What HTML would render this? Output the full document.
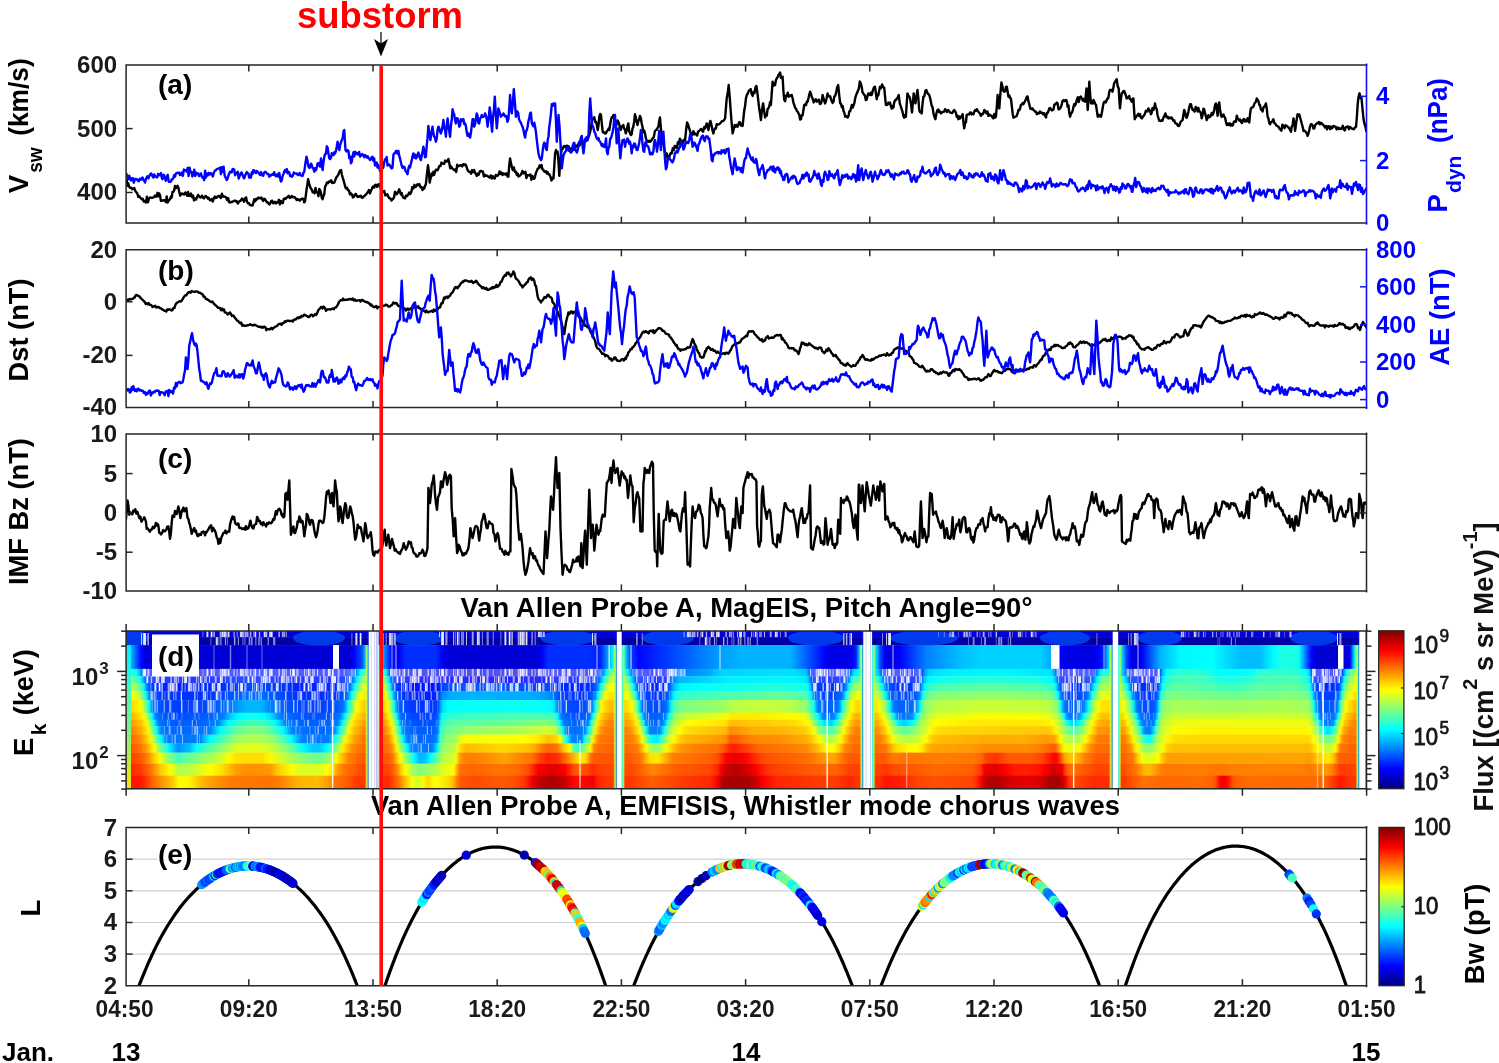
<!DOCTYPE html>
<html><head><meta charset="utf-8"><title>figure</title>
<style>
html,body{margin:0;padding:0;background:#fff;}
svg{display:block;font-family:"Liberation Sans",sans-serif;font-weight:bold;}
.ax{fill:none;stroke:#262626;stroke-width:1.5;stroke-linecap:square}
.axb{fill:none;stroke:#1010ff;stroke-width:1.6;stroke-linecap:square}
.tk{stroke:#262626;stroke-width:1.5}
.tkb{stroke:#1212ff;stroke-width:1.5}
.tl{font-size:24px;fill:#1a1a1a}
.bl{fill:#0000ff !important}
.yl{fill:#000}
.k{fill:none;stroke:#000;stroke-width:2.4;stroke-linejoin:round}
.b{fill:none;stroke:#0000ff;stroke-width:2.4;stroke-linejoin:round}
.g{stroke:#d0d0d0;stroke-width:1.2}
.cb{font-weight:normal;font-size:23.6px;fill:#161616;stroke:#161616;stroke-width:0.85}
.cbs{font-weight:normal;font-size:18px;fill:#161616;stroke:#161616;stroke-width:0.7}
</style></head><body>
<svg width="1499" height="1063" viewBox="0 0 1499 1063">
<rect width="1499" height="1063" fill="#fff"/>
<clipPath id="ca"><rect x="126.1" y="65.1" width="1240.4" height="158.0"/></clipPath><g clip-path="url(#ca)">
<path d="M126.1 182 126.7 180.1 127.5 185.8 128.3 183.5 129.2 186.8 130.2 187.8 131.3 187.8 132.3 189.3 133.3 188.4 134.3 188 135.3 191.1 136.3 192.3 137.3 193.5 138.3 196.8 139.2 196.1 140 197.2 140.8 198.2 141.7 199.3 142.7 198.7 143.8 201.6 144.8 200.9 145.9 202.6 146.9 196.8 147.9 202.4 148.9 199 149.9 197.5 150.9 197.6 151.9 197.8 152.9 197.6 153.9 197.2 154.9 195.6 155.9 196.8 156.7 196.2 157.5 192.8 158.4 196.4 159.2 193.4 160 195.3 160.9 200.9 161.7 200.4 162.5 200.5 163.4 200.6 164.2 200.1 165 200.3 165.9 202.1 166.7 196.5 167.5 202.6 168.4 201.1 169.2 199.9 170 199.3 170.9 196.5 171.7 197.6 172.5 192 173.4 191.8 174.2 190.2 175 186 175.9 188.2 176.7 186.8 177.5 185.8 178.4 187.5 179.2 191.8 180.2 195.7 181.3 193.9 182.3 193.4 183.4 194.3 184.3 194.6 185.3 192.4 186.2 193.2 187.2 195.7 188.1 192 189.1 195.9 190 195.9 191 193.6 192 196.9 193 195.5 194 200.4 195.1 198.4 196.1 199.6 197.1 197.1 198.1 194.9 199.1 196.4 200.1 197.6 201 197.2 202 195.6 202.9 197.5 203.9 198.4 204.8 196.7 205.8 196 206.7 196.8 207.8 198.6 208.8 197.8 209.9 200.4 210.9 200.1 211.9 199 212.8 201.5 213.8 198.2 214.8 196.6 215.8 198 216.7 197.6 217.8 196.3 218.8 195.8 219.9 196.9 220.9 198.1 221.9 193.6 223 196.7 224 196.4 225.1 196.8 226.1 197.5 227.1 200.1 228.1 198.1 229.1 202.2 230.1 202.6 231 201.8 232 202.1 232.9 201.4 233.9 201 234.8 200.4 235.8 201.6 236.7 200.9 237.8 203.6 238.8 201.7 239.9 201.1 240.9 200.4 242 198.5 243 199.8 244 201.7 245.1 198.4 246.1 197.4 247 201.8 248 203.2 249 203.2 249.9 205 250.9 205.1 251.8 205.6 252.6 205.4 253.4 202.6 254.3 199.3 255.3 201.2 256.3 198.8 257.4 199.2 258.4 197.6 259.4 198 260.3 198.4 261.3 197.5 262.2 199.5 263.2 200.9 264.1 198.7 265.1 199.3 265.9 200.6 266.8 202.2 267.6 202.3 268.4 203.4 269.4 204.5 270.3 203.3 271.3 200.9 272.2 200.8 273.2 203.3 274.2 202.9 275.1 201.8 276.1 203.5 277 202.3 278 202.4 278.9 199.8 279.9 204.4 280.8 201 281.8 202.6 282.8 203.1 283.8 198.8 284.8 198.5 285.8 198.8 286.8 197.6 287.8 196.6 288.8 195.8 289.8 197.9 290.8 197.2 291.8 195.9 292.8 197.3 293.8 197 294.8 197.1 295.8 198.5 296.8 200.1 297.8 199.1 298.8 199.7 299.8 200.7 300.8 199.1 301.8 199.3 302.6 198.4 303.5 199.1 304.3 202.4 305.1 200.9 305.8 195.7 306.5 190.1 307.3 185 308.1 179.2 309.1 183.4 310.1 186.8 311 188.9 311.8 189.4 312.6 192.3 313.5 191.8 314.5 193.2 315.5 187.9 316.6 192.2 317.6 192.6 318.5 196.2 319.3 189 320.1 190.1 321 193.3 321.8 197.8 322.6 199.3 323.5 195.7 324.3 194.2 325.1 186.7 326 185.1 327 182.4 328.1 183.1 329.1 181.5 330.1 181.7 331.2 180.3 332.2 183 333.3 182.8 334.3 182.6 335.1 180.6 336 178.1 336.8 176.7 337.9 175.5 338.9 173.2 339.9 170.6 341 170.1 341.8 174.2 342.6 177.3 343.5 180.1 344.3 183 345.2 186.7 346 188.4 347 187.8 348 190.2 349 190.6 350 194.4 351 193.4 352 194.6 352.9 197.4 353.9 197 354.9 194.5 355.9 193.9 356.8 195.9 357.8 197 358.8 196.2 359.8 196.7 360.8 195.7 361.8 197.6 362.8 197.7 363.8 196.2 364.8 195.7 365.8 194.7 366.8 193.4 367.9 192.1 368.9 190.1 370 193.4 370.8 190.9 371.7 189.3 372.5 187.3 373.3 186.4 374.2 187.6 375 185.1 376 184.7 377.1 186.9 378.1 184.7 379.2 184.2 380.2 187.2 381.3 188.8 382.3 191.1 383.3 191.8 384.3 190.9 385.3 195.4 386.3 194.9 387.3 194.3 388.3 196.8 389.4 198.3 390.4 198.5 391.5 200.6 392.5 199.3 393.4 198.7 394.2 196.5 395 191.8 395.9 192.6 396.7 194.3 397.5 193.2 398.4 191.3 399.2 189.3 400 191.6 400.9 194.4 401.7 193 402.5 195.9 403.4 197.8 404.2 197.6 405 198.4 406.1 195.5 407.1 196.1 408.2 194.6 409.2 192.6 410.2 194.1 411.3 191.9 412.3 187.1 413.4 188.4 414.4 184.8 415.4 187 416.4 186.1 417.4 184.3 418.4 185.1 419.4 184.1 420.5 187.3 421.5 187.1 422.5 190.1 423.4 187.6 424.2 188.5 425 186.1 425.9 184.2 427 173.5 428 165.1 428.9 172.1 429.7 182.6 430.7 177.7 431.7 173.4 432.5 175.6 433.4 171.8 434.2 174.8 435 171.7 435.9 169.7 436.7 169.8 437.5 170.3 438.4 168.4 439.4 166 440.5 166 441.5 162.6 442.6 163.4 443.4 163.8 444.2 163.9 445.1 160.6 445.9 160.9 446.7 161.6 447.6 161.1 448.4 158.9 449.2 162.6 450.2 168.2 451.2 166.5 452.2 168.3 453.2 169.2 454.2 170.1 455.2 169.5 456.2 172 457.2 164.8 458.2 166.3 459.2 165.9 460.2 165.1 461.2 165.3 462.2 166.4 463.2 164.2 464.2 165.1 465.2 164.2 466.2 165.6 467.2 169.1 468.1 170.9 469.1 171.8 470.1 171.7 471.1 173.7 472.2 170.1 473.2 172 474.2 170.1 475.1 173 475.9 173.7 476.7 175.9 477.8 173.5 478.8 174.7 479.9 171.1 480.9 170.9 481.9 171.5 482.9 171.4 483.9 176.5 484.9 174.8 485.9 175.9 486.9 175.6 487.9 176.4 488.8 176.8 489.8 177.7 490.8 175.4 491.8 178.4 492.8 176.2 493.8 178.2 494.8 178.5 495.8 174.9 496.8 175.9 497.7 175.7 498.7 174.3 499.6 171.4 500.6 174 501.5 172.5 502.5 175.1 503.4 173.4 504.4 173.8 505.4 174.7 506.4 173.2 507.4 176.3 508.4 176.7 509.3 164.6 510.1 158.4 510.9 162.9 511.8 166.7 512.8 170.1 513.8 167.4 514.9 171.8 515.9 171.7 516.8 174.9 517.6 173.5 518.4 176.5 519.3 175.9 520.3 175.4 521.4 173.9 522.4 171 523.4 173.4 524.4 172.1 525.4 171.8 526.4 178 527.4 175.1 528.4 175.1 529.4 175.5 530.4 174.4 531.4 179.7 532.4 176 533.4 178.4 534.3 178.8 535.1 176.3 535.9 172.9 536.8 170.9 537.7 168.7 538.6 168.5 539.6 165.4 540.5 167.2 541.5 165.1 542.4 169.3 543.3 169.7 544.2 171.6 545.1 171.7 546 171.3 546.8 173.5 547.6 172.1 548.5 174.2 549.5 174.4 550.5 177 551.5 180.5 552.5 177.7 553.5 178.4 554.3 166 555.1 153.4 556 150 556.8 152.5 557.6 151.7 558.5 162.5 559.3 175.9 560.1 162.5 561 153.4 561.8 148.9 562.6 149.2 563.5 146.7 564.5 145.9 565.6 147.3 566.6 145.7 567.6 145.9 568.7 146.5 569.7 149.3 570.8 149 571.8 148.4 572.8 149.2 573.8 149.9 574.8 147.7 575.8 145.6 576.8 146.7 577.8 144.9 578.8 143 579.8 145.3 580.8 143.4 581.8 143.4 582.8 143.5 583.8 143.3 584.8 140.2 585.8 141 586.8 140.1 587.6 139.9 588.5 136 589.3 135.2 590.2 131.7 591 127 591.8 121.4 592.7 118.4 593.5 118.9 594.3 117.2 595.2 121.9 596 121.7 596.8 125.1 597.7 130 598.5 125.4 599.3 116.7 600.2 114 601 115 601.8 123.6 602.7 131.7 603.5 132.6 604.3 132.2 605.2 133.5 606 133.4 606.8 131.4 607.7 130.1 608.5 128.8 609.3 130 610.2 124.2 611 120 611.8 117.1 612.7 117.1 613.5 115 614.3 118.4 615.1 121.8 615.8 126.7 616.7 123.9 617.5 120.5 618.3 121.7 619.2 123.9 620 127.9 620.8 130 621.7 126.4 622.5 126.3 623.3 125 624.2 128.8 625 129.6 625.8 133.4 626.7 130.3 627.5 126.1 628.3 123.4 629.2 131 630 133.3 630.8 135.1 631.7 134.1 632.5 128.5 633.3 126.7 634.2 121.4 635 114.2 635.9 117.6 636.7 122 637.5 125 638.4 121.1 639.2 119.2 640 115.9 640.9 118.3 641.7 123.5 642.5 126.7 643.4 132.3 644.2 130.5 645 133.5 645.9 138.4 646.7 140.3 647.5 141.8 648.4 141.7 649.2 140.7 650 141.8 650.9 141.1 651.7 140.1 652.7 138.4 653.8 137.1 654.8 131.6 655.9 130 656.7 129.9 657.5 128.1 658.4 126.7 659.2 121.1 660 117.5 661 129.6 662 140.1 663 142.5 664 146.7 665 153.4 665.9 155.9 666.7 153.4 667.5 158.5 668.4 156.7 669.2 157.5 670 154.3 670.9 152.9 671.7 153.4 672.8 148.3 673.8 149.9 674.8 145.9 675.9 146.7 676.9 148.1 677.9 142.2 678.9 143.8 679.9 138.6 680.9 141.7 681.9 140.8 683 142.9 684 139.8 685.1 140.1 686.1 130 687.1 122.5 688.1 124.7 689.2 128.4 690.1 131.2 690.9 134.2 691.7 135.1 692.6 134.3 693.4 131.1 694.2 134.3 695.1 133.4 696.1 134.2 697.1 135.6 698.1 131.6 699.1 131 700.1 130 701.1 128.9 702.1 130.5 703.1 131.7 704.1 127.2 705.1 128.4 705.9 126 706.7 123.4 707.6 125.1 708.4 130 709.4 124.4 710.4 120.9 711.4 124.8 712.4 130 713.4 133.4 714.2 129.8 715.1 128.3 715.9 128.6 716.7 124.2 717.8 124.6 718.8 124.4 719.9 123.6 720.9 122.5 721.9 121.2 723 121.1 724 120.2 725.1 118.4 725.9 108.4 726.7 98.4 727.7 93.3 728.7 85 729.6 95.9 730.4 106.7 731.5 121.4 732.6 133.4 733.7 129.2 734.7 125 735.7 126.7 736.6 125.1 737.6 126.7 738.4 124.5 739.3 122.1 740.1 122.5 740.9 125.5 741.8 125.5 742.6 125.9 743.4 118.3 744.3 110 745.1 106 745.9 98.7 746.8 95 747.8 93.5 748.8 90.9 749.8 90 750.7 89.1 751.6 93.5 752.6 95.9 753.6 92 754.5 93 755.5 87.2 756.4 85.9 757.4 92.8 758.4 101.7 759.3 109.3 760.1 113.9 760.9 120 762 109.6 763.1 103.4 764.1 110.8 765.1 117.5 765.9 114.1 766.8 115.6 767.6 109 768.4 108.4 769.3 106.1 770.1 101.9 770.9 105 771.8 92.3 772.6 81.7 773.4 85.7 774.3 83.7 775.1 85 775.9 80.2 776.8 78.3 777.6 77.3 778.4 75 779.3 73.9 780.1 72.5 780.9 77.7 781.8 78.4 782.6 76.7 783.4 90.8 784.3 100 785.1 101.2 786 95.8 786.8 95.9 787.8 92.7 788.8 96.7 789.8 96 790.8 95.2 791.8 95 792.6 98.2 793.5 102.8 794.3 105 795.1 107.6 796 108.8 796.8 110.8 797.6 111.7 798.5 113.3 799.3 114.9 800.1 119.5 801 119.2 801.8 115.3 802.6 115.2 803.5 109.6 804.3 105 805.1 104.3 806 105.1 806.8 101.8 807.6 101.7 808.5 98.1 809.3 94.5 810.1 91.7 811 93.9 811.8 97.2 812.6 98.4 813.7 102.4 814.7 100.8 815.8 99.2 816.8 101.7 817.8 100.8 818.9 99.7 819.9 104.1 821 103.4 821.8 100.5 822.6 95 823.5 98.3 824.3 101.1 825.1 103.4 826 100.8 826.8 97.3 827.6 93.4 828.5 95.8 829.3 96.6 830.1 96.2 831 99.2 831.8 101.5 832.6 102.9 833.5 101.7 834.3 96.4 835.2 95.8 836 93.4 837.1 87.4 838.2 85 839.2 95 840.2 103.4 841 103.8 841.8 107.2 842.7 105.9 843.5 111.2 844.3 112.4 845.2 116.7 846 116.2 846.8 116.4 847.7 117.5 848.5 116.1 849.3 111.5 850.2 111.3 851 108.4 851.8 105 852.7 107.5 853.5 105.3 854.3 103.4 855.2 98.2 856 95.5 856.8 93.4 857.8 91.1 858.8 88.8 859.8 81.5 860.8 83.3 861.7 87 862.5 92.3 863.3 93.4 864.2 94.9 865 95.7 865.8 100 866.7 99.7 867.5 95.9 868.3 93.4 869.2 94.1 870 95.1 870.8 92.7 871.7 95 872.5 91.9 873.3 89.1 874.2 87 875 86.7 875.8 92.4 876.7 99.2 877.5 94.4 878.3 95.4 879.2 90.6 880 86.7 881.1 88.2 882.1 84.5 883.1 87 884.2 87.5 885 96 885.9 105 886.7 104.9 887.5 104.9 888.4 102.5 889.2 103.4 890 102.6 890.9 106.1 891.7 108.7 892.5 105.9 893.4 107.6 894.2 102.5 895 100.3 895.9 100 896.8 98.6 897.8 97.4 898.7 95 899.8 103.6 900.9 106.7 901.7 109.4 902.5 111.7 903.4 115.9 904.2 117.7 905 115.3 905.9 116.7 906.7 103.7 907.5 93.4 908.4 95.8 909.2 96.4 910 98.4 911 103.8 912 112.5 912.9 102.5 913.7 93.4 914.5 97.7 915.4 103.4 916.5 96.3 917.5 90 918.4 98.9 919.2 110 920 112 920.9 111.7 921.7 113.4 922.5 104.1 923.4 96.7 924.4 96.1 925.4 90.8 926.4 90 927.3 92.8 928.3 94.2 929.2 95 930.1 97.9 930.9 101.7 931.7 105.9 932.6 107.2 933.4 113.4 934.4 116.7 935.4 119.2 936.5 113 937.6 110 938.4 109.5 939.2 112.1 940.1 111.4 940.9 113.4 941.9 112.5 943 111.9 944 111.8 945.1 109.2 946.1 110.5 947.1 112.1 948.1 110 949.1 111.3 950.1 112.5 951.1 112.9 952.1 113.1 953.2 111.3 954.2 110 955.1 111.4 955.9 112.8 956.7 116.7 957.6 115.7 958.4 119.2 959.2 116.5 960.1 118.4 960.9 116.6 961.7 116.5 962.6 114.2 963.4 121.9 964.2 128.4 965.1 122.9 965.9 122.5 966.7 115 967.6 114.7 968.4 114.2 969.2 114.4 970.1 112.5 970.9 112.5 971.7 114.4 972.6 113.6 973.4 114.2 974.2 111.6 975.1 110.2 975.9 111 976.7 109.2 977.8 111 978.8 112.3 979.9 113.5 980.9 115.9 981.8 114 982.6 114.2 983.4 113.2 984.3 110 985.3 111.1 986.3 113.3 987.4 111.6 988.4 115.9 989.5 114.5 990.5 115.6 991.5 115.7 992.6 117.5 993.4 118.4 994.3 114 995.1 117.6 995.9 116.7 996.8 106.9 997.6 95 998.4 105 999.3 108.4 1000.3 94.7 1001.4 82.5 1002.4 86.3 1003.3 90.9 1004.3 91.7 1005.1 91.4 1005.9 86.9 1006.8 86.7 1007.6 91.1 1008.4 96.7 1009.3 95.5 1010.1 97.9 1010.9 98.4 1011.8 105.8 1012.6 113.2 1013.4 117.5 1014.5 117.3 1015.5 116.8 1016.6 116 1017.6 113.4 1018.4 110 1019.3 110.2 1020.1 108.6 1020.9 105 1021.8 104.5 1022.6 103 1023.4 104.2 1024.3 102.6 1025.1 100.7 1025.9 99.6 1026.8 96.7 1027.6 96.5 1028.4 101.1 1029.3 104.2 1030.3 108.7 1031.4 109.1 1032.4 108.3 1033.5 110 1034.3 110.6 1035.1 111.7 1036 111.7 1036.8 114.2 1037.8 113.2 1038.8 113.5 1039.8 111.4 1040.8 112.8 1041.8 112.5 1042.8 114.2 1043.9 113.1 1044.9 115.6 1046 117.5 1046.8 112.9 1047.6 113 1048.5 111 1049.3 108.4 1050.1 108 1051 109.3 1051.8 110.4 1052.6 110 1053.5 109.4 1054.3 104.7 1055.1 104.5 1056 103.4 1056.8 102.6 1057.6 103.4 1058.5 109.3 1059.3 109.2 1060.1 108.3 1061 106.9 1061.8 104.1 1062.6 100.9 1063.7 100.1 1064.7 101.2 1065.8 100 1066.8 100.9 1067.6 106.9 1068.5 105.2 1069.3 113.3 1070.1 116.7 1071 113.4 1071.8 112.8 1072.6 111 1073.5 106.7 1074.3 104.1 1075.1 105.4 1076 103.3 1076.8 100 1077.8 97.3 1078.8 102.1 1079.8 97.2 1080.8 96.6 1081.8 98.4 1082.7 100.6 1083.5 98.9 1084.3 101.2 1085.2 101.7 1085.8 95 1086.5 88.4 1087.1 97.7 1087.7 110 1088.5 98.3 1089.3 81.7 1090.2 94.8 1091 103.4 1091.8 102.4 1092.7 103.5 1093.5 100 1094.3 101.7 1095.2 103.8 1096 105 1096.8 110.4 1097.7 116.7 1098.5 114.7 1099.3 116.2 1100.2 115.3 1101 116.7 1101.8 112.9 1102.7 108 1103.5 103.4 1104.3 101.7 1105 101.7 1105.8 102.5 1106.7 100 1107.5 98.4 1108.3 98.3 1109.2 92.2 1110 90 1110.8 90 1111.7 90 1112.5 91.7 1113.3 87.9 1114.2 83.3 1115 81.7 1115.8 80.6 1116.7 79.2 1117.7 86.4 1118.7 88.4 1119.3 99.6 1120 108.4 1120.8 99.9 1121.7 93.4 1122.5 93.1 1123.3 91.3 1124.2 90.9 1125 92.9 1125.9 95.5 1126.7 98.4 1127.5 97.6 1128.4 97.7 1129.2 95.9 1130 99.3 1130.9 99.8 1131.7 101.7 1132.5 98.8 1133.4 98.4 1134 108.8 1134.7 119.2 1135.6 117.5 1136.6 116 1137.5 115 1138.4 113.8 1139.2 116.1 1140 114.2 1140.9 117.5 1141.9 118.4 1142.9 116.6 1144 115.5 1145 113.4 1145.9 110.7 1146.7 111.2 1147.5 111.5 1148.4 108.4 1149.2 110 1150 110.7 1150.9 114.2 1151.7 112.6 1152.5 108 1153.4 110 1154.2 108.1 1155 103.4 1155.9 107.9 1156.7 109.1 1157.5 115 1158.4 118 1159.2 120.6 1160 120.9 1160.9 121 1161.7 120.2 1162.5 120.7 1163.4 117.5 1164.4 115.8 1165.4 113.4 1166.4 117.2 1167.4 116.4 1168.4 118.4 1169.4 117.5 1170.5 118.3 1171.5 117.4 1172.5 119.2 1173.4 120.8 1174.2 120.2 1175.1 122.9 1175.9 123.4 1176.9 123.9 1178 125.8 1179 126 1180.1 123.4 1180.9 121.4 1181.7 120.9 1182.6 120 1183.4 114.8 1184.2 110 1185.1 112.4 1185.9 116.7 1186.7 117.8 1187.6 115.2 1188.4 111.7 1189.2 107.6 1190.1 104.2 1190.9 104.1 1191.7 107.1 1192.6 110 1193.6 109.7 1194.6 111.6 1195.7 106.9 1196.7 108.4 1197.6 111.4 1198.4 107.9 1199.2 111.4 1200.1 111.7 1200.9 113.3 1201.7 118.4 1202.6 114.7 1203.4 108.7 1204.2 109.2 1205.1 113.7 1205.9 116.5 1206.7 120 1207.6 117.6 1208.4 115.2 1209.2 117.4 1210.1 116.7 1210.9 115.8 1211.7 112.9 1212.6 114.9 1213.4 113.4 1214.2 109.8 1215.1 105 1215.9 103.4 1216.7 108.4 1217.6 115.9 1218.4 105.5 1219.2 102.5 1220.1 109.9 1220.9 115 1221.7 116.9 1222.6 115.6 1223.4 114.4 1224.2 116.7 1225.1 117.8 1225.9 121.8 1226.8 125 1227.8 123.5 1228.8 125.1 1229.8 123.2 1230.8 125.7 1231.8 124.2 1232.8 125.4 1233.8 122 1234.9 121.1 1235.9 121.7 1236.8 115.6 1237.6 118.4 1238.4 119.2 1239.3 120.6 1240.1 119.4 1240.9 121.7 1241.9 123 1242.9 120 1243.9 118.9 1244.9 121.6 1245.9 120 1246.8 121.3 1247.6 118.2 1248.4 120.8 1249.3 122.5 1250.1 113.5 1250.9 108.4 1251.8 107.5 1252.6 107.5 1253.4 106.7 1254.3 103.9 1255.1 102.7 1255.9 101.8 1256.8 98.4 1257.6 100.1 1258.4 100.9 1259.3 105 1260.1 105.2 1260.9 109.6 1261.8 110 1262.6 111.5 1263.4 107.5 1264.3 106.7 1265.1 105.6 1265.9 103.4 1266.8 108.8 1267.6 116.7 1268.4 118.3 1269.3 123.1 1270.1 124.2 1270.9 122.2 1271.8 121.9 1272.6 120.6 1273.4 119.2 1274.3 122.9 1275.1 123.4 1276 125 1276.8 125.8 1277.6 126.2 1278.5 126.7 1279.3 128.4 1280.3 129.5 1281.4 130.7 1282.4 124.7 1283.5 126.7 1284.5 128.2 1285.5 125.2 1286.6 125.8 1287.6 126.7 1288.5 127.5 1289.3 128.5 1290.1 129.9 1291 131.7 1291.8 126.3 1292.6 125.5 1293.5 118.4 1294.3 122.4 1295.1 130.9 1296 124.3 1296.8 118.6 1297.6 114.2 1298.5 115.6 1299.3 114.5 1300.1 117.5 1301 120.6 1301.8 123.8 1302.6 126.7 1303.5 131.1 1304.3 130.6 1305.1 131 1306 132.5 1306.8 133 1307.6 135.8 1308.5 133.4 1309.3 130.1 1310.1 126.2 1311 124.2 1311.8 124.3 1312.6 125.7 1313.5 128.6 1314.3 128.4 1315.1 125.2 1316 124.2 1316.8 123.4 1317.8 123.3 1318.8 122 1319.8 124.3 1320.8 122.8 1321.8 123.4 1322.9 124.7 1323.9 125.4 1324.9 127.5 1326 125.9 1327 129.3 1328.1 126.2 1329.1 126.4 1330.2 129.2 1331 126.6 1331.8 128.2 1332.7 127.5 1333.5 125.9 1334.5 126.3 1335.6 126.6 1336.6 129.4 1337.7 127.5 1338.7 129.1 1339.7 128.3 1340.8 129.1 1341.8 128.4 1342.8 125.8 1343.8 129.5 1344.8 130.4 1345.8 127.2 1346.8 126.7 1347.9 126.4 1348.9 129.2 1350 126.9 1351 128 1352 128.6 1353 129 1354 129.2 1355 127.4 1356 127 1356.8 118 1357.7 104.1 1358.5 97 1359.5 93.3 1360.4 98.1 1361.4 97 1362.5 108.8 1363.5 119 1364.5 123.7 1365.5 127.1 1366.5 132.0" class="k"/>
<path d="M126.1 173 126.7 175.1 127.5 176.1 128.3 179.2 129.2 175.7 130 178.4 131 180.5 131.9 178.1 132.9 178.2 133.8 182.7 134.8 179.3 135.7 179 136.7 179.2 137.7 180.5 138.7 181.2 139.7 178.7 140.7 179.8 141.7 178.4 142.5 177.5 143.3 179.8 144.2 180.7 145 182.6 145.9 178.9 146.7 177.5 147.5 176.2 148.4 178.4 149.2 176.3 150 174.7 150.9 173.4 151.7 174.2 152.5 176.3 153.4 177.6 154.3 174.5 155.3 176.6 156.3 176.8 157.2 177.4 158.2 173.8 159.2 175.1 160 175.3 160.9 173.1 161.7 177.2 162.5 179.2 163.6 174.6 164.6 176 165.7 180.8 166.7 178.4 167.7 174.8 168.8 181.7 169.8 181.6 170.9 181.7 171.7 179.5 172.5 179.3 173.4 177.8 174.2 175.1 175 176.6 175.9 173.5 176.7 173.4 177.5 172.6 178.4 173 179.2 172.7 180 175.1 181 174.5 181.9 172.6 182.9 175.8 183.9 169.4 184.8 170.5 185.8 170.3 186.7 171.7 187.7 167.8 188.6 176 189.6 167.6 190.5 172.1 191.5 171.9 192.4 176.5 193.4 173.4 194.3 169.7 195.3 176 196.2 172.7 197.2 174.1 198.1 173.3 199.1 176.1 200.1 175.1 200.9 173.4 201.7 176.2 202.6 177.7 203.4 177.6 204.2 180.2 205.1 170.7 205.9 177.5 206.7 173.4 207.7 175.5 208.7 172.8 209.7 174.5 210.7 173.1 211.7 174.2 212.8 176.5 213.8 172.6 214.9 170.7 215.9 170.1 216.7 169.2 217.6 168.8 218.4 168.5 219.2 168.4 220.1 167.5 220.9 174.2 221.7 167.1 222.6 171.7 223.6 166.6 224.7 175.7 225.7 177.7 226.7 180.1 227.6 178.7 228.4 175.5 229.2 173.5 230.1 171.7 230.9 171.8 231.7 172.4 232.6 169 233.4 169.2 234.2 169.5 235.1 175.2 235.9 173.4 236.7 173.4 237.7 171.7 238.7 178.6 239.7 175.8 240.6 173.3 241.6 172.4 242.6 175.1 243.4 177.3 244.2 178.4 245.1 175.5 245.9 173.8 246.8 172.1 247.6 173.4 248.4 173.4 249.3 177.7 250.1 175.7 250.9 177.6 251.8 172.2 252.6 173.9 253.4 170.1 254.3 170.4 255.1 172.2 255.9 173.1 256.8 170.9 257.6 171.6 258.4 172.7 259.3 173.9 260.1 175.1 261.1 172.1 262.1 175.1 263.1 175.8 264.1 172.8 265.1 171.7 266.1 172.5 267.2 173.7 268.2 173.9 269.3 176.7 270.2 174.9 271.2 175.4 272.2 174.2 273.2 174.8 274.1 172.2 275.1 175.1 275.9 176.2 276.8 176 277.6 174 278.4 176.7 279.3 173 280.1 178.4 280.9 181.5 281.8 180.1 282.6 176.1 283.4 174.1 284.3 171.4 285.1 170.1 285.9 171.8 286.8 169.1 287.6 173.3 288.4 171.7 289.3 172.4 290.1 176.1 290.9 175.6 291.8 176.7 292.8 175.6 293.8 172.5 294.8 173.4 295.8 173.6 296.8 173.4 297.8 175.1 298.8 174.6 299.8 173 300.8 175.6 301.8 175.1 302.6 175.9 303.5 172.6 304.3 171.7 305.4 163.4 306.5 156.7 307.5 160.9 308.5 166.7 309.3 167.9 310.1 167 311 163.6 311.8 165.1 312.6 168 313.5 168.6 314.3 171.7 315.1 168.2 316 170.1 316.8 167.1 317.6 163.4 318.5 163.1 319.3 165.8 320.1 166.7 321 158.4 321.8 165.2 322.6 170.1 323.5 162.1 324.3 156.7 325.1 154.2 326 153.5 326.8 146.3 327.6 147.6 328.5 153.6 329.3 158.4 330.1 159 331 157.7 331.8 153.2 332.6 155.1 333.5 155.1 334.3 152.2 335.1 153.4 336 150.6 336.8 146.8 337.6 141.7 338.5 146.3 339.3 150.1 340.1 145.2 341 142.2 341.8 140.1 342.6 138.4 343.5 131.6 344.3 130 344.9 141 345.5 150.1 346.5 151.4 347.5 150.1 348.5 150.9 349.3 158.4 350.2 156.5 351 163.3 351.8 161.7 352.7 155.2 353.5 152.2 354.3 156.2 355.2 151.7 356.2 154 357.2 153.1 358.2 154.6 359.2 151.9 360.2 156.7 361.2 155.1 362.2 154 363.2 155.3 364.2 157.2 365.2 155.1 366 156 366.8 157.5 367.7 156.2 368.5 158.4 369.3 158.4 370 160.1 370.8 159.2 371.7 157.3 372.5 156.7 373.3 160.9 374.2 158.3 375 165.5 375.8 163.4 376.7 162.5 377.5 167.6 378.3 165 379.2 167.6 380 171.1 380.8 168.3 381.7 169 382.5 168.4 383.3 167.6 384.2 162.5 385 159.4 385.8 159.2 386.7 157.1 387.5 165.6 388.3 165.1 389.2 164.5 390 165.6 390.9 167.5 391.7 168.4 392.5 167.4 393.4 154.9 394.2 153.4 395 153.1 395.9 150.9 396.7 150.9 397.5 153.8 398.4 151 399.2 155.7 400 158.4 400.9 162.2 401.7 165.7 402.5 167.8 403.4 166.7 404.4 166.9 405.4 170.6 406.5 172.1 407.5 174.2 408.4 168.8 409.2 165.9 410 167.6 410.9 163.4 411.7 160.6 412.5 156.4 413.4 153.4 414.2 157.5 415 154.7 415.9 158.4 416.7 157.5 417.5 154.5 418.4 152.6 419.2 154.9 420 158.5 420.9 160.1 421.7 156 422.5 151.7 423.4 146.7 424.2 150.6 425 157.3 425.9 156.7 426.7 145.8 427.5 138.2 428.4 125.9 429.4 134.2 430.4 140.1 431.5 132.7 432.5 126.7 433.4 133.3 434.2 136.7 435 137.5 435.9 141.7 436.7 139 437.5 130.1 438.4 126.7 439.2 128 440.1 131.8 440.9 133.4 441.7 130.6 442.6 126.3 443.4 120 444.2 127.4 445.1 130.7 445.9 136.7 446.7 125.6 447.6 118.4 448.4 125.6 449.2 131.2 450.1 136.7 450.9 125.6 451.7 120.3 452.6 109.2 453.4 113.1 454.2 114.4 455.1 120.7 455.9 123.4 456.7 118.2 457.6 118.4 458.4 120.8 459.2 126.7 460.1 125.3 460.9 119.1 461.7 120 462.6 120.9 463.4 119 464.2 124 465.1 123.4 465.9 126.1 466.7 132.1 467.6 135.9 468.4 133.4 469.2 136.3 470.1 137.6 470.9 133.3 471.7 126.2 472.6 119.2 473.4 119.3 474.2 126.7 475.1 124.1 475.9 119.6 476.7 113.4 477.6 116 478.4 122.9 479.2 123.4 480.1 118.5 480.9 117.6 481.7 115 482.6 116.8 483.4 116.8 484.2 116.3 485.1 113.4 485.9 115.6 486.7 118.7 487.6 126.7 488.7 117.9 489.7 107.5 490.5 112.7 491.3 123.4 492.1 131.7 493 117.5 493.9 110.5 494.8 96.7 495.8 114.1 496.8 128.4 497.6 119.5 498.4 108.4 499.3 111.2 500.1 114 500.9 116.7 501.8 115 502.6 115.2 503.4 113.4 504.4 115 505.4 116.6 506.4 116 507.4 121.8 508.4 119.2 509.3 107.7 510.1 95 510.9 107 511.8 113.4 512.8 103.9 513.8 89.2 514.8 101.2 515.9 116.7 517 111.2 518.1 112.5 519.1 119.6 520.1 121.7 520.9 122.6 521.8 125.2 522.6 126.7 523.4 129.8 524.3 134.2 525.1 137.6 525.9 131.6 526.8 130.1 527.6 126.7 528.4 121.3 529.3 117.8 530.1 113.4 530.9 112.6 531.8 122.8 532.6 125 533.4 126.3 534.3 122.7 535.1 126.7 535.9 131.9 536.8 140.1 537.6 146.7 538.4 153 539.3 156.7 540.1 158.4 541 160.1 541.8 158.5 542.6 151.4 543.5 144.9 544.3 142.6 545.1 143.7 546 149 546.8 150.1 547.6 141.1 548.5 136.2 549.3 126.7 550.1 121.2 551 112.9 551.8 104.2 552.6 106 553.5 103.4 554.3 103.6 555.1 103.4 556 121.4 556.8 141.7 557.6 127.2 558.5 115 559.5 126.1 560.5 143.4 561.1 154.8 561.8 168.4 562.6 161.3 563.5 155.5 564.3 153.4 565.1 152 566 151 566.8 147.7 567.6 146.7 568.7 150.7 569.7 151.1 570.8 152.6 571.8 151.7 572.6 146.4 573.5 143.4 574.3 142.7 575.1 149.1 576 150.9 576.8 152.6 577.6 150.4 578.5 146.2 579.3 141.7 580.1 142.3 581 137.3 581.8 135.9 582.6 146 583.5 153.4 584.3 146.6 585.1 138.8 586 138.4 586.8 136.9 587.6 140.3 588.5 136.7 589.3 114.2 590.2 98.4 591.2 113.7 592.2 125 593.2 127 594.3 131.7 595.2 133.1 596 136.2 596.8 138.4 597.7 139.6 598.5 138.1 599.3 141.1 600.2 141.7 601 143.9 601.8 145.9 602.7 144 603.5 146.7 604.3 147 605.2 145 606 138.4 606.8 151.1 607.7 154.2 608.5 147.6 609.3 146.7 610.2 138.6 611 138.4 611.8 135.3 612.7 131.7 613.5 126.7 614.3 118.6 615 115 615.8 126 616.7 143.4 617.5 136.3 618.3 128.4 619.3 144.6 620.3 158.4 621.4 147.6 622.5 140.1 623.3 141.8 624.2 139.4 625 146.7 625.8 142.5 626.7 141.5 627.5 138.4 628.3 139.8 629.2 143.8 630 141.7 630.8 145.3 631.7 153.4 632.5 145.6 633.3 147.6 634.2 143.4 635 143.9 635.9 147.3 636.7 149.8 637.5 150.1 638.4 146.3 639.2 142.9 640 137.8 640.9 130 641.7 133.7 642.5 143.8 643.4 150.9 644.2 151.8 645 144 645.9 141.7 646.7 145.7 647.5 145.8 648.4 147.1 649.2 150.1 650 154.3 650.9 154.2 651.7 152.7 652.5 154.2 653.4 151.3 654.2 142.2 655 140.1 656 144.4 657 151.7 658.1 143.1 659.2 130.9 660 140.5 660.9 150.1 661.7 141.8 662.5 138.7 663.4 131.7 664.2 144.9 665 159.3 665.9 169.2 666.7 167.3 667.5 160.9 668.4 157.6 669.2 157.6 670 159.4 670.9 160.2 671.7 161.7 672.5 162.4 673.4 160.3 674.2 157.6 675 152.6 675.9 152.7 676.7 150.8 677.5 152.5 678.4 150.1 679.2 147.7 680 147.2 680.9 141.7 681.7 143.4 682.5 144.2 683.4 149.6 684.2 148.4 685.1 144.7 685.9 142.1 686.7 143.1 687.6 141.7 688.4 143 689.2 140.5 690.1 134.7 690.9 133.4 691.7 139.1 692.6 146.7 693.4 145.4 694.2 142.6 695.1 143.4 695.9 146 696.7 147.8 697.6 150.9 698.4 144.8 699.2 143.5 700.1 141 700.9 138.4 701.9 136.4 702.8 135.6 703.8 139.4 704.8 141.1 705.8 136.4 706.7 136.7 707.6 136.4 708.4 138.8 709.2 138.4 710.1 145.2 710.9 151.3 711.7 160.1 712.6 161.2 713.4 154.6 714.2 155.1 715.3 153.2 716.3 152.9 717.4 152 718.4 153.4 719.2 152.1 720.1 152.9 720.9 153.8 721.7 150.1 722.6 152.2 723.4 151.8 724.2 150.1 725.1 153.4 725.9 152 726.7 149 727.6 149.4 728.4 148.4 729.2 156.5 730.1 161 730.9 166.7 731.7 170.1 732.6 174.2 733.7 164.8 734.7 158.4 735.8 164.2 736.8 170.1 737.6 169.9 738.4 167.4 739.3 167.8 740.1 168.4 740.9 171.6 741.8 167.9 742.6 172.6 743.4 167 744.3 160.8 745.1 158.4 745.9 158.2 746.8 152.9 747.6 148.4 748.4 151.9 749.3 154.2 750.1 156.5 750.9 158.4 751.8 160.1 752.6 157.5 753.4 161.7 754.3 162.3 755.1 162.9 755.9 158.9 756.8 161.7 757.6 167.8 758.4 172 759.3 175.1 760.1 169.5 760.9 169.1 761.8 167 762.6 165.1 763.4 168.5 764.3 174.7 765.1 178.4 765.9 173.1 766.8 172.4 767.6 170.1 768.4 169.7 769.3 169.9 770.1 167.7 770.9 166.7 771.8 167.5 772.6 170.6 773.4 166.5 774.3 171.7 775.1 172.5 775.9 168.9 776.8 168.4 777.6 167.2 778.4 170 779.3 168.5 780.1 173.4 780.9 171 781.8 176.1 782.6 176.9 783.4 180.1 784.3 179.9 785.1 175 786 175.1 786.8 173.7 787.6 175.7 788.5 182.3 789.3 180.1 790.1 179.7 791 178 791.8 176.8 792.6 178.4 793.5 175.7 794.3 177 795.1 176.7 796 179.3 796.8 182.4 797.6 184 798.5 183.4 799.5 183 800.5 180.1 801.5 178.7 802.5 174.8 803.5 178.4 804.3 174.9 805.1 176.3 806 173.4 806.8 172.6 807.6 175.6 808.5 174.5 809.3 181.2 810.1 181.7 811 180.7 811.8 178.5 812.6 177.5 813.5 175.1 814.3 171 815.1 174.8 816 174.5 816.8 176.7 817.6 178.7 818.5 173.4 819.3 176.2 820.1 178.7 821 184.5 821.8 185.9 822.6 180.3 823.5 181.7 824.3 173.9 825.1 171.7 826 174.4 826.8 175.5 827.6 180.1 828.5 179.5 829.3 171.3 830.1 173.4 831.2 176 832.2 174.3 833.3 177.3 834.3 178.4 835.2 174 836 174.7 836.8 172.5 837.7 170.1 838.7 178.8 839.8 185.1 840.6 182.4 841.4 179.7 842.2 175.1 843.2 177.6 844.2 175.4 845.2 176.7 846.2 174.6 847.2 174.5 848.2 178.6 849.2 176.7 850.2 177.6 851.2 179.2 852.2 176.7 853.2 174.1 854.2 177.4 855.2 175.1 856 181.5 856.8 180.1 857.5 172.2 858.2 165.1 859.2 180.1 860 174.3 860.8 170.6 861.7 168.4 862.5 176 863.3 180.1 864.2 175.6 865 172.6 865.8 170.1 866.7 174.2 867.5 175.7 868.3 178.4 869.2 176.4 870 172.9 870.8 171.7 871.7 175.5 872.5 181.7 873.3 178.7 874.2 175.4 875 171.7 875.8 175.4 876.7 175.7 877.5 179.2 878.3 177.6 879.2 175.6 880 172.5 880.9 170.1 881.7 172.5 882.5 174.6 883.4 174.2 884.2 175.1 885.2 174 886.3 170.6 887.3 172 888.4 170.1 889.2 172.1 890 173.9 890.9 176.7 891.9 174.3 892.9 176.2 894 179.4 895 173.4 896.1 174.7 897.1 174.4 898.2 175.5 899.2 175.1 900 173.3 900.9 174 901.7 171.9 902.5 172.6 903.4 171.5 904.2 173.5 905 173.7 905.9 173.4 906.7 172.4 907.5 170.2 908.4 170.9 909.2 174.1 910 174.2 910.9 180.6 911.7 181.7 912.5 178.8 913.4 177.3 914.2 175.1 915 180 915.9 181.7 916.7 181.6 917.5 176.7 918.4 177.5 919.2 176.7 920 175.5 920.9 170.7 921.7 170.9 922.5 166.7 923.4 172 924.2 172.7 925 173.4 926.1 173.4 927.1 171.9 928.2 171.2 929.2 170.1 930.1 172.2 930.9 176.2 931.7 175.1 932.8 174.2 933.8 172.4 934.8 168.7 935.9 167.6 936.7 173.6 937.6 175.1 938.4 172.6 939.2 172.4 940.1 164.6 940.9 166.7 941.7 169.5 942.6 171 943.4 173.4 944.4 172.7 945.5 176.4 946.5 174.8 947.6 174.2 948.4 174.4 949.2 174 950.1 179.2 950.9 175.9 951.7 178 952.6 178.5 953.4 176.3 954.2 178.4 955.2 179.9 956.2 177.2 957.2 174.4 958.2 173.5 959.2 172.6 960.3 170 961.3 175.1 962.4 172.3 963.4 175.1 964.2 177.8 965.1 176.3 965.9 177 966.7 179.2 967.6 178.7 968.4 177.2 969.2 173.2 970.1 174.2 970.9 174.9 971.7 177.1 972.6 176.2 973.4 177.6 974.2 174.1 975.1 175.4 975.9 173.2 976.7 174.2 977.6 173.7 978.4 175.6 979.2 176 980.1 176.7 980.9 175.7 981.8 172.2 982.6 175.6 983.4 174.2 984.3 176.1 985.1 177.9 985.9 180.9 986.8 179.8 987.6 181.8 988.4 174 989.3 175.1 990.3 172.9 991.3 178.7 992.4 176.6 993.4 179.2 994.3 180.4 995.1 174.5 995.9 175.1 996.8 176.9 997.6 182.3 998.4 183.4 999.3 178.6 1000.1 170.1 1000.9 176 1001.8 180.1 1002.6 176 1003.4 170.1 1004.3 173.2 1005.1 175.9 1005.9 180.1 1006.8 180.2 1007.6 183.7 1008.4 181.7 1009.3 183.8 1010.1 183 1010.9 184.3 1011.8 184.2 1012.8 185.5 1013.9 185.8 1014.9 182.7 1015.9 182.6 1017 183.9 1018 186.2 1019.1 192.1 1020.1 188.4 1021.2 189.1 1022.2 191.4 1023.2 186 1024.3 189.3 1025.1 186.4 1025.9 180.1 1026.8 181.5 1027.6 188.4 1028.4 186.1 1029.3 186.7 1030.1 187.5 1031 187.6 1031.8 187.1 1032.6 186.6 1033.5 185.5 1034.3 184.2 1035.3 183.2 1036.4 189 1037.4 184.4 1038.5 183.4 1039.5 184.5 1040.5 187 1041.6 184.7 1042.6 182.6 1043.5 184.6 1044.3 184.9 1045.1 188.8 1046 185.9 1046.8 182.7 1047.6 181.9 1048.5 183.1 1049.3 181.7 1050.1 178.5 1051 181.9 1051.8 186.5 1052.6 185.1 1053.6 184.3 1054.6 185.7 1055.6 187 1056.6 183.4 1057.6 185.9 1058.6 186.1 1059.6 184 1060.6 182.7 1061.6 184 1062.6 184.2 1063.7 184.6 1064.7 184.3 1065.8 184.2 1066.8 185.9 1067.6 186.1 1068.5 184.9 1069.3 182 1070.1 179.2 1071 180.4 1071.8 179.9 1072.6 183.4 1073.7 182.8 1074.7 183.3 1075.8 187 1076.8 187.6 1077.6 190.5 1078.5 191.6 1079.3 190.9 1080.2 190 1081 188.5 1081.8 188.8 1082.7 187.6 1083.5 188 1084.3 189.2 1085.2 191.1 1086 188.4 1086.8 185.4 1087.7 189.2 1088.5 183.4 1089.3 180.9 1090.2 183.2 1091 188.4 1092 184.8 1093.1 185.1 1094.1 186.1 1095.2 185.9 1096.2 190.4 1097.2 185.4 1098.3 189.4 1099.3 187.6 1100.4 187.1 1101.4 188.3 1102.5 186.2 1103.5 188.4 1104.5 193.1 1105.5 188.8 1106.5 187.8 1107.5 189.3 1108.3 192.5 1109.2 187.1 1110 186.3 1110.8 184.2 1111.7 185.9 1112.5 186.5 1113.3 190.1 1114.2 186.4 1115 188.1 1115.8 190.8 1116.7 186.8 1117.5 188.8 1118.3 188.9 1119.2 192.6 1120 191.8 1120.8 187.1 1121.7 188.9 1122.5 183.4 1123.3 185.1 1124.2 185.1 1125 188.4 1125.9 188.4 1126.7 186.7 1127.5 184.2 1128.4 184 1129.2 185.5 1130 187.4 1130.9 185.9 1131.7 191.6 1132.5 191.8 1133.4 185.9 1134.2 183.4 1135.2 178 1136.2 187.1 1137.2 182.4 1138.2 181.9 1139.2 182.6 1140 185.7 1140.9 186.2 1141.7 189.3 1142.7 191.9 1143.8 188 1144.8 190.7 1145.9 191.8 1146.7 188.4 1147.5 193.1 1148.4 188.8 1149.2 188.4 1150.2 191.2 1151.3 192.4 1152.3 187.9 1153.4 190.9 1154.4 189.9 1155.5 191.1 1156.5 189.1 1157.5 188.4 1158.5 187.7 1159.5 189.3 1160.5 189 1161.4 185.6 1162.4 186.1 1163.4 185.9 1164.2 188.7 1165 189.3 1165.9 190.6 1166.7 191.8 1167.7 189.7 1168.7 195.6 1169.7 191.8 1170.7 193 1171.7 192.6 1172.7 192.4 1173.7 192.4 1174.7 192.4 1175.7 190.3 1176.7 191.8 1177.7 192.5 1178.7 194.1 1179.7 192.6 1180.7 193.2 1181.7 191.8 1182.6 192.1 1183.4 190.6 1184.2 193.5 1185.1 189.3 1185.9 189.3 1186.7 192.8 1187.6 193.4 1188.4 194.2 1189.2 191.5 1190.1 187.6 1190.9 188.4 1192 190.4 1193.1 196.8 1194.1 195.7 1195.1 188.4 1195.9 187.6 1196.7 190.5 1197.6 192.6 1198.4 192.6 1199.4 193 1200.5 189.5 1201.5 189.4 1202.6 193.4 1203.6 192.2 1204.7 189.8 1205.7 189.8 1206.7 189.3 1207.8 190.3 1208.8 191.2 1209.9 189.1 1210.9 192.6 1211.9 188.8 1213 193.6 1214 190.1 1215.1 190.9 1216.1 188.2 1217.2 186.1 1218.2 190.7 1219.2 189.3 1220.3 187.4 1221.3 188.4 1222.4 192.4 1223.4 191.8 1224.4 195.7 1225.4 198.4 1226.5 196.6 1227.6 192.6 1228.6 190.3 1229.7 187.3 1230.7 191.3 1231.8 193.4 1232.8 192 1233.8 190.4 1234.8 192.7 1235.8 190.8 1236.8 189.3 1237.8 187.7 1238.8 191.4 1239.8 190.5 1240.8 190.3 1241.8 191.8 1242.8 193.5 1243.8 187.4 1244.8 192.3 1245.8 191.9 1246.8 189.3 1247.6 182.9 1248.4 184.4 1249.3 182.6 1250.1 189.3 1250.9 196.8 1252 196.6 1253.1 200.9 1254.1 195.2 1255.1 191.8 1255.9 190.8 1256.8 193.1 1257.6 192.5 1258.4 194.3 1259.5 189.4 1260.5 195.4 1261.6 194.2 1262.6 191.8 1263.7 190.5 1264.7 194.3 1265.7 197 1266.8 193.4 1267.8 189.5 1268.9 190.9 1269.9 189.9 1270.9 190.1 1271.8 192 1272.6 191.2 1273.4 189.8 1274.3 193.4 1275.1 197.6 1276 196.1 1276.8 198.4 1277.6 197.7 1278.5 198.5 1279.3 191.8 1280.1 189.7 1281 189.8 1281.8 190.1 1282.8 190.2 1283.8 186.5 1284.8 185.1 1285.8 189.9 1286.8 192.6 1287.8 193.2 1288.9 199.4 1289.9 195.7 1291 195.1 1292 195.6 1293 195 1294 195.4 1295 191.2 1296 194.3 1297 193.3 1298 194.9 1299.1 190.6 1300.1 192.6 1301.2 192.3 1302.2 191.6 1303.3 190.3 1304.3 190.9 1305.3 196.1 1306.4 192.8 1307.4 192.2 1308.5 191.8 1309.5 190 1310.6 191.5 1311.6 190.5 1312.6 190.9 1313.7 191.6 1314.7 193 1315.8 198.4 1316.8 194.3 1317.8 196.4 1318.8 196.7 1319.8 195.5 1320.8 197.9 1321.8 191.8 1322.9 190 1323.9 188.4 1324.9 190.9 1326 190.1 1326.8 188.9 1327.7 186.8 1328.5 185.1 1329.3 190.5 1330.2 198.4 1331 194.8 1331.8 188.4 1332.7 192.3 1333.5 189.7 1334.3 189.2 1335.2 190.1 1336 191.7 1336.8 187.8 1337.7 186.9 1338.5 186.8 1339.3 186.6 1340.2 180.5 1341 188 1341.8 183.4 1342.7 184 1343.5 186.1 1344.3 186.6 1345.2 186.8 1346 187.4 1346.8 183.7 1347.7 189.7 1348.5 185.9 1349.3 187.4 1350.2 187.2 1351 187 1352 193.8 1353 188 1354 183.5 1355 185.5 1356 182 1357 185.8 1358 190 1359 184.5 1360 185 1361 191.9 1362 187.9 1363 194 1363.9 192.8 1364.8 190.8 1365.6 189.9 1366.5 188.0" class="b"/>
</g>
<line x1="248.8" y1="65.1" x2="248.8" y2="71.6" class="tk"/>
<line x1="248.8" y1="223.1" x2="248.8" y2="216.6" class="tk"/>
<line x1="373.0" y1="65.1" x2="373.0" y2="71.6" class="tk"/>
<line x1="373.0" y1="223.1" x2="373.0" y2="216.6" class="tk"/>
<line x1="497.2" y1="65.1" x2="497.2" y2="71.6" class="tk"/>
<line x1="497.2" y1="223.1" x2="497.2" y2="216.6" class="tk"/>
<line x1="621.4" y1="65.1" x2="621.4" y2="71.6" class="tk"/>
<line x1="621.4" y1="223.1" x2="621.4" y2="216.6" class="tk"/>
<line x1="745.6" y1="65.1" x2="745.6" y2="71.6" class="tk"/>
<line x1="745.6" y1="223.1" x2="745.6" y2="216.6" class="tk"/>
<line x1="869.8" y1="65.1" x2="869.8" y2="71.6" class="tk"/>
<line x1="869.8" y1="223.1" x2="869.8" y2="216.6" class="tk"/>
<line x1="994.0" y1="65.1" x2="994.0" y2="71.6" class="tk"/>
<line x1="994.0" y1="223.1" x2="994.0" y2="216.6" class="tk"/>
<line x1="1118.2" y1="65.1" x2="1118.2" y2="71.6" class="tk"/>
<line x1="1118.2" y1="223.1" x2="1118.2" y2="216.6" class="tk"/>
<line x1="1242.4" y1="65.1" x2="1242.4" y2="71.6" class="tk"/>
<line x1="1242.4" y1="223.1" x2="1242.4" y2="216.6" class="tk"/>
<path d="M1366.5 65.1H126.1V223.1H1366.5" class="ax"/>
<line x1="1366.5" y1="64.3" x2="1366.5" y2="223.9" class="axb"/>
<text x="117.1" y="73.0" text-anchor="end" class="tl">600</text>
<line x1="126.1" y1="128.6" x2="132.6" y2="128.6" class="tk"/>
<text x="117.1" y="136.5" text-anchor="end" class="tl">500</text>
<line x1="126.1" y1="192.5" x2="132.6" y2="192.5" class="tk"/>
<text x="117.1" y="200.4" text-anchor="end" class="tl">400</text>
<line x1="1366.5" y1="96.3" x2="1360.0" y2="96.3" class="tkb"/>
<text x="1376.0" y="104.2" class="tl bl">4</text>
<line x1="1366.5" y1="160.6" x2="1360.0" y2="160.6" class="tkb"/>
<text x="1376.0" y="168.5" class="tl bl">2</text>
<text x="1376.0" y="231.0" class="tl bl">0</text>
<clipPath id="cb"><rect x="126.1" y="249.8" width="1240.4" height="157.7"/></clipPath><g clip-path="url(#cb)">
<path d="M126.1 300 126.7 299.9 127.7 299.7 128.7 299.9 129.7 299 130.7 299.5 131.7 299 132.7 298.9 133.7 297.7 134.7 297.6 135.7 295.1 136.7 294.9 137.7 295.7 138.7 296 139.7 296.8 140.7 298.1 141.7 299 142.7 300 143.7 301 144.7 301.9 145.7 303.9 146.7 303.2 147.6 304.3 148.6 303 149.5 304.8 150.5 304.7 151.4 305.2 152.4 307 153.4 306.5 154.3 306.6 155.3 305.7 156.2 307.5 157.2 307.3 158.1 306.9 159.1 307.3 160 308.2 161.1 308.4 162.1 309.4 163.2 309.8 164.2 310.7 165.2 310.6 166.3 311.6 167.3 309.5 168.4 309.9 169.4 309.3 170.5 309.7 171.5 310.6 172.5 309.9 173.5 307.9 174.5 307.9 175.5 304.5 176.5 303.2 177.5 302.4 178.4 302.1 179.2 301.4 180 301.3 180.9 301.5 181.7 300.6 182.5 299.5 183.4 297.9 184.2 296.5 185.3 295.3 186.3 295.4 187.3 293.7 188.4 292.4 189.4 292 190.5 292.8 191.5 291.1 192.5 291.5 193.6 291.6 194.6 292 195.7 291.5 196.7 291.5 197.7 291.6 198.7 292.8 199.7 292.7 200.7 293.1 201.7 294 202.7 294.3 203.7 296.9 204.7 296.7 205.7 298.8 206.7 299 207.7 299.9 208.6 300 209.6 301.3 210.5 301.6 211.5 302.1 212.4 301.6 213.4 303.2 214.3 304 215.3 305.3 216.3 305.7 217.2 306.8 218.2 307.8 219.1 307.8 220.1 308.2 221 310.3 222 308.6 222.9 310.2 223.9 309.3 224.8 312.4 225.8 312.6 226.7 313.2 227.8 314.6 228.8 313.4 229.9 312.4 230.9 314 231.9 316 233 315.2 234 316.3 235.1 318.2 236.1 319.1 237.1 320.7 238.1 320.9 239.1 322.3 240.1 323.2 241.1 322.5 242.2 325.7 243.2 325 244.2 325.7 245.3 325.6 246.3 325.8 247.3 325.3 248.3 325.2 249.3 324.9 250.2 324.2 251.2 324.8 252.2 325.2 253.1 325.6 254.1 324.8 255.1 324.9 256.1 325.4 257 326 258 326.5 259 326.7 260 326.8 260.9 327.4 261.8 326.8 262.6 327.8 263.4 327 264.3 326.6 265.3 327.2 266.3 330.2 267.4 329 268.4 329.1 269.4 329.5 270.4 328.8 271.4 327.8 272.4 329.2 273.4 328.2 274.4 327.3 275.4 326.6 276.4 326.4 277.4 325.6 278.4 324.1 279.5 324 280.5 323.6 281.6 324.9 282.6 323.2 283.7 323 284.7 321.3 285.7 321.9 286.8 320.7 287.8 320.8 288.8 320.7 289.8 321.2 290.8 320.9 291.8 320.7 292.8 321.6 293.8 319.9 294.8 319.4 295.8 319.5 296.8 318.2 297.7 317.5 298.7 318.2 299.6 317.1 300.6 317.6 301.5 315.8 302.5 316.4 303.5 315.7 304.4 314.6 305.4 315.4 306.3 315.7 307.3 316.1 308.2 317.1 309.2 317 310.1 315.7 311.1 314.6 312.1 314.9 313 316.2 314 315.5 315 314.1 316 314.9 317 313.6 318 310.8 319.1 309.3 320.1 308.2 321 306.9 321.8 307.2 322.6 308.5 323.5 306.5 324.3 307.6 325.1 308.1 326 310.8 326.8 309.9 327.8 309.4 328.8 309.4 329.8 309.2 330.8 309.5 331.8 309 332.9 308.4 333.9 309.2 334.9 307.6 336 307.4 337 306.1 338.1 304.2 339.1 301.8 340.1 300.7 341.1 299.9 342.1 300.3 343.1 298.6 344.1 300 345.2 299.9 346.1 299.8 347.1 299.7 348.1 299.4 349 299.6 350 298.9 351 299 352 299.8 352.9 298.5 353.9 300.5 354.9 299.5 355.9 300.8 356.8 300.7 357.8 300.4 358.7 300.4 359.7 300.2 360.6 301.6 361.6 299.9 362.5 299.9 363.5 300.7 364.5 301.4 365.5 301.9 366.5 302.2 367.5 302 368.5 303.2 369.5 303.4 370.4 305.2 371.4 304.5 372.4 306.3 373.3 306.5 374.3 307.2 375.3 306.8 376.3 306 377.3 308.3 378.3 307 379.3 306.9 380.3 306.8 381.3 306.2 382.3 305.6 383.3 306 384.2 305.6 385 305.6 385.8 304.6 386.7 304.9 387.5 305.4 388.3 306.5 389.2 306.4 390 306.5 390.9 305.4 391.7 305.2 392.5 304.1 393.4 302.4 394.4 303.6 395.4 303.1 396.5 303 397.5 304.9 398.6 306.1 399.6 306.2 400.6 306.5 401.7 307.4 402.7 308.2 403.7 308.1 404.7 308.4 405.7 310.6 406.7 309.9 407.7 308.4 408.8 309.6 409.8 309.3 410.9 308.2 411.9 309 412.9 307.6 414 307.3 415 306.5 416.1 306.3 417.1 307.4 418.2 306.3 419.2 308.2 420.2 308.4 421.3 309.4 422.3 310 423.4 310.7 424.4 310.7 425.4 312.2 426.4 310.6 427.4 312.1 428.4 312.4 429.2 311.7 430 311.6 430.9 311.2 431.7 310.7 432.8 311.9 433.8 309.6 434.8 311 435.9 309.9 436.9 310.2 438 308.5 439 307.6 440.1 307.4 440.9 304.6 441.7 303 442.6 303.2 443.4 299.9 444.2 297.5 445.1 298.5 445.9 297.4 446.9 296.5 448 297.9 449 296.3 450.1 295.7 450.9 293.7 451.7 293.1 452.6 292.4 453.4 290.8 454.2 289.1 455.1 287.4 455.9 287 456.7 287.7 457.6 288.2 458.4 286.6 459.2 286 460.1 284.6 460.9 283.2 461.7 282.7 462.6 281.5 463.4 281.9 464.2 280.7 465.3 280.5 466.3 280.5 467.4 281 468.4 281.5 469.4 281.5 470.5 281.7 471.5 280.8 472.6 282.4 473.4 282.9 474.2 282 475.1 282 475.9 280.7 476.9 281.7 478 283.7 479 284.6 480.1 285.7 481.1 286.3 482.2 288.2 483.2 287.2 484.2 288.2 485.3 289 486.3 287.8 487.4 289.8 488.4 289.9 489.4 289.4 490.4 288.5 491.4 288.5 492.4 287.1 493.4 288.2 494.4 287 495.4 287.3 496.4 284.9 497.4 286.9 498.4 285.7 499.3 285.3 500.1 283.1 500.9 281.5 501.8 281.5 502.6 278.9 503.4 277.3 504.3 276 505.1 274.9 505.9 275.7 506.8 272.8 507.6 273.5 508.4 272.4 509.3 274.6 510.1 274.5 510.9 276.5 511.8 274.7 512.6 273.7 513.4 271.5 514.3 272.9 515.1 276.1 515.9 278.6 516.8 279 517.6 280.1 518.4 280.7 519.3 282.4 520.1 284 520.9 285.1 521.8 285.6 522.6 287.4 523.6 286 524.7 284.9 525.7 284 526.8 282.4 527.6 282.1 528.4 279.9 529.3 278.3 530.1 278.2 530.9 277.3 531.8 279.9 532.6 278.5 533.4 279 534.3 281 535.1 285.2 535.9 285.7 536.8 290.9 537.6 296.2 538.4 299 539.3 300 540.1 300.8 541 302.4 541.8 300.8 542.6 300.3 543.5 298.9 544.3 297.4 545.1 297 546 297.7 546.8 296.4 547.6 294.9 548.5 294.7 549.3 296.4 550.1 297.2 551 297.4 551.8 298.5 552.6 302.3 553.5 303 554.3 304 555.1 307.3 556 308.1 556.8 310.7 557.6 311.6 558.5 314.6 559.3 315.7 560.1 318.4 561 320.9 561.8 324.1 562.6 327.3 563.5 330.9 564.3 334.1 565.1 328.3 566 322.4 566.8 318.9 567.6 316 568.5 312.4 569.3 314.2 570.1 312.8 571 311.4 571.8 311.5 572.8 313.4 573.9 312 574.9 311.7 576 313.2 576.8 313.1 577.6 313.4 578.5 316.5 579.3 316.5 580.1 317.2 581 318.3 581.8 320.7 582.6 321.6 583.5 323.1 584.3 323.6 585.1 325.7 586 325.7 586.8 326.5 587.6 327.4 588.5 327.4 589.3 328.4 590.2 331.1 591 332.6 591.8 334.1 592.7 336.1 593.5 337 594.3 339.1 595.2 341 596 345.3 596.8 347.4 597.7 348.6 598.5 348.6 599.3 349.3 600.2 350.7 601.2 352.1 602.2 353.8 603.3 353.5 604.3 354.1 605.2 356.3 606 355.1 606.8 355.6 607.7 355.7 608.7 357.3 609.7 359 610.8 358.4 611.8 360.7 612.7 359.7 613.5 359.4 614.3 357.4 615.4 357.4 616.4 359.8 617.5 360.7 618.5 360.8 619.6 361.1 620.6 360.6 621.7 359.1 622.7 359.1 623.8 360.5 624.8 358.3 625.8 359.1 626.7 355.9 627.5 355.6 628.3 352.4 629.4 351.6 630.4 349.1 631.5 349.4 632.5 347.4 633.6 346.8 634.6 345.4 635.6 343.3 636.7 342.4 637.5 340.2 638.4 338.7 639.2 338.5 640 337.4 640.9 335.8 641.7 334.1 642.5 332.6 643.4 331.6 644.4 332.4 645.4 331.2 646.5 331.7 647.5 332.4 648.6 333.4 649.6 331.1 650.7 330.7 651.7 330.7 652.5 331.9 653.4 330.3 654.2 333.1 655 332.4 656.1 330.4 657.1 329.7 658.2 328.4 659.2 328.2 660.2 328.2 661.3 328.9 662.3 330.8 663.4 330.7 664.4 331.5 665.5 333.4 666.5 333.8 667.5 334.1 668.6 334.4 669.6 336.6 670.7 337.4 671.7 339.1 672.5 340 673.4 341.6 674.2 343.1 675 344.1 675.9 345.6 676.7 345.1 677.5 347.7 678.4 349.1 679.4 348.9 680.5 350.8 681.5 349.5 682.5 349.9 683.6 349.5 684.6 349.1 685.7 349.2 686.7 348.2 687.6 347.2 688.4 347.7 689.2 347.5 690.1 347.4 690.9 344.6 691.7 341.7 692.6 339.1 693.4 340.6 694.2 343 695.1 344.9 695.9 345.9 696.7 349.9 697.6 350.7 698.4 352.7 699.2 353.3 700.1 356.6 700.9 356.6 701.7 357.7 702.6 357.1 703.4 357.4 704.2 355 705.1 351.2 705.9 351.5 706.7 348.2 707.6 348.3 708.4 346.8 709.2 347.9 710.1 348.2 710.9 349.9 711.7 349.8 712.6 349.1 713.4 350.7 714.4 350.5 715.5 351.3 716.5 352.8 717.6 351.6 718.4 352.4 719.2 353.3 720.1 353.2 720.9 354.1 721.9 354.1 723 353.4 724 353.1 725.1 354.1 726.1 352.7 727.2 352.8 728.2 353.7 729.2 352.4 730.1 350.7 730.9 349.9 731.7 347.9 732.6 345.7 733.6 345.2 734.7 344.1 735.7 345.4 736.8 343.2 737.8 343.2 738.8 342.4 739.8 342.5 740.8 341 741.8 339.1 742.8 338.4 743.8 337.7 744.9 337 745.9 335.7 747 336.3 748 332.9 749.1 331.3 750.1 331.6 750.9 331.2 751.8 331.6 752.6 331.1 753.4 331.6 754.5 333.7 755.5 334.9 756.6 335.9 757.6 337.4 758.6 337.9 759.7 339.6 760.7 340.1 761.8 339.1 762.6 341.5 763.4 341.6 764.3 340.3 765.1 340.3 765.9 337.6 766.8 337.4 767.8 336.1 768.8 338.6 769.8 338 770.8 337.9 771.8 337.4 772.8 337.9 773.8 337.6 774.8 336.1 775.8 335.6 776.8 334.9 777.6 335.3 778.4 335.5 779.3 335 780.1 334.9 780.9 335.2 781.8 339.2 782.6 338.1 783.4 339.9 784.3 340.5 785.1 342.4 786 343 786.8 344.1 787.6 345.5 788.5 347.9 789.3 348.2 790.1 348.2 791 347.9 791.8 348.5 792.6 348.2 793.5 348.2 794.5 350.3 795.5 349.9 796.5 351.1 797.5 351.7 798.5 354.1 799.3 351.5 800.1 348.5 801 345.8 801.8 342.4 802.6 343.6 803.5 342.8 804.3 344 805.1 344.9 806.1 344 807.1 345.4 808.1 345 809.1 343.2 810.1 344.1 811.2 345.3 812.2 345.8 813.3 346.7 814.3 347.4 815.1 348.3 816 347.8 816.8 348.4 817.6 349.1 818.5 348.1 819.3 347.5 820.1 347.4 821.2 348.1 822.2 351.2 823.3 352.2 824.3 353.2 825.4 351.8 826.4 349.6 827.4 351.1 828.5 348.2 829.5 349.7 830.6 351.3 831.6 353.1 832.6 354.1 833.6 356.1 834.6 355.5 835.7 354.9 836.7 357.2 837.7 358.2 838.7 359.5 839.7 360.4 840.8 363 841.8 363.2 842.7 363.6 843.5 364.7 844.3 364.6 845.2 365.7 846 365.5 846.8 363.6 847.7 363.2 848.5 364.7 849.3 365 850.2 365.9 851 366.6 852 366.6 853.1 365.1 854.1 365.7 855.2 365.7 856 364.7 856.8 363 857.7 362.9 858.5 360.7 859.5 359.9 860.5 357.3 861.5 357.2 862.5 354.9 863.3 356 864.2 357.8 865 359.5 865.8 359.9 866.8 359.3 867.8 359.7 868.8 360.4 869.8 360.4 870.8 360.7 871.8 358.9 872.8 359.9 873.8 358.9 874.8 358.2 875.8 357.4 876.9 357.2 877.9 357.1 879 355.6 880 355.7 881 355.8 882 355.1 883 354.9 884 354.5 885 354.9 886 355.8 887 353.2 887.9 354.4 888.9 355.4 889.9 354.7 890.9 354.9 891.9 353 892.9 352.7 894 349.9 895 349.1 895.9 348.5 896.7 348.5 897.5 347.5 898.4 347.4 899.4 347.3 900.4 347.9 901.5 348.7 902.5 348.2 903.5 348.4 904.5 350.3 905.5 350.7 906.5 351.3 907.5 352.4 908.6 352.7 909.6 356.1 910.7 356.6 911.7 357.4 912.5 359.1 913.4 360.1 914.2 362.9 915 363.2 916.1 363.6 917.1 364.2 918.2 365.2 919.2 366.6 920.3 366.8 921.3 367.2 922.3 365.8 923.4 367.4 924.2 368.7 925 369.7 925.9 371.3 926.7 371.6 927.8 370.7 928.8 371.4 929.8 371.1 930.9 369.1 931.9 369.3 933 370.2 934 371.7 935.1 371.6 936.1 373.1 937.1 372.9 938.2 374.3 939.2 374.1 940.3 372.4 941.3 373.5 942.3 372.5 943.4 371.6 944.2 372.4 945.1 372.4 945.9 372.7 946.7 372.4 947.6 373.2 948.4 375.6 949.2 375.8 950.3 372.9 951.3 373 952.4 370.9 953.4 369.9 954.4 371.2 955.3 368.9 956.3 369.6 957.3 369.4 958.3 369.8 959.2 369.1 960.3 370.3 961.3 370.9 962.4 372.8 963.4 374.1 964.4 376.1 965.4 377 966.4 377.1 967.4 377.9 968.4 379.9 969.4 378.9 970.4 379.5 971.4 379.3 972.4 379 973.4 379.1 974.4 378.6 975.4 378.9 976.4 379.5 977.4 379.1 978.4 378.3 979.2 378.8 980.1 380.5 980.9 380.8 982 379.8 983 380 984 379 985.1 377.4 985.9 377.3 986.8 377.3 987.6 375.7 988.4 374.1 989.3 375.3 990.1 376.2 990.9 375.8 991.8 373.6 992.6 372.6 993.4 371.2 994.3 369.9 995.3 371.2 996.3 371.2 997.4 370.9 998.4 372.4 999.3 372.1 1000.1 372.7 1000.9 372.7 1001.8 373.3 1002.8 372.1 1003.8 370.6 1004.9 370.9 1005.9 369.9 1007 368.8 1008 369.2 1009.1 368.9 1010.1 369.1 1010.9 369.7 1011.8 371.8 1012.6 371.3 1013.4 372.4 1014.5 371.7 1015.5 369.9 1016.6 370.6 1017.6 370.8 1018.7 370.7 1019.7 370.1 1020.7 370.7 1021.8 369.9 1022.8 369.6 1023.8 370.2 1024.8 369.6 1025.8 370 1026.8 369.1 1027.8 368.6 1028.8 369.1 1029.8 367.8 1030.8 367.2 1031.8 367.4 1032.8 367.7 1033.8 365.5 1034.8 365.3 1035.8 366.6 1036.8 364.9 1037.6 364 1038.5 363.1 1039.3 362 1040.1 360.7 1041 359.5 1041.8 359.6 1042.6 357 1043.5 355.7 1044.5 355.6 1045.5 353.4 1046.5 351.8 1047.5 350.9 1048.5 349.9 1049.5 349.1 1050.5 350.1 1051.6 347 1052.6 346.6 1053.6 346.6 1054.6 344.8 1055.6 346 1056.6 345.2 1057.6 344.9 1058.6 345.9 1059.6 346.3 1060.6 346.6 1061.6 347.6 1062.6 348.2 1063.7 347.6 1064.7 347.7 1065.8 346.3 1066.8 345.7 1067.6 344.8 1068.5 343.2 1069.3 343.9 1070.1 342.4 1071.2 343.5 1072.2 344.3 1073.3 347 1074.3 347.4 1075.4 347.2 1076.4 345.7 1077.4 345 1078.5 344.1 1079.5 342.7 1080.6 341.6 1081.6 342.9 1082.7 342.4 1083.7 341.4 1084.7 342.9 1085.8 342.2 1086.8 342.4 1087.9 343.4 1088.9 343.7 1089.9 345.2 1091 345.7 1092 345.9 1093.1 345 1094.1 345 1095.2 344.1 1096.2 344.3 1097.2 343.3 1098.2 341.9 1099.2 343.2 1100.2 342.4 1101.2 341.4 1102.2 340.4 1103.3 339.2 1104.3 339.9 1105.3 338.7 1106.3 340.8 1107.3 341.2 1108.3 339.9 1109.3 340.5 1110.3 340.7 1111.3 337.6 1112.3 339.1 1113.3 338.2 1114.3 336.9 1115.3 336.5 1116.3 337.7 1117.3 337.6 1118.3 336.6 1119.4 336.6 1120.4 336.7 1121.5 337.3 1122.5 339.1 1123.6 338.3 1124.6 338.4 1125.6 338.6 1126.7 336.6 1127.7 336.7 1128.7 335.5 1129.7 335.3 1130.7 335.9 1131.7 335.7 1132.5 337.4 1133.4 336.8 1134.2 339.7 1135 340.7 1136.1 341.7 1137.1 344.2 1138.2 343.9 1139.2 346.6 1140.2 347.9 1141.3 348.8 1142.3 349.4 1143.4 349.1 1144.4 349.7 1145.4 348.3 1146.5 347.9 1147.5 347.4 1148.6 347.2 1149.6 348.6 1150.7 348.7 1151.7 349.9 1152.7 349.7 1153.7 349.1 1154.7 347.8 1155.7 348.3 1156.7 346.6 1157.7 345 1158.8 344.9 1159.8 345.9 1160.9 344.1 1161.9 343.5 1163 343.7 1164 341 1165 342.4 1166.1 343.4 1167.1 341.9 1168.2 341.9 1169.2 342.4 1170.3 341.8 1171.3 339.9 1172.3 337.4 1173.4 337.4 1174.2 337.5 1175.1 335 1175.9 334.6 1176.7 334.1 1177.6 334.4 1178.4 335.4 1179.2 336.3 1180.1 337.4 1180.9 336.9 1181.7 336.5 1182.6 336.6 1183.4 336.1 1184.2 332.3 1185.1 329.9 1185.9 332.2 1186.7 333.3 1187.6 335.7 1188.4 335.3 1189.2 332.8 1190.1 330.8 1190.9 329.1 1191.7 327.8 1192.6 327.9 1193.4 325.3 1194.2 325.7 1195.3 325.2 1196.3 325.5 1197.4 326 1198.4 325.7 1199.2 326.4 1200.1 325.8 1200.9 327.4 1201.7 326.1 1202.6 323.7 1203.4 322 1204.2 320.7 1205.3 319.5 1206.3 318 1207.4 316.6 1208.4 315.7 1209.4 315.8 1210.5 317 1211.5 317 1212.6 317.4 1213.6 318.4 1214.7 318.6 1215.7 320.7 1216.7 320.7 1217.7 321.3 1218.7 321.2 1219.7 323 1220.7 321.7 1221.7 323.2 1222.7 322.4 1223.7 323.1 1224.7 321.9 1225.8 321.7 1226.8 321.6 1227.8 321 1228.8 320.9 1229.8 320.9 1230.8 320.6 1231.8 319.9 1232.8 319.1 1233.8 318.9 1234.8 317.5 1235.8 318.2 1236.8 318.2 1237.8 318 1238.8 317.2 1239.8 317.5 1240.8 316 1241.8 315.7 1242.7 315.9 1243.7 316.3 1244.7 314.9 1245.7 316.7 1246.6 314.7 1247.6 315.7 1248.6 315.9 1249.7 315.3 1250.7 316.8 1251.8 317.4 1252.8 316 1253.9 316.8 1254.9 314.1 1255.9 314.9 1257 314.6 1258 313.9 1259.1 313.4 1260.1 312.4 1261.1 313.5 1262.2 313.8 1263.2 313 1264.3 314 1265.3 314.9 1266.4 314.4 1267.4 314.8 1268.4 315.7 1269.5 316.1 1270.5 316.6 1271.6 317.2 1272.6 318.2 1273.6 318.9 1274.6 318.2 1275.6 316.9 1276.6 317.7 1277.6 318.2 1278.6 317.7 1279.6 319.5 1280.5 318 1281.5 317.3 1282.5 317.8 1283.5 317.4 1284.5 314.8 1285.5 316.4 1286.5 314.1 1287.5 312.7 1288.5 312.4 1289.5 313.4 1290.5 312.8 1291.5 313.1 1292.5 314.9 1293.5 314.9 1294.5 316.4 1295.5 315 1296.5 315.3 1297.5 315.4 1298.5 315.7 1299.5 317 1300.6 317.5 1301.6 318.9 1302.6 319.9 1303.7 320.2 1304.7 321.4 1305.8 322.9 1306.8 323.2 1307.6 322.8 1308.5 325 1309.3 326.3 1310.1 325.7 1311.2 325.2 1312.2 325.4 1313.3 325.8 1314.3 325.7 1315.1 324.8 1316 323.3 1316.8 323.8 1317.6 322.4 1318.5 323.6 1319.3 324.7 1320.1 325.4 1321 325.7 1322 325.3 1322.9 325.6 1323.9 325.3 1324.9 327.5 1325.8 325.4 1326.8 325.7 1327.8 326.3 1328.8 326.7 1329.7 325.6 1330.7 325.9 1331.7 326 1332.7 325.7 1333.7 326.8 1334.7 324.9 1335.8 325.9 1336.8 325.7 1337.7 325.4 1338.5 324.8 1339.3 323.3 1340.2 323.2 1341 324.3 1341.8 324.4 1342.7 323.8 1343.5 324.9 1344.5 325 1345.6 327.9 1346.6 327 1347.7 328.2 1348.4 327.4 1349.2 329.1 1350 329.1 1351 327.6 1352 327.7 1353 327 1354 326.3 1355 324.4 1356 324 1357 324.5 1358 328.3 1359 327.6 1360 330 1361 326.5 1362 324.6 1363 322 1363.9 323.8 1364.8 324.9 1365.6 325.9 1366.5 328.0" class="k"/>
<path d="M126.1 391 126.7 390.8 127.7 389.1 128.8 389.3 129.8 392.5 130.8 391.6 131.7 387.3 132.5 390.1 133.3 386.1 134.2 389.1 135 390.9 135.8 389.4 136.7 391.3 137.5 389.1 138.6 388.7 139.6 390.6 140.6 389.9 141.7 390.8 142.7 390.6 143.8 393.1 144.8 391.9 145.9 394.9 146.7 393.3 147.5 394 148.4 391.9 149.2 390.8 150 390.7 150.9 395.5 151.7 392.7 152.5 393.3 153.6 391.7 154.6 392.3 155.6 390.6 156.7 390.8 157.7 390.5 158.7 390.9 159.7 395 160.7 392.1 161.7 392.4 162.7 392.5 163.7 393.2 164.7 395.2 165.7 391.4 166.7 391.6 167.5 390.8 168.4 396 169.2 389.9 170 392.4 171 391 172 391.8 173 393.6 174 387.6 175 388.3 175.9 382.9 176.7 386.4 177.5 383.1 178.4 382.4 179.4 381.8 180.5 383.2 181.5 382.8 182.5 382.4 183.4 379 184.2 374 185 370.8 185.9 357.4 186.7 365.3 187.5 369.1 188.4 359.8 189.2 345.7 190.2 341.6 191.1 336.7 192 333.2 193.1 339.8 194.2 344.1 195.1 345.4 195.9 343.5 196.7 345.7 197.6 352.5 198.4 360.7 199.2 369.1 200.1 373.9 200.9 380.8 201.7 380.5 202.6 381.7 203.4 381.6 204.4 382.8 205.5 384.1 206.5 382.3 207.6 386.6 208.4 388.8 209.2 385.7 210.1 383.3 210.9 384.1 211.7 383 212.6 379.2 213.4 376 214.2 373.3 215.3 372.4 216.4 368.2 217.4 375.6 218.4 375.8 219.4 375.6 220.5 376.2 221.5 376.1 222.6 371.6 223.6 371.2 224.7 373.2 225.7 376.6 226.7 376.6 227.7 373.2 228.7 374.8 229.7 376.6 230.6 375.5 231.6 374 232.6 372.4 233.6 370.2 234.7 377.8 235.7 375.8 236.7 375.8 237.6 377.4 238.4 377.4 239.2 374.3 240.1 377.4 241.1 374.5 242.2 374.2 243.2 378.6 244.2 374.9 245.1 369.7 245.9 366.8 246.8 363.2 247.6 363.3 248.4 365 249.3 365.3 250.1 364.9 250.9 365.6 251.8 363.3 252.6 360.5 253.4 365.7 254.3 367.9 255.1 369.9 255.9 373.3 256.8 373.3 257.8 367.7 258.8 362.4 259.8 366.4 260.9 372.4 261.9 375.6 262.8 374.9 263.8 379.9 264.8 374.9 265.9 373.3 266.9 375.8 267.8 382.1 268.8 385.8 269.8 387.4 270.8 383.6 271.8 380.8 272.6 383 273.4 382 274.3 382.5 275.1 382.4 275.9 378.4 276.8 375.3 277.6 372.4 278.6 368.3 279.5 369.9 280.4 371.6 281.5 374.9 282.6 382.4 283.4 384.9 284.3 385.7 285.1 385.8 285.9 386.5 286.8 386 287.6 382.4 288.4 383.2 289.3 386.6 290.1 389.3 290.9 387.4 291.9 387.7 292.9 389.8 293.9 388.2 294.9 386.2 296 389.1 296.8 388.2 297.6 385.7 298.5 386.1 299.3 384.9 300.1 385.2 301 387.5 301.8 384.6 302.6 389.1 303.6 391.7 304.6 389.9 305.5 386.5 306.5 384.9 307.5 385.6 308.5 384.9 309.5 386.3 310.5 386.3 311.5 386.6 312.5 383.1 313.5 386.6 314.5 383.7 315.5 386.7 316.6 383.9 317.6 382.4 318.5 380 319.3 381 320.1 382.4 321 374.3 321.8 370.8 322.8 371.4 323.9 377.2 324.9 377.3 326 379.9 326.8 382.6 327.6 381.9 328.5 382.4 329.3 376.9 330.1 375.1 331 376.8 331.8 369.9 332.6 374.5 333.5 381.6 334.3 378.8 335.1 381.5 336 378.6 336.8 377.4 337.6 379.4 338.5 383.7 339.3 383.3 340.3 379.6 341.3 382.3 342.3 379 343.3 377.6 344.3 379.1 345.3 375.5 346.2 376.5 347.2 372.4 348 370.8 348.9 366.6 349.8 368.2 350.8 369.5 351.7 376.9 352.7 377.4 353.5 382.2 354.3 381.8 355.2 386.6 356.2 390.2 357.2 385.3 358.2 383.6 359.2 385 360.2 384.9 361.2 385.6 362.2 385.9 363.2 384.1 364.2 380.9 365.2 380.8 366.2 379.6 367.2 378 368.3 380 369.3 379.9 370.1 378.9 370.9 380.3 371.7 379.9 372.5 379.3 373.3 382 374.2 382.9 375 385.8 375.8 384.6 376.7 385.5 377.5 388.3 378.3 384.1 379.2 381.3 380 380.8 380.8 380 381.7 377.6 382.5 375.8 383.3 364.4 384.2 357.4 385 358.7 385.8 358.7 386.7 361 387.5 359.1 388.3 353.8 389.2 348.7 390 344.1 390.9 339.9 391.7 338.2 392.5 334.9 393.4 335.1 394.2 334.1 395 333.2 395.9 329.2 396.7 326.9 397.5 322.4 398.4 321.4 399.2 320.6 400 319.1 400.9 298.3 401.7 280.7 402.7 301 403.7 320.7 404.7 319.4 405.7 319.9 406.7 321.6 407.7 317.2 408.7 312.4 409.8 318.3 410.9 317.4 411.7 313.2 412.5 305.7 413.4 304.6 414.2 303.2 415 302.4 415.9 310.7 416.7 315.7 417.5 320.2 418.4 322.2 419.2 322.4 420 318.2 420.9 314.9 421.7 310.7 422.7 309.1 423.7 308 424.7 307.4 425.7 302.6 426.6 300.3 427.5 297.4 428.6 295.5 429.7 300.7 430.7 285.8 431.7 274.9 432.5 278.1 433.4 278.3 434.2 282.4 435 291 435.9 295.8 436.7 305.7 437.5 315.7 438.4 327.5 439.2 337.4 440.1 330.7 440.9 327.4 441.7 337.3 442.6 353.7 443.4 360.7 444.2 366.7 445.1 374.9 445.9 372.4 446.7 371.2 447.6 370.8 448.4 360.4 449.2 349.9 450.1 357.8 450.9 365.7 451.7 365.7 452.6 362.4 453.4 373.2 454.2 380.7 455.1 390.8 455.9 390.5 456.7 389 457.6 391.6 458.4 389.4 459.2 390.9 460.1 392.4 460.9 389.2 461.7 383.7 462.6 379.1 463.4 377.5 464.2 374.8 465.1 370.1 465.9 367.4 466.7 366.4 467.6 357.7 468.4 354.1 469.2 354.3 470.1 356.6 470.9 352.5 471.7 351.8 472.6 346.3 473.4 343.2 474.2 345.1 475.1 350.1 475.9 352.4 476.7 353.1 477.6 350 478.4 349.1 479.2 353.1 480.1 359.7 480.9 362.4 481.7 364.4 482.6 364.8 483.4 362.4 484.2 364.1 485.1 365.7 485.9 366.9 486.7 367.4 487.6 368.4 488.4 377.2 489.2 379.1 490.1 379.9 490.9 379.8 491.8 384.7 492.6 381.6 493.7 382.2 494.8 382.4 495.8 377.9 496.8 375.8 497.6 370.6 498.4 366.7 499.3 360.7 500.3 361.7 501.4 359.9 502.3 369.4 503.1 379.1 504.1 371 505.1 365.7 506.1 371.3 507.1 379.1 508.2 366.1 509.3 355.7 510.1 353.5 510.9 354.6 511.8 354.1 512.6 356.1 513.4 359.7 514.3 362.4 515.1 360 515.9 358.8 516.8 359.1 517.6 359.3 518.4 359.6 519.3 360.7 520.1 367.6 520.9 369.3 521.8 375.8 522.6 375.7 523.4 374.9 524.3 372.4 525.1 374.1 525.9 371.9 526.8 367.4 527.6 368 528.4 364.5 529.3 368.2 530.1 364.5 530.9 360.3 531.8 354.1 532.8 347.8 533.8 344.1 534.8 347.4 535.8 345.4 536.8 345.7 537.6 338.8 538.4 336.6 539.3 330.7 540.1 336 541 342.4 541.8 335.2 542.6 328.9 543.5 327.4 544.3 323.3 545.1 317.3 546 314 546.8 316.8 547.6 318 548.5 319.1 549.3 318.8 550.1 319.4 551 323.8 551.8 321.6 552.6 317.7 553.5 308.2 554.3 318.6 555.1 326 556 335.7 556.8 312.4 557.6 292.4 558.5 296.7 559.3 305.1 560.1 307.4 561 319.2 561.8 329.1 562.6 340.7 563.5 347.9 564.3 359.1 565.1 353.8 566 346.5 566.8 342.4 567.8 338.3 568.8 334.1 569.8 338.1 570.8 341.4 571.8 342.4 572.6 342.6 573.5 342.4 574.5 329.3 575.5 317.4 576.1 310.2 576.8 302.4 577.6 309.8 578.5 311.9 579.3 315.7 580.1 320.1 581 329.1 581.8 329.9 582.6 326.1 583.5 324.1 584.3 321.8 585.1 308.2 586 312.7 586.8 318.6 587.6 324.1 588.5 325.2 589.3 328 590.2 329.1 591 330.9 591.8 332.2 592.7 337.4 593.5 329.3 594.3 327.2 595.2 322.4 596 327.1 596.8 332.6 597.7 339.1 598.5 344.2 599.3 343.7 600.2 345.8 601 345.7 601.8 346.2 602.7 348.7 603.5 349.1 604.3 350.7 605.4 341.2 606.5 332.4 607.1 323.6 607.7 312.4 608.7 324.2 609.8 334.1 610.7 314.5 611.5 294 612.3 283 613.2 271.5 613.9 277.1 614.7 287.4 615.3 283.7 615.8 282.4 616.7 291.7 617.5 299.3 618.3 307.4 619.2 317.4 620.1 326.9 621.1 333.7 622 344.1 623 333.5 624 326.6 625 315.7 625.8 309 626.7 305.8 627.5 297.4 628.6 292.8 629.7 286.5 630.6 290.3 631.6 293.4 632.5 294 633.6 292.2 634.7 297.4 635.7 317.3 636.7 337.4 637.5 338.1 638.4 342.2 639.2 345.7 640 347.2 640.9 351.1 641.7 350.7 642.5 352.1 643.4 356.2 644.2 354.9 645 349.9 645.9 346.6 646.7 352.7 647.5 359.1 648.4 361.3 649.2 364.8 650 365.2 650.9 367.4 651.7 369.7 652.5 373.6 653.4 375.1 654.2 380.8 655 383.4 655.9 383.1 656.7 382.4 657.5 382.6 658.4 381.8 659.2 380.8 660 371.4 660.9 364.1 661.7 358.4 662.5 354.1 663.4 361.6 664.2 366.6 665 364.5 665.9 363.6 666.7 366.6 667.5 363.2 668.4 367.9 669.2 367.4 670 364.6 670.9 361.6 671.7 357.4 672.5 356.3 673.4 356.9 674.2 353.2 675 354.4 675.9 357.1 676.7 359.7 677.5 360.7 678.4 364.7 679.2 363.7 680 366.1 680.9 367.4 681.9 368.9 683 370.9 684 373.2 685.1 376.6 685.9 374.2 686.7 373 687.6 369.1 688.4 364.6 689.2 361.4 690.1 358.4 690.9 355.7 691.7 353.3 692.6 350.8 693.4 346.6 694.2 349.8 695.1 357.7 695.9 362.4 696.7 361.6 697.6 365.2 698.4 363.4 699.2 365.7 700.3 367.1 701.3 370.9 702.4 375 703.4 378.3 704.2 373.3 705.1 371.9 705.9 368.2 706.7 372.2 707.6 375.8 708.4 373.1 709.2 370.6 710.1 367.4 710.9 367.4 711.7 363.5 712.6 363.2 713.4 365.2 714.2 367.1 715.1 369.1 715.9 363.6 716.7 365.3 717.6 362.4 718.4 359.5 719.2 357.9 720.1 357.4 720.9 350 721.7 344.1 722.6 338.7 723.4 333.5 724.2 327.4 725.1 334.8 725.9 340.7 726.7 336.3 727.6 335.2 728.4 330.7 729.2 333.1 730.1 333.4 730.9 335.7 731.7 335.7 732.6 337 733.4 336.4 734.2 335.7 735.3 342.7 736.4 347.4 737.4 355.1 738.4 362.4 739.3 365.7 740.1 368.9 740.9 367.5 741.8 368.2 742.6 366.5 743.4 372.7 744.3 370.8 745.1 368.4 745.9 365.8 746.8 366.6 747.6 367.5 748.4 376.7 749.3 380.8 750.1 383.6 750.9 384.6 751.8 384.1 752.6 383.5 753.4 386.4 754.3 384 755.1 384.1 755.9 384.4 756.8 386.7 757.6 388.2 758.4 389.1 759.3 389.8 760.1 391 760.9 387.5 761.8 391.6 762.6 393.9 763.4 390.3 764.3 392 765.1 390.8 765.9 383.6 766.8 379.1 767.6 385.2 768.4 390.8 769.3 392.2 770.1 391.6 770.9 395.8 771.8 395.1 772.6 394.3 773.4 390.2 774.3 390.8 775.1 382.8 775.9 381.6 776.8 384.3 777.6 389.1 778.4 385.5 779.3 384.8 780.1 382.4 781.2 381.6 782.2 383.3 783.2 381 784.3 379.1 785.1 379.5 786 381 786.8 377 787.6 382.4 788.7 382.4 789.7 383.9 790.7 386.6 791.8 388.3 792.8 388.6 793.8 388.3 794.8 389.3 795.8 386.5 796.8 387.4 797.8 386.9 798.8 385.2 799.8 384.4 800.8 383.9 801.8 382.4 802.6 383.6 803.5 386.1 804.3 387.4 805.3 387.5 806.3 389.4 807.3 387.8 808.3 388.6 809.3 388.3 810.1 391.8 811 388 811.8 387.2 812.6 385.8 813.6 388.2 814.6 385.5 815.6 388.9 816.6 389.6 817.6 389.1 818.7 388.1 819.7 387.3 820.8 385.3 821.8 382.4 822.6 384.5 823.5 381.8 824.3 383.7 825.1 383.3 826.1 381.9 827.1 384.2 828.1 382 829.1 379.2 830.1 380.8 831.2 380.7 832.2 378.7 833.3 381.7 834.3 379.9 835.2 379.8 836 377.3 836.8 380.6 837.7 381.6 838.7 381.3 839.7 378.4 840.8 375 841.8 374.1 842.9 374.7 843.9 374.2 844.9 375.2 846 372.4 847 375.5 848.1 376.3 849.1 376.2 850.2 379.1 851.2 380.7 852.2 381.9 853.2 382.6 854.2 384.4 855.2 384.9 856 383.7 856.8 387.1 857.7 386.8 858.5 387.4 859.6 386.3 860.6 383.9 861.7 382.4 862.7 382.4 863.8 383.7 864.8 384.9 865.8 384.1 866.7 383.2 867.5 383.8 868.3 381.6 869.2 382.4 870 382.3 870.8 380.8 871.7 379.9 872.5 379.6 873.3 385.1 874.2 383.5 875 386.6 876 387.1 877 385.2 878 384.8 879 389 880 388.3 881 385.9 882 384.6 883 387.4 884 385.1 885 387.4 886.1 386.9 887.1 389.9 888.1 386.2 889.2 386.6 890 388.8 890.9 390.8 891.7 391.6 892.5 385 893.4 377.5 894.2 370.8 895 367.3 895.9 359.1 896.8 358.4 897.8 358.5 898.7 357.4 899.5 347.6 900.4 337.4 901.4 334.1 902.5 334.9 903.4 345 904.2 354.1 905 353.6 905.9 354 906.7 352.4 907.5 352.7 908.4 353.2 909.2 346.9 910 349.1 910.9 346.9 911.7 345.8 912.5 343.9 913.4 344.1 914.2 343.7 915 341.9 915.9 341.2 916.7 339.9 917.4 330.2 918 325.7 918.8 327.3 919.6 331.7 920.4 334.9 921.4 331.7 922.4 328.9 923.4 327.4 924.4 329.7 925.5 332 926.5 333.2 927.5 337.4 928.4 336.7 929.2 329.7 930.1 328.4 930.9 324.1 931.7 322.1 932.6 318.2 933.6 319.7 934.7 318.2 935.7 321.5 936.6 325 937.6 330.7 938.4 335.2 939.2 338.2 940.1 338.1 940.9 333.4 941.7 336.6 942.8 334.7 943.8 340.3 944.9 342.8 945.9 345.7 946.7 349.7 947.6 355.1 948.4 357.3 949.2 363.2 950.1 367.7 950.9 365.2 951.7 364.1 952.6 362.8 953.4 357.8 954.2 354.1 955.1 350.8 955.9 354.4 956.7 354.1 957.6 350.3 958.4 348.9 959.2 345.1 960.1 342.4 960.9 341.5 961.7 337.1 962.6 336.6 963.4 337.1 964.2 338.8 965.1 339.9 965.9 342.3 966.7 346.4 967.6 350.7 968.4 352.5 969.2 355.5 970.1 352.9 970.9 354.1 971.7 353.2 972.6 347.8 973.4 347.4 974.2 342.2 975.1 339 975.9 334.1 976.7 329.4 977.6 321.3 978.4 317.4 979.2 320 980.1 320.9 980.9 322.4 981.8 333.6 982.6 340.7 983.4 354.7 984.3 365.7 985.3 349.1 986.4 330.7 987 343.4 987.6 357.4 988.4 355.6 989.3 351.6 990.1 350.7 990.9 349.2 991.8 347.4 992.6 348.1 993.4 349.9 994.3 349.8 995.1 353.5 995.9 355.7 996.8 357.4 997.8 357 998.8 360.6 999.9 363 1000.9 364.1 1001.8 367 1002.6 366.8 1003.4 368.8 1004.3 369.9 1005.1 365.6 1005.9 362.4 1007 366 1008.1 366.6 1009.1 359.5 1010.1 357.4 1010.9 362.8 1011.8 367.4 1012.6 365.2 1013.4 373 1014.3 373.2 1015.1 373.3 1016.1 369.5 1017.2 371.6 1018.2 369.8 1019.3 371.6 1020.3 368.8 1021.4 370.9 1022.4 370.2 1023.4 371.6 1024.3 369 1025.1 362.4 1025.9 359.1 1026.8 355.1 1027.6 354.5 1028.4 352.4 1029.3 358 1030.1 362.4 1031 352 1031.8 339.1 1032.6 338.7 1033.5 334.5 1034.3 335.7 1035.1 333.6 1036 333.8 1036.8 331.9 1037.6 332.4 1038.5 336.3 1039.3 337.4 1040.1 340.7 1041 340.4 1041.8 339.7 1042.6 340.2 1043.5 339.9 1044.3 340.6 1045.1 349.3 1046 349.1 1046.8 351.5 1047.6 354.6 1048.5 356.3 1049.3 362.4 1050.1 361.4 1051 358.6 1051.8 360.4 1052.6 359.1 1053.5 364 1054.3 366.1 1055.1 368.2 1056.2 369.4 1057.2 374 1058.3 373.6 1059.3 375.8 1060.3 376.5 1061.4 377.5 1062.4 377.5 1063.5 379.1 1064.5 379.3 1065.6 376.3 1066.6 375 1067.6 377.4 1068.5 377.9 1069.3 373.5 1070.1 373.3 1071 372.4 1071.8 373.2 1072.6 372.4 1073.7 366.2 1074.7 359.7 1075.8 355.8 1076.8 350.7 1077.6 355.3 1078.5 363.8 1079.3 369.1 1080.3 372.1 1081.2 376.2 1082.2 381.5 1083.2 384.1 1084.1 379.4 1085 377.3 1086 377.4 1086.8 374 1087.7 368.2 1088.5 372.2 1089.3 372.3 1090.2 374.1 1091 357.9 1091.8 344.1 1092.7 356 1093.5 364.9 1094.3 374.1 1095.3 349 1096.3 320.7 1097.4 336.2 1098.5 357.4 1099.3 365.5 1100.2 372.4 1101 382.4 1101.8 381.8 1102.7 385.5 1103.5 385.8 1104.3 384.7 1105.1 380.5 1105.8 379.1 1106.7 380.9 1107.5 385.7 1108.3 385.8 1109.3 387.2 1110.3 386.6 1111.2 379.3 1112 372.4 1112.7 359 1113.3 344.1 1114.2 339.6 1115 334.9 1115.8 334.8 1116.7 338 1117.5 340.7 1118.3 355.7 1119.2 369.9 1120 371.5 1120.8 369.3 1121.7 370.5 1122.5 372.4 1123.6 371.5 1124.6 370 1125.6 374.1 1126.7 372.4 1127.5 371.4 1128.4 371.1 1129.2 367.4 1130 362.8 1130.9 363.9 1131.7 364.1 1132.5 362.7 1133.4 355.7 1134.2 355.2 1135 356.2 1135.9 360.7 1136.9 357.3 1138 353.2 1139 361.9 1140 365.7 1141 370.5 1142 373.3 1142.9 370.1 1143.8 370.8 1144.7 368.2 1145.6 370 1146.6 370.9 1147.5 371.6 1148.4 369.3 1149.2 365.7 1150.1 368.1 1151.1 369.8 1152 369.1 1153.1 374.5 1154.2 375.8 1155 374.1 1155.9 369.1 1157 377.2 1158 385.8 1158.8 383.4 1159.6 387.7 1160.4 387.4 1161.3 381.4 1162.2 383.8 1163 376.6 1164 380.2 1165 387.4 1165.9 385.9 1166.7 387.3 1167.5 391.6 1168.4 390.9 1169.2 389.5 1170 388.8 1170.9 386.6 1171.7 386.4 1172.5 384.1 1173.4 386 1174.2 384.1 1175.1 381 1175.9 377.8 1176.7 378.3 1177.6 381.9 1178.4 383.5 1179.2 384.9 1180.1 384.1 1180.9 385.8 1181.7 388.4 1182.6 387.4 1183.4 389.4 1184.2 386.8 1185.1 389.1 1185.9 385.8 1186.7 379.1 1187.6 381.7 1188.4 392.4 1189.2 390.9 1190.1 389.7 1190.9 387.4 1191.7 390.1 1192.6 393.3 1193.4 390.1 1194.2 384 1195.1 383.3 1195.9 385.8 1196.7 389.6 1197.6 391.6 1198.6 382.2 1199.7 375.8 1200.6 372.2 1201.4 368.2 1202 375.9 1202.6 384.1 1203.7 375.5 1204.7 374.1 1205.7 375.6 1206.6 380 1207.6 381.6 1208.4 379.1 1209.2 381.6 1210.1 382.1 1210.9 381.6 1211.7 378.3 1212.6 378.7 1213.4 379.2 1214.2 376.6 1215.1 375.8 1215.9 371.3 1216.7 372.5 1217.6 369.1 1218.4 364 1219.2 358.1 1220.1 352.4 1220.9 352.5 1221.7 349.1 1222.6 345.7 1223.7 352.1 1224.7 357.4 1225.7 362.2 1226.6 365.1 1227.6 367.4 1228.4 374 1229.3 376.6 1230.1 373.5 1230.9 367.9 1231.8 370.3 1232.6 364.9 1233.4 371.6 1234.3 375.8 1235.1 377.4 1235.9 377.5 1236.8 378.1 1237.6 379.1 1238.4 376.9 1239.3 373 1240.1 373.4 1240.9 369.9 1242 369.8 1243 368 1244.1 369.7 1245.1 369.1 1245.9 368.1 1246.8 368.2 1247.6 368.7 1248.4 367.4 1249.3 372.5 1250.1 367.4 1250.9 370.6 1251.8 370.8 1252.6 373.5 1253.4 374.7 1254.3 378.1 1255.1 377.4 1255.9 379.2 1256.8 381.9 1257.6 384.9 1258.4 387.4 1259.5 386.3 1260.5 391.2 1261.6 388.6 1262.6 391.6 1263.7 392.2 1264.7 393.1 1265.7 389.6 1266.8 390.8 1267.8 390.7 1268.9 390.9 1269.9 394.1 1270.9 391.6 1272 391 1273 386.7 1274.1 390.2 1275.1 387.4 1276.2 389.5 1277.2 385.1 1278.2 384.4 1279.3 389.1 1280.1 393.6 1281 390.1 1281.8 387 1282.6 390.8 1283.5 393.3 1284.3 394.7 1285.1 389.5 1286 394.1 1286.8 394.7 1287.6 392.3 1288.5 389.7 1289.3 388.3 1290.3 387.6 1291.4 389.7 1292.4 388.2 1293.5 389.9 1294.5 389.8 1295.5 388.9 1296.5 388.2 1297.5 389.5 1298.5 388.3 1299.5 390.4 1300.6 390.9 1301.6 390.8 1302.6 390.8 1303.7 394.5 1304.7 390.8 1305.8 394 1306.8 394.9 1307.8 394.4 1308.9 395.2 1309.9 388.8 1311 391.6 1312 390.7 1313 390.8 1314 391.4 1315 394.5 1316 390.8 1317 392.2 1318.1 392.7 1319.1 394.6 1320.1 394.9 1321.2 396.1 1322.2 393.8 1323.3 396.3 1324.3 393.3 1325.3 391.7 1326.3 395.9 1327.3 395.4 1328.3 396.2 1329.3 394.9 1330.3 397.6 1331.3 394.9 1332.3 396.1 1333.3 396 1334.3 395.8 1335.4 394.2 1336.4 393.3 1337.4 392.7 1338.5 393.3 1339.5 394.4 1340.5 389.3 1341.5 390.7 1342.5 392.7 1343.5 392.4 1344.6 394.8 1345.7 392.8 1346.7 395.3 1347.8 393.4 1348.9 393 1350 394.1 1351 391.2 1352 393.7 1353 393 1354 395.2 1355 392.1 1356 389.8 1357 391 1358 391.4 1359 387.8 1360 387.7 1361 389 1362 389.8 1363 387.7 1364 386 1364.8 388.9 1365.7 389 1366.5 390.0" class="b"/>
</g>
<line x1="248.8" y1="249.8" x2="248.8" y2="256.3" class="tk"/>
<line x1="248.8" y1="407.5" x2="248.8" y2="401.0" class="tk"/>
<line x1="373.0" y1="249.8" x2="373.0" y2="256.3" class="tk"/>
<line x1="373.0" y1="407.5" x2="373.0" y2="401.0" class="tk"/>
<line x1="497.2" y1="249.8" x2="497.2" y2="256.3" class="tk"/>
<line x1="497.2" y1="407.5" x2="497.2" y2="401.0" class="tk"/>
<line x1="621.4" y1="249.8" x2="621.4" y2="256.3" class="tk"/>
<line x1="621.4" y1="407.5" x2="621.4" y2="401.0" class="tk"/>
<line x1="745.6" y1="249.8" x2="745.6" y2="256.3" class="tk"/>
<line x1="745.6" y1="407.5" x2="745.6" y2="401.0" class="tk"/>
<line x1="869.8" y1="249.8" x2="869.8" y2="256.3" class="tk"/>
<line x1="869.8" y1="407.5" x2="869.8" y2="401.0" class="tk"/>
<line x1="994.0" y1="249.8" x2="994.0" y2="256.3" class="tk"/>
<line x1="994.0" y1="407.5" x2="994.0" y2="401.0" class="tk"/>
<line x1="1118.2" y1="249.8" x2="1118.2" y2="256.3" class="tk"/>
<line x1="1118.2" y1="407.5" x2="1118.2" y2="401.0" class="tk"/>
<line x1="1242.4" y1="249.8" x2="1242.4" y2="256.3" class="tk"/>
<line x1="1242.4" y1="407.5" x2="1242.4" y2="401.0" class="tk"/>
<path d="M1366.5 249.8H126.1V407.5H1366.5" class="ax"/>
<line x1="1366.5" y1="249.0" x2="1366.5" y2="408.3" class="axb"/>
<text x="117.1" y="257.7" text-anchor="end" class="tl">20</text>
<line x1="126.1" y1="301.8" x2="132.6" y2="301.8" class="tk"/>
<text x="117.1" y="309.7" text-anchor="end" class="tl">0</text>
<line x1="126.1" y1="355.4" x2="132.6" y2="355.4" class="tk"/>
<text x="117.1" y="363.3" text-anchor="end" class="tl">-20</text>
<text x="117.1" y="415.4" text-anchor="end" class="tl">-40</text>
<text x="1376.0" y="257.7" class="tl bl">800</text>
<line x1="1366.5" y1="286.8" x2="1360.0" y2="286.8" class="tkb"/>
<text x="1376.0" y="294.7" class="tl bl">600</text>
<line x1="1366.5" y1="324.6" x2="1360.0" y2="324.6" class="tkb"/>
<text x="1376.0" y="332.5" class="tl bl">400</text>
<line x1="1366.5" y1="362.0" x2="1360.0" y2="362.0" class="tkb"/>
<text x="1376.0" y="369.9" class="tl bl">200</text>
<line x1="1366.5" y1="399.6" x2="1360.0" y2="399.6" class="tkb"/>
<text x="1376.0" y="407.5" class="tl bl">0</text>
<clipPath id="cc"><rect x="126.1" y="434.1" width="1240.4" height="156.79999999999995"/></clipPath><g clip-path="url(#cc)">
<path d="M125.8 520.6 126.7 511.5 127.5 500.5 128.3 504.4 129.2 514.7 130.2 512.3 131.3 512.8 132.3 514.3 133.3 510.6 134.3 511.4 135.3 509.2 136.3 513.6 137.3 511.7 138.3 514.7 139.4 518.2 140.4 516.8 141.5 521.7 142.5 519.7 143.3 519.2 144.2 517.3 145 518.9 145.9 521.3 146.7 528.9 147.7 528.5 148.8 530.1 149.8 531.7 150.9 529.7 151.9 529.4 152.9 526.7 154 528.1 155 526.4 155.9 523 156.7 525.6 157.5 523.9 158.4 525.6 159.2 532.7 160 533.1 161.1 534.4 162.1 532.9 163.2 530 164.2 531.4 165.2 531.1 166.3 529.6 167.3 526.7 168.4 526.4 169.2 531.5 170 538.9 170.9 533.4 171.7 522.6 172.5 515.6 173.4 515.7 174.2 516.8 175 511 175.9 513.1 176.7 514 177.5 510.4 178.4 506.4 179.4 511.1 180.4 518.1 181.5 512.2 182.5 509.7 183.5 507.5 184.4 511.4 185.4 509.7 186.4 508.1 187.4 517.5 188.4 518.9 189.2 522.9 190 525.2 190.9 529.2 191.7 533.9 192.5 531.3 193.4 529.6 194.2 528.1 195.1 531.6 195.9 530.5 196.7 533.9 197.6 536.1 198.4 536.1 199.2 534.1 200.1 534.7 200.9 535 201.7 532.1 202.6 532.3 203.4 531.4 204.2 532.5 205.1 535.3 205.9 531.9 206.7 532.2 207.6 530.5 208.4 529.4 209.2 527.5 210.1 526.4 211.1 525.3 212.1 531.4 213.2 527.8 214.2 529.7 215.1 531.2 215.9 533.5 216.7 537.2 217.6 539 218.4 543.7 219.2 538.9 220.3 542.9 221.3 537.8 222.4 535.2 223.4 533.1 224.4 532.7 225.4 530.6 226.4 533.4 227.4 531.6 228.4 531.4 229.2 531.8 230.1 524.2 230.9 521.4 231.7 518.7 232.6 516.4 233.4 518.9 234.2 517.1 235.1 522.9 235.9 523.9 236.7 524.7 237.6 523.5 238.4 523.6 239.2 527.7 240.1 528.1 241.1 527.8 242.1 529.1 243.1 529 244.1 528 245.1 529.7 245.9 526.2 246.8 529.1 247.6 528.7 248.4 528.1 249.4 524.6 250.4 520.6 251.5 526 252.6 528.1 253.4 528.6 254.3 525 255.1 524.7 256.1 523.8 257.1 516.9 258.1 518.9 259 521.2 259.9 520.9 260.8 523.9 261.8 523.1 262.6 525.3 263.4 522.2 264.3 524.1 265.1 524.7 266.1 526.4 267.1 523.1 268.1 523.9 269.1 522.3 270.1 523.1 271.1 523.3 272.2 521.9 273.2 519.1 274.3 519.7 275.1 514.9 275.9 511.1 276.8 514.4 277.6 510.6 278.4 509.5 279.3 508.7 280.1 509.7 280.9 511.7 281.8 515.6 282.6 514.2 283.4 517.4 284.3 516.4 284.9 506.3 285.4 493.9 286.5 492.7 287.6 499.7 288.4 490.1 289.3 480.5 290.1 507.8 290.9 534.7 291.8 531.4 292.6 529.4 293.4 526.4 294.3 532.8 295.1 533.1 296 529.8 296.8 527.5 297.6 521.4 298.5 522.1 299.3 516.4 300.1 518.1 301 522.4 301.8 520.7 302.6 521.4 303.5 528.4 304.3 536.4 305.1 530.4 306 525.5 306.8 513.9 307.6 515.2 308.5 518.1 309.3 522.7 310.1 524.7 311 520.1 311.8 519.9 312.6 520.6 313.5 524.8 314.3 530.3 315.1 534.1 316 537.2 316.8 534.6 317.6 530.9 318.5 523.9 319.3 520.6 320.1 520.6 321 521.2 321.8 521.9 322.6 523.1 323.5 522.2 324.3 517.2 325.1 509.2 326 498 326.8 491.8 327.6 493.9 328.5 490.5 329.5 494.9 330.5 503.1 331.3 496 332.1 493 332.8 502.1 333.5 506.4 334.3 495.9 335.1 480.5 336 488.1 336.8 491.4 337.6 507.6 338.5 521.4 339.3 517.2 340.1 506.4 341 509.9 341.8 519.1 342.6 523.1 343.5 515.2 344.3 508.6 345.2 503.1 346 505.1 346.8 515.9 347.7 518.1 348.5 517.4 349.3 511.9 350.2 506.4 351 508.7 351.8 513.4 352.7 516.4 353.5 522.2 354.3 531.5 355.2 539.7 356 537.5 356.8 532.7 357.7 524.7 358.5 526.8 359.3 527.9 360.2 527 361 528.1 361.8 533.2 362.7 536.7 363.5 541.4 364.3 533.2 365.2 523.1 366 526.9 366.8 534.9 367.7 538.1 368.7 536 369.7 534.7 370.3 533.9 370.8 532.2 371.7 539.5 372.5 550.1 373.3 554.8 374.2 555.8 375 552.1 375.8 551.2 376.7 552.2 377.5 552.7 378.3 551.2 379.2 550 380 549.7 380.8 548.5 381.7 549.5 382.5 544.7 383.6 537.1 384.7 529.7 385.5 540.3 386.3 545.6 387.3 539.3 388.3 534.7 389.2 541 390 548.1 391 544.1 392 538.9 392.9 542.7 393.8 545.8 394.7 550.6 395.6 549.3 396.5 551.2 397.4 551.7 398.4 553.1 399.2 552.6 400 553.9 400.9 551.4 401.8 549.6 402.7 548 403.7 543.1 404.8 546.8 405.9 549.7 406.8 547.8 407.8 545.4 408.7 541.4 409.8 543.2 410.9 542.2 411.7 547.5 412.5 547.9 413.4 552.2 414.4 553.7 415.4 554 416.4 556.5 417.4 556.5 418.4 555.6 419.4 553.1 420.5 553.5 421.5 552.5 422.5 549.7 423.5 551.8 424.4 556 425.4 555.6 426.5 552.4 427.5 548.1 428.4 488 429.2 493.3 430 503.1 430.9 494.5 431.7 484.7 432.7 481.6 433.7 475.5 434.4 483.7 435 494.7 436 503.5 437 509.7 438.1 497.2 439.2 494.7 440.1 491.8 440.9 481.4 441.7 481.8 442.6 487.2 443.4 481.4 444.2 476.7 445.1 472.2 446.1 475.9 447.1 484.7 448 481.1 448.9 476.4 449.9 474.7 450.9 476.4 451.7 508.1 452.7 519.8 453.7 536.4 454.4 523.1 455.1 518.1 456.1 536.9 457.1 553.1 457.9 551.1 458.7 544.7 459.7 546.8 460.7 550.2 461.7 552.2 462.6 555.4 463.4 553.4 464.2 555 465.1 553.1 465.9 553.7 466.7 552 467.6 550.3 468.4 548.1 469.4 540.3 470.4 528.1 471.5 533.5 472.6 538.1 473.7 533.4 474.7 528.1 475.7 526 476.7 526.4 477.6 527.4 478.4 534.2 479.2 540.6 480.1 533.6 480.9 529.7 481.7 521.4 482.7 518.9 483.7 514 484.7 515.6 485.7 523.1 486.7 528.1 487.6 528.2 488.4 524.3 489.2 521.4 490.1 522.8 490.9 523.6 491.8 523.8 492.6 524.7 493.5 532.9 494.5 534.4 495.4 541.4 496.5 535.9 497.6 533.1 498.4 535.8 499.3 542.8 500.1 548.9 500.9 548.5 501.8 549.4 502.6 551.8 503.4 552.2 504.4 554.7 505.4 550.8 506.4 554 507.4 553 508.4 554.8 509.4 551.9 510.4 551.4 511.4 468.9 512.4 475.2 513.4 483 514.5 486.3 515.6 488 516.4 495.2 517.1 508.1 518.2 526.7 519.3 539.7 520.1 536.7 520.9 533.9 521.8 541.3 522.6 548.3 523.4 559.8 524.4 569.3 525.4 574.8 526.5 571.9 527.6 566.4 528.4 562 529.3 554.5 530.1 548.1 530.9 553 531.8 554.4 532.6 553.1 533.4 558.2 534.3 556 535.1 556.4 535.9 560.5 536.8 560.2 537.6 563.1 538.4 565.3 539.3 566.5 540.1 568.9 541 570.3 541.8 571.6 542.6 572.8 543.5 573.9 544.5 552.7 545.5 531.4 546.3 545.1 547.1 558.1 548.2 543.2 549.3 529.7 550.1 511.8 551 496.4 552 502.3 553.1 509.7 554 494.3 554.8 476.4 555.4 468.2 556 457.2 556.8 474.7 557.6 488 558.5 485 559.3 473 559.9 498.7 560.5 528.1 561.5 553 562.6 574.8 563.7 567.4 564.8 564.8 565.7 565.4 566.7 566.7 567.6 569.8 568.5 569.7 569.3 571.8 570.1 572 571 568.9 572.1 565 573.1 559.8 574.1 562.1 575 561.7 576 561.4 576.8 557.6 577.6 561.2 578.5 556.4 579.5 560.4 580.5 566.4 581.3 543.1 582 554.7 582.6 568.1 583.5 555.5 584.3 541.4 585.1 530.6 586 546.5 586.8 564.8 587.6 541.2 588.5 513 589.3 489.7 590.2 512.8 591 538.1 591.8 528.3 592.7 524.7 593.5 534.3 594.3 550.6 595.4 538.3 596.5 524.7 597.5 530.6 598.5 534.7 599.3 530.8 600.2 531.2 601 524.7 601.8 518 602.7 514.7 603.7 516.6 604.8 516.4 605.8 498.4 606.8 483 607.8 481.4 608.8 479.7 609.7 474.8 610.5 468 611.5 483 612.5 469.3 613.5 460.5 614.4 469.3 615.3 473 616.4 470.4 617.5 468 618.6 476.9 619.7 485.5 620.7 478.2 621.7 471.4 622.5 474.3 623.3 473.6 624.2 478 625 476.4 625.8 479.8 626.7 479.7 627.3 488.5 628 498 628.8 489.9 629.6 483.7 630.3 475.5 631.4 483.9 632.5 486.4 633.1 502.5 633.7 522.2 634.7 508.3 635.7 502.8 636.7 493.9 637.5 492.2 638.4 496.3 639.2 498 639.8 513 640.4 531.4 641.4 531.5 642.5 531.4 643.4 483 644 479 644.7 468 645.7 470.4 646.7 473 647.5 470 648.4 471.1 649.2 473 650 467 650.9 464.7 651.9 461.7 653 463.9 653.7 511.4 654.7 550.6 655.7 551.9 656.7 551.4 657.2 566.4 657.9 540.5 658.7 513.9 659.5 534.5 660.4 551.4 661.5 553.8 662.5 553.1 663.1 537 663.7 521.4 664.8 519.5 665.9 519.7 666.7 509.7 667.5 501.4 668.6 511.4 669.7 521.4 670.5 516.3 671.3 510.7 672 509.7 673.1 515.7 674.2 513.1 675 516.2 675.9 513.7 676.7 514.7 677.5 518.4 678.4 523 679.2 528.1 679.8 530.6 680.4 531.4 681.2 521.7 682 513.1 683.1 508.2 684.2 511.4 685.1 492.2 685.6 507.3 686.2 521.4 686.9 544.1 687.6 564.8 688.4 562.9 689.2 563.3 690.1 566.4 690.6 550.4 691.2 534.7 691.9 518.6 692.6 506.4 693.4 512.2 694.2 515.8 695.1 518.1 696.1 511.6 697.1 511.4 697.9 508.9 698.7 504.7 699.8 506.3 700.9 513.1 701.7 514.3 702.6 518.1 703.4 534.7 704.2 546.4 705.1 546.2 705.9 548.2 706.7 547.2 707.6 541.1 708.4 536.4 709.1 526 709.7 508.1 710.5 498.1 711.2 488 712.2 499.5 713.1 499.7 714 502.7 715 503 715.9 505.6 716.7 511.1 717.6 516.4 718.6 507.2 719.6 498.9 720.5 505.5 721.4 506.4 722.4 505.1 723.3 509.2 724.2 508.1 725.3 525.8 726.4 538.1 727.2 536.8 728.1 531.4 728.9 538.6 729.7 550.6 730.6 546.8 731.4 538.1 732.2 530.1 733.1 518.9 734.1 525.6 735.1 528.1 735.7 511.3 736.3 498 737.2 506.7 738.1 514.7 738.9 523.6 739.8 528.1 740.5 517.5 741.3 506.4 741.9 510.2 742.6 513.1 743.4 488 744.3 484 745.1 481.4 745.9 478 746.8 475.3 747.6 472.2 748.4 477.8 749.3 473.7 750.1 474.7 750.9 474.4 751.8 474.1 752.6 477.4 753.4 477.2 754.4 479 755.4 479.1 756.4 481.4 757.1 526.4 757.8 532.1 758.4 543.9 759.3 546.6 760.1 542 760.9 541.4 761.8 494.7 762.4 489.3 762.9 486.4 763.6 496.9 764.3 506.4 765.1 509 765.9 514.3 766.8 518.9 767.6 512.2 768.4 511.7 769.3 509.7 770.4 512.4 771.4 524.7 772.3 535.4 773.1 543.1 774 544 774.9 544.6 775.9 546.2 776.8 547.2 777.6 534.7 778.4 534.6 779.3 539.6 780.1 542.2 780.9 535.2 781.8 529.9 782.6 521.4 783.7 510.8 784.8 503.1 785.6 503.6 786.3 506.1 787.1 508.1 788.1 509.5 789.1 510.3 790.1 511.4 791.1 511.2 792.1 511.8 793.1 509.7 793.9 514 794.7 518 795.5 521.4 796.5 528.9 797.6 537.2 798.5 525.7 799.3 519.7 800.1 516.8 801 511.1 801.8 508.1 802.6 515.2 803.5 523.1 804.3 519 805.1 522.8 806 518.1 806.8 518.4 807.6 514 808.5 513.1 809.3 500.2 810.1 485.5 811 548.1 811.9 548.6 812.9 549.6 813.8 544.7 814.7 539.5 815.6 535.4 816.5 528.1 817.4 526.4 818.4 527.6 819.3 528.1 820.1 535.1 821 543.1 821.8 542.6 822.6 541.3 823.5 544.7 824.3 543.9 824.9 529.2 825.5 518.1 826.6 529.7 827.6 544.7 828.5 540.5 829.3 539.4 830.1 534.9 831 528.9 831.8 536.5 832.6 544.7 833.7 544.3 834.8 548.1 835.6 543.7 836.4 544.7 837.2 543.1 838.2 519.7 839.2 528.2 840.2 533.9 841 498 841.8 501.2 842.7 501.1 843.5 503.1 844.3 499.8 845.2 500.5 846 500.3 846.8 496.4 847.7 497.9 848.5 500.6 849.3 501.4 850.2 504.6 851 508.7 851.8 513.1 852.8 523.1 853.8 528.1 854.7 520.3 855.5 514.7 856.6 529.6 857.7 539.7 858.2 511.5 858.8 484.7 859.2 484.7 860 493.8 860.8 503.1 861.7 495.8 862.5 485.5 863.6 499.7 864.7 511.4 865.7 495.7 866.7 482.2 867.7 488.2 868.7 494.7 869.8 500.1 870.8 505.6 871.7 499 872.5 492.1 873.3 485.5 874.2 491.8 875 493.1 875.8 499.7 876.7 494.6 877.5 486.4 878.3 495.2 879.2 500.5 879.8 488.7 880.4 481.4 881.4 486.3 882.5 491.4 883.4 486.2 884.2 483.9 884.8 498.9 885.4 519.7 886.4 518.1 887.5 516.4 888.5 521.1 889.4 522.8 890.4 527.2 891.4 525.7 892.5 523.1 893.4 524.8 894.2 522.8 895 528.1 895.9 527.7 896.7 529.9 897.5 528.1 898.4 532.9 899.2 530.2 900 534.7 901 535.7 902 542.2 903 539.9 904 535.6 905 533.1 905.9 535.6 906.7 536.6 907.5 539.7 908.4 540.4 909.2 539.7 910 537.2 910.9 537.2 911.7 539 912.5 540.4 913.4 542.2 914 537.9 914.7 531.4 915.5 539.5 916.4 546.4 917.3 546.8 918.3 547.1 919.2 545.6 920 523.7 920.9 501.4 921.7 518.9 922.5 538.1 923.4 535.1 924.2 528.9 925.3 534.7 926.4 542.2 927.4 537 928.4 536.4 929.2 513.1 930.1 493 930.9 493.6 931.7 493.9 932.4 503.4 933.1 514.7 934 512.8 934.9 512.9 935.9 511.4 936.7 515.5 937.6 517.6 938.4 521.4 939.2 522.8 940.1 526.1 940.9 528.1 941.7 526 942.6 520.6 943.6 526.9 944.7 538.1 945.7 532.1 946.7 528.1 947.4 531 948.1 538.1 949 536.5 950 538.9 950.9 537.2 951.7 531 952.6 517.2 953.1 527.9 953.7 538.9 954.8 531.7 955.9 528.1 956.7 524.1 957.6 525.3 958.4 523.7 959.2 519.7 959.8 527.7 960.4 532.2 961.5 527 962.6 518.9 963.4 517.6 964.2 517 965.1 518.1 965.7 525.2 966.4 532.2 967.4 532.3 968.3 528.5 969.2 528.1 970.1 530.1 970.9 538 971.7 539.7 972.6 537 973.4 542.5 974.2 539.7 975.3 531.9 976.4 528.1 977.4 527.9 978.3 524.5 979.2 523.9 980.1 524.7 980.9 520.1 981.8 519.7 982.6 518.1 983.4 523.3 984.3 526.3 985.1 531.4 985.9 527.6 986.8 527.4 987.6 527.2 988.4 518.6 989.3 513.1 990.1 513.8 990.9 507.1 991.8 516.3 992.6 514.7 993.4 519.9 994.3 517.9 995.1 517.5 995.9 520.6 996.9 517.3 997.8 515 998.8 514.7 999.7 515.3 1000.5 522.1 1001.4 522.2 1002.4 517.1 1003.3 518.9 1004.3 519.7 1005.1 520.4 1005.9 521.4 1007 528.8 1008.1 541.4 1008.7 537.7 1009.3 528.1 1010.1 527.2 1010.9 527.7 1011.8 526.7 1012.6 527.2 1013.4 525.7 1014.3 523.5 1015.1 523.9 1016.1 527.9 1017.2 526 1018.2 528.1 1019.3 531.4 1020.1 534.8 1020.9 533.7 1021.8 538.1 1022.6 539.1 1023.4 533 1024.3 531.4 1024.9 535.3 1025.4 539.7 1026.1 534.1 1026.8 522.2 1027.6 527.8 1028.4 538.9 1029.4 543.5 1030.5 541.4 1031.5 534.2 1032.6 529.7 1033.5 526.2 1034.3 526.9 1035.1 523.1 1036.1 519.9 1037.1 510.6 1038.2 515.8 1039.3 521.4 1040.1 525 1041 528.1 1041.8 524.8 1042.6 521.2 1043.5 518.1 1044.3 516.8 1045.1 514.8 1046 513.1 1046.8 505 1047.6 499.7 1048.5 498.2 1049.3 496.1 1050.1 500.5 1051.1 510.2 1052.1 518.9 1053.2 525.6 1054.3 534.7 1055.4 537.5 1056.5 539.7 1057.2 537.3 1058 533.1 1058.8 529.7 1059.9 534.7 1061 537.2 1061.8 537.8 1062.6 539.5 1063.5 537.6 1064.3 538.1 1065.1 537.4 1066 540.3 1066.8 537.3 1067.6 539.7 1068.5 540.3 1069.3 535.5 1070.1 534.7 1071 529.7 1071.8 528.2 1072.6 523.1 1073.7 527.8 1074.8 526.4 1075.8 531.9 1076.8 541.4 1077.6 540.2 1078.5 542.1 1079.3 544.9 1080.2 539.7 1081.2 534.7 1082.2 536.8 1083.2 536.4 1084.1 530.2 1085 524.1 1086 521.4 1086.8 520.9 1087.7 513.1 1088.5 508.1 1089.5 505.2 1090.5 501.4 1091.3 496.2 1092.2 492.2 1093 500 1093.8 503.1 1094.9 499.8 1096 493.9 1096.8 498.7 1097.7 504.7 1098.5 505.9 1099.3 510 1100.2 511.4 1101 508 1101.8 502.8 1102.7 501.4 1103.7 507.2 1104.7 514.7 1105.6 512.8 1106.5 515.8 1107.4 510 1108.3 512.2 1109.4 513 1110.4 511.7 1111.5 511.1 1112.5 511.1 1113.5 510.1 1114.6 513.2 1115.6 510.6 1116.7 511.4 1117.5 510 1118.3 504.7 1119.2 500.3 1120 496.4 1120.7 495.1 1121.3 496.4 1122 541.4 1123.1 542.1 1124.2 543.1 1125 543.1 1125.8 544 1126.7 539.7 1127.5 541.4 1128.5 539.7 1129.4 539.1 1130.3 540.6 1131 533.9 1131.7 529.7 1132.5 521.1 1133.3 520.6 1134.2 513.9 1135 518.1 1135.8 514.3 1136.7 518.9 1137.7 518.6 1138.7 512.4 1139.7 510.6 1140.6 508.9 1141.6 508.2 1142.5 503.1 1143.3 502.5 1144.2 504 1145 502.2 1145.9 499.3 1146.7 497.5 1147.5 494.7 1148.4 494 1149.2 496 1150 496.2 1150.9 496.4 1151.7 499.9 1152.5 499.8 1153.4 501.4 1154.2 518.1 1154.8 506.3 1155.4 499.7 1156.4 498.6 1157.5 499.7 1158.4 507.4 1159.2 509.7 1160.3 510 1161.4 513.1 1162.1 520.4 1162.9 524.6 1163.7 532.2 1164.5 526.4 1165.4 518.9 1166.4 525.8 1167.5 527.2 1168.4 529.2 1169.2 521.2 1170 521.4 1171 523.7 1172 528.9 1172.9 522.8 1173.8 518.7 1174.7 515.6 1175.6 513.7 1176.6 512.1 1177.5 510.6 1178.4 512.3 1179.2 510.9 1180 509.7 1180.9 511.9 1181.7 514.7 1182.4 505.6 1183 496.4 1183.8 499 1184.6 502.3 1185.4 503.1 1186.5 511.4 1187.5 513.1 1188.4 522 1189.2 532.2 1190.3 534.2 1191.3 533.1 1192.3 532.3 1193.4 533.1 1194.4 528.4 1195.4 522.2 1196.5 528.8 1197.6 538.1 1198.4 538.3 1199.2 528.1 1200.3 526.8 1201.4 523.1 1202.2 527.4 1202.9 533.3 1203.7 538.1 1204.8 532.6 1205.9 528.9 1206.7 526.9 1207.6 525.4 1208.4 523 1209.2 523.1 1210.1 519.5 1210.9 522.1 1211.7 518 1212.6 516.4 1213.6 515.4 1214.7 512.2 1215.3 506.9 1215.9 503.1 1216.7 508 1217.6 514.7 1218.4 512.2 1219.2 516 1220.1 509.7 1220.9 509.1 1221.7 505.8 1222.6 501.4 1223.4 502.1 1224.2 501.7 1225.1 503.7 1225.9 503.1 1226.7 506.4 1227.6 503.6 1228.4 505.7 1229.2 508.9 1230.1 507.5 1230.9 503.1 1231.7 504 1232.6 503.8 1233.4 503 1234.2 505.6 1235.1 503.9 1235.9 506.3 1236.7 508 1237.6 510.6 1238.7 513.5 1239.7 516.4 1240.7 515.4 1241.7 512.2 1242.7 515.9 1243.7 518.1 1244.8 516.2 1245.9 511.4 1246.5 505.7 1247.1 501.4 1247.9 512.8 1248.8 518.1 1249.4 506.5 1250.1 493.9 1250.9 494.9 1251.8 494.9 1252.6 492.6 1253.4 494.7 1254.3 497.8 1255.1 498 1255.9 496.4 1256.8 496.4 1257.6 493.5 1258.4 489.6 1259.3 489.7 1260.1 490.1 1260.9 488.3 1261.8 487.2 1262.6 492.7 1263.4 488.6 1264.3 491.4 1265.1 498.1 1265.9 506.4 1266.8 499 1267.6 493.9 1268.4 495 1269.3 496.6 1270.1 501.4 1271.1 495.9 1272.1 492.2 1273.2 497.3 1274.3 502.2 1275.1 506.3 1275.9 506.5 1276.8 505.8 1277.6 503.9 1278.4 503 1279.3 507 1280.1 508.7 1280.9 508.1 1281.8 511.1 1282.6 510.2 1283.4 515.2 1284.3 514.7 1285.1 516.6 1285.9 518.4 1286.8 521.4 1287.6 522.9 1288.4 519.2 1289.3 515.6 1290.1 527.2 1291.1 523.8 1292.1 518.9 1293.2 527.3 1294.3 530.6 1294.9 523.1 1295.5 516.4 1296.5 516.3 1297.5 525.1 1298.5 525.6 1299.3 520.2 1300.1 514.7 1301 508.9 1301.8 502.1 1302.6 496.4 1303.5 500.9 1304.3 498 1305.1 503.2 1306 507.1 1306.8 513.1 1307.6 503.5 1308.5 499.4 1309.3 492.2 1310.3 490.4 1311.4 493.8 1312.4 495.1 1313.5 494.7 1314.3 501.4 1315.1 501.8 1316 497.2 1316.8 494.7 1317.8 492 1318.7 490.2 1319.7 495.2 1320.7 496.3 1321.7 492.3 1322.6 495.5 1323.6 499.1 1324.6 497.1 1325.5 501.1 1326.5 498 1327.1 499.4 1327.6 504.7 1328.5 506.1 1329.3 512.2 1330.1 506.3 1331 495.5 1331.8 505.5 1332.6 508.7 1333.5 518.9 1334.3 521 1335.1 521.2 1336 520.6 1336.8 520.6 1337.8 514.7 1338.8 511.4 1339.9 508.3 1341 506.4 1341.8 508.9 1342.6 512.9 1343.5 516.4 1344.4 515.2 1345.3 516.9 1346.2 510.9 1347.2 512.2 1348 510.3 1348.8 499.7 1349.9 498.7 1351 499.7 1351.8 510 1352.7 518.1 1353.2 520.1 1353.8 526.4 1354.9 521.2 1356 513.1 1357.1 513.6 1358.2 518.1 1358.7 510.6 1359.3 493.9 1360.2 498.4 1361 501.4 1361.8 512 1362.7 518.1 1363.2 511.5 1363.8 503.1 1364.9 502.4 1366 503.9 1366.7 503.7 1367.3 503.1" class="k"/>
</g>
<line x1="248.8" y1="434.1" x2="248.8" y2="440.6" class="tk"/>
<line x1="248.8" y1="590.9" x2="248.8" y2="584.4" class="tk"/>
<line x1="373.0" y1="434.1" x2="373.0" y2="440.6" class="tk"/>
<line x1="373.0" y1="590.9" x2="373.0" y2="584.4" class="tk"/>
<line x1="497.2" y1="434.1" x2="497.2" y2="440.6" class="tk"/>
<line x1="497.2" y1="590.9" x2="497.2" y2="584.4" class="tk"/>
<line x1="621.4" y1="434.1" x2="621.4" y2="440.6" class="tk"/>
<line x1="621.4" y1="590.9" x2="621.4" y2="584.4" class="tk"/>
<line x1="745.6" y1="434.1" x2="745.6" y2="440.6" class="tk"/>
<line x1="745.6" y1="590.9" x2="745.6" y2="584.4" class="tk"/>
<line x1="869.8" y1="434.1" x2="869.8" y2="440.6" class="tk"/>
<line x1="869.8" y1="590.9" x2="869.8" y2="584.4" class="tk"/>
<line x1="994.0" y1="434.1" x2="994.0" y2="440.6" class="tk"/>
<line x1="994.0" y1="590.9" x2="994.0" y2="584.4" class="tk"/>
<line x1="1118.2" y1="434.1" x2="1118.2" y2="440.6" class="tk"/>
<line x1="1118.2" y1="590.9" x2="1118.2" y2="584.4" class="tk"/>
<line x1="1242.4" y1="434.1" x2="1242.4" y2="440.6" class="tk"/>
<line x1="1242.4" y1="590.9" x2="1242.4" y2="584.4" class="tk"/>
<path d="M1366.5 434.1H126.1V590.9H1366.5" class="ax"/>
<line x1="1366.5" y1="433.3" x2="1366.5" y2="591.6999999999999" class="ax"/>
<text x="117.1" y="442.0" text-anchor="end" class="tl">10</text>
<line x1="126.1" y1="473.6" x2="132.6" y2="473.6" class="tk"/>
<text x="117.1" y="481.5" text-anchor="end" class="tl">5</text>
<line x1="126.1" y1="513.0" x2="132.6" y2="513.0" class="tk"/>
<text x="117.1" y="520.9" text-anchor="end" class="tl">0</text>
<line x1="126.1" y1="552.2" x2="132.6" y2="552.2" class="tk"/>
<text x="117.1" y="560.1" text-anchor="end" class="tl">-5</text>
<text x="117.1" y="598.8" text-anchor="end" class="tl">-10</text>
<line x1="1366.5" y1="473.6" x2="1360.0" y2="473.6" class="tk"/>
<line x1="1366.5" y1="513.0" x2="1360.0" y2="513.0" class="tk"/>
<line x1="1366.5" y1="552.2" x2="1360.0" y2="552.2" class="tk"/>
<clipPath id="cd"><rect x="126.1" y="631.0" width="1240.4" height="157.70000000000005"/></clipPath>
<defs><pattern id="sk1" patternUnits="userSpaceOnUse" x="126" y="0" width="149" height="200"><rect x="47.8" width="0.8" height="200" fill="#fff" opacity="0.74"/><rect x="10.7" width="1.1" height="200" fill="#fff" opacity="0.61"/><rect x="8.6" width="1.1" height="200" fill="#fff" opacity="0.47"/><rect x="64.0" width="0.8" height="200" fill="#fff" opacity="0.49"/><rect x="62.6" width="1.4" height="200" fill="#fff" opacity="0.51"/><rect x="32.9" width="1.2" height="200" fill="#fff" opacity="0.88"/><rect x="85.1" width="1.0" height="200" fill="#fff" opacity="0.89"/><rect x="6.9" width="1.4" height="200" fill="#fff" opacity="0.58"/><rect x="21.3" width="0.8" height="200" fill="#fff" opacity="0.59"/><rect x="120.4" width="0.8" height="200" fill="#fff" opacity="0.71"/><rect x="94.2" width="1.0" height="200" fill="#fff" opacity="0.70"/><rect x="9.3" width="0.7" height="200" fill="#fff" opacity="0.54"/><rect x="100.4" width="1.0" height="200" fill="#fff" opacity="0.59"/><rect x="86.4" width="1.1" height="200" fill="#fff" opacity="0.58"/><rect x="117.2" width="1.3" height="200" fill="#fff" opacity="0.56"/><rect x="84.7" width="1.1" height="200" fill="#fff" opacity="0.84"/><rect x="107.6" width="0.9" height="200" fill="#fff" opacity="0.89"/><rect x="17.4" width="1.0" height="200" fill="#fff" opacity="0.79"/><rect x="22.4" width="1.1" height="200" fill="#fff" opacity="0.47"/><rect x="98.6" width="1.3" height="200" fill="#fff" opacity="0.71"/><rect x="129.1" width="1.0" height="200" fill="#fff" opacity="0.76"/><rect x="87.7" width="1.2" height="200" fill="#fff" opacity="0.66"/><rect x="123.9" width="1.5" height="200" fill="#fff" opacity="0.66"/><rect x="98.0" width="0.7" height="200" fill="#fff" opacity="0.77"/><rect x="95.5" width="1.5" height="200" fill="#fff" opacity="0.82"/><rect x="42.0" width="1.0" height="200" fill="#fff" opacity="0.75"/><rect x="3.3" width="1.1" height="200" fill="#fff" opacity="0.53"/><rect x="17.3" width="0.7" height="200" fill="#fff" opacity="0.80"/><rect x="19.1" width="0.9" height="200" fill="#fff" opacity="0.63"/><rect x="128.5" width="0.8" height="200" fill="#fff" opacity="0.65"/><rect x="81.0" width="1.4" height="200" fill="#fff" opacity="0.82"/><rect x="127.4" width="0.9" height="200" fill="#fff" opacity="0.64"/><rect x="52.9" width="1.4" height="200" fill="#fff" opacity="0.88"/><rect x="22.3" width="0.8" height="200" fill="#fff" opacity="0.55"/><rect x="34.4" width="1.1" height="200" fill="#fff" opacity="0.72"/><rect x="38.8" width="0.7" height="200" fill="#fff" opacity="0.64"/><rect x="54.5" width="1.2" height="200" fill="#fff" opacity="0.88"/><rect x="101.8" width="1.1" height="200" fill="#fff" opacity="0.73"/><rect x="99.7" width="0.7" height="200" fill="#fff" opacity="0.85"/><rect x="115.0" width="1.4" height="200" fill="#fff" opacity="0.81"/><rect x="57.9" width="1.0" height="200" fill="#fff" opacity="0.50"/><rect x="93.6" width="0.7" height="200" fill="#fff" opacity="0.48"/><rect x="30.8" width="0.8" height="200" fill="#fff" opacity="0.60"/><rect x="7.8" width="0.7" height="200" fill="#fff" opacity="0.52"/><rect x="15.0" width="1.0" height="200" fill="#fff" opacity="0.46"/><rect x="129.0" width="1.2" height="200" fill="#fff" opacity="0.52"/><rect x="37.2" width="1.0" height="200" fill="#fff" opacity="0.61"/><rect x="18.1" width="1.4" height="200" fill="#fff" opacity="0.90"/><rect x="68.7" width="1.1" height="200" fill="#fff" opacity="0.49"/><rect x="15.1" width="1.0" height="200" fill="#fff" opacity="0.57"/><rect x="122.3" width="0.8" height="200" fill="#fff" opacity="0.46"/><rect x="140.3" width="1.1" height="200" fill="#fff" opacity="0.52"/><rect x="80.1" width="0.7" height="200" fill="#fff" opacity="0.69"/><rect x="144.3" width="1.4" height="200" fill="#fff" opacity="0.76"/><rect x="38.5" width="1.0" height="200" fill="#fff" opacity="0.53"/><rect x="113.9" width="1.1" height="200" fill="#fff" opacity="0.80"/><rect x="48.6" width="0.9" height="200" fill="#fff" opacity="0.82"/><rect x="145.3" width="1.4" height="200" fill="#fff" opacity="0.81"/><rect x="120.7" width="1.3" height="200" fill="#fff" opacity="0.55"/><rect x="76.4" width="1.0" height="200" fill="#fff" opacity="0.46"/><rect x="4.1" width="0.9" height="200" fill="#fff" opacity="0.57"/><rect x="102.1" width="1.5" height="200" fill="#fff" opacity="0.65"/><rect x="138.2" width="1.5" height="200" fill="#fff" opacity="0.88"/><rect x="53.8" width="0.9" height="200" fill="#fff" opacity="0.55"/><rect x="29.0" width="0.9" height="200" fill="#fff" opacity="0.73"/><rect x="132.8" width="1.4" height="200" fill="#fff" opacity="0.67"/><rect x="96.3" width="1.3" height="200" fill="#fff" opacity="0.49"/><rect x="97.4" width="1.4" height="200" fill="#fff" opacity="0.80"/><rect x="110.6" width="1.1" height="200" fill="#fff" opacity="0.53"/><rect x="116.4" width="1.0" height="200" fill="#fff" opacity="0.81"/><rect x="143.3" width="1.0" height="200" fill="#fff" opacity="0.63"/><rect x="139.7" width="1.3" height="200" fill="#fff" opacity="0.53"/><rect x="18.7" width="0.8" height="200" fill="#fff" opacity="0.86"/><rect x="119.0" width="0.8" height="200" fill="#fff" opacity="0.82"/><rect x="144.6" width="1.2" height="200" fill="#fff" opacity="0.61"/><rect x="80.9" width="0.8" height="200" fill="#fff" opacity="0.46"/><rect x="143.2" width="1.2" height="200" fill="#fff" opacity="0.69"/><rect x="137.7" width="1.0" height="200" fill="#fff" opacity="0.84"/></pattern><pattern id="sk2" patternUnits="userSpaceOnUse" x="126" y="0" width="163" height="200"><rect x="133.4" width="0.8" height="200" fill="#fff" opacity="0.46"/><rect x="47.3" width="0.9" height="200" fill="#fff" opacity="0.61"/><rect x="41.9" width="1.0" height="200" fill="#fff" opacity="0.41"/><rect x="147.0" width="0.9" height="200" fill="#fff" opacity="0.56"/><rect x="94.2" width="1.3" height="200" fill="#fff" opacity="0.54"/><rect x="148.2" width="1.1" height="200" fill="#fff" opacity="0.59"/><rect x="84.5" width="0.7" height="200" fill="#fff" opacity="0.55"/><rect x="29.6" width="0.7" height="200" fill="#fff" opacity="0.71"/><rect x="27.8" width="1.0" height="200" fill="#fff" opacity="0.68"/><rect x="89.9" width="0.9" height="200" fill="#fff" opacity="0.58"/><rect x="89.7" width="1.2" height="200" fill="#fff" opacity="0.40"/><rect x="90.5" width="0.9" height="200" fill="#fff" opacity="0.47"/><rect x="124.7" width="1.1" height="200" fill="#fff" opacity="0.60"/><rect x="122.7" width="1.3" height="200" fill="#fff" opacity="0.55"/><rect x="98.9" width="1.1" height="200" fill="#fff" opacity="0.58"/><rect x="111.9" width="1.0" height="200" fill="#fff" opacity="0.59"/><rect x="77.2" width="1.4" height="200" fill="#fff" opacity="0.66"/><rect x="141.6" width="1.4" height="200" fill="#fff" opacity="0.47"/><rect x="90.4" width="1.4" height="200" fill="#fff" opacity="0.73"/><rect x="22.1" width="0.8" height="200" fill="#fff" opacity="0.55"/><rect x="11.7" width="0.9" height="200" fill="#fff" opacity="0.38"/><rect x="108.1" width="1.2" height="200" fill="#fff" opacity="0.75"/><rect x="24.9" width="1.2" height="200" fill="#fff" opacity="0.65"/><rect x="23.1" width="1.3" height="200" fill="#fff" opacity="0.79"/><rect x="35.5" width="1.4" height="200" fill="#fff" opacity="0.53"/><rect x="78.7" width="1.4" height="200" fill="#fff" opacity="0.72"/><rect x="26.1" width="1.0" height="200" fill="#fff" opacity="0.58"/><rect x="54.8" width="0.8" height="200" fill="#fff" opacity="0.49"/><rect x="116.6" width="0.7" height="200" fill="#fff" opacity="0.60"/><rect x="71.1" width="0.7" height="200" fill="#fff" opacity="0.50"/><rect x="100.8" width="1.1" height="200" fill="#fff" opacity="0.38"/><rect x="159.1" width="1.3" height="200" fill="#fff" opacity="0.79"/><rect x="16.9" width="0.9" height="200" fill="#fff" opacity="0.37"/><rect x="125.8" width="0.9" height="200" fill="#fff" opacity="0.41"/><rect x="68.2" width="1.3" height="200" fill="#fff" opacity="0.72"/><rect x="41.8" width="0.8" height="200" fill="#fff" opacity="0.76"/><rect x="92.2" width="1.2" height="200" fill="#fff" opacity="0.39"/><rect x="9.3" width="1.2" height="200" fill="#fff" opacity="0.54"/><rect x="11.7" width="1.4" height="200" fill="#fff" opacity="0.64"/><rect x="129.5" width="0.8" height="200" fill="#fff" opacity="0.74"/><rect x="10.8" width="1.3" height="200" fill="#fff" opacity="0.55"/><rect x="54.8" width="1.1" height="200" fill="#fff" opacity="0.77"/><rect x="43.3" width="0.8" height="200" fill="#fff" opacity="0.59"/><rect x="38.5" width="0.8" height="200" fill="#fff" opacity="0.42"/><rect x="8.1" width="0.8" height="200" fill="#fff" opacity="0.49"/><rect x="49.3" width="1.2" height="200" fill="#fff" opacity="0.48"/><rect x="80.8" width="0.8" height="200" fill="#fff" opacity="0.51"/><rect x="2.9" width="0.9" height="200" fill="#fff" opacity="0.36"/><rect x="118.4" width="1.1" height="200" fill="#fff" opacity="0.44"/><rect x="76.7" width="1.4" height="200" fill="#fff" opacity="0.40"/><rect x="132.3" width="1.0" height="200" fill="#fff" opacity="0.57"/><rect x="134.8" width="1.0" height="200" fill="#fff" opacity="0.58"/></pattern><pattern id="sk3" patternUnits="userSpaceOnUse" x="126" y="0" width="181" height="200"><rect x="123.4" width="1.3" height="200" fill="#fff" opacity="0.44"/><rect x="149.4" width="1.1" height="200" fill="#fff" opacity="0.55"/><rect x="72.6" width="0.8" height="200" fill="#fff" opacity="0.32"/><rect x="23.3" width="0.6" height="200" fill="#fff" opacity="0.60"/><rect x="45.9" width="0.7" height="200" fill="#fff" opacity="0.33"/><rect x="151.0" width="1.2" height="200" fill="#fff" opacity="0.57"/><rect x="50.6" width="0.8" height="200" fill="#fff" opacity="0.42"/><rect x="82.5" width="0.7" height="200" fill="#fff" opacity="0.48"/><rect x="47.3" width="1.3" height="200" fill="#fff" opacity="0.69"/><rect x="98.2" width="0.8" height="200" fill="#fff" opacity="0.69"/><rect x="55.6" width="0.8" height="200" fill="#fff" opacity="0.30"/><rect x="68.5" width="0.9" height="200" fill="#fff" opacity="0.50"/><rect x="36.1" width="1.0" height="200" fill="#fff" opacity="0.30"/><rect x="47.4" width="0.7" height="200" fill="#fff" opacity="0.46"/><rect x="7.5" width="0.6" height="200" fill="#fff" opacity="0.42"/><rect x="41.8" width="1.0" height="200" fill="#fff" opacity="0.51"/><rect x="134.7" width="1.1" height="200" fill="#fff" opacity="0.59"/><rect x="157.8" width="0.9" height="200" fill="#fff" opacity="0.43"/><rect x="176.8" width="0.7" height="200" fill="#fff" opacity="0.59"/><rect x="115.5" width="0.6" height="200" fill="#fff" opacity="0.63"/><rect x="160.1" width="1.0" height="200" fill="#fff" opacity="0.59"/><rect x="145.8" width="0.7" height="200" fill="#fff" opacity="0.51"/><rect x="90.5" width="1.2" height="200" fill="#fff" opacity="0.62"/><rect x="148.3" width="1.0" height="200" fill="#fff" opacity="0.66"/><rect x="122.6" width="1.1" height="200" fill="#fff" opacity="0.39"/><rect x="5.6" width="0.7" height="200" fill="#fff" opacity="0.44"/><rect x="18.8" width="1.2" height="200" fill="#fff" opacity="0.52"/><rect x="112.7" width="1.0" height="200" fill="#fff" opacity="0.57"/><rect x="87.8" width="0.6" height="200" fill="#fff" opacity="0.62"/><rect x="134.3" width="1.0" height="200" fill="#fff" opacity="0.51"/><rect x="118.3" width="0.6" height="200" fill="#fff" opacity="0.59"/><rect x="45.3" width="0.7" height="200" fill="#fff" opacity="0.41"/><rect x="130.9" width="0.7" height="200" fill="#fff" opacity="0.60"/><rect x="175.1" width="0.9" height="200" fill="#fff" opacity="0.45"/></pattern><pattern id="rp3" href="#sk1" x="126"/><pattern id="rp4" href="#sk1" x="167"/><pattern id="rp5" href="#sk1" x="223"/><pattern id="rp6" href="#sk2" x="126"/><pattern id="rp7" href="#sk2" x="185"/><pattern id="rp8" href="#sk3" x="126"/><pattern id="rp9" href="#sk3" x="173"/><pattern id="rp10" href="#sk3" x="227"/><pattern id="rp11" href="#sk3" x="265"/><pattern id="rp12" href="#sk3" x="149"/></defs>
<g clip-path="url(#cd)">
<linearGradient id="hr0" gradientUnits="userSpaceOnUse" x1="126.1" y1="0" x2="1366.5" y2="0"><stop offset="0.0000" stop-color="#0000db"/><stop offset="0.9997" stop-color="#0000db"/></linearGradient>
<rect x="126.1" y="631.0" width="1240.4" height="6.4" fill="url(#hr0)"/>
<linearGradient id="hr1" gradientUnits="userSpaceOnUse" x1="126.1" y1="0" x2="1366.5" y2="0"><stop offset="0.0000" stop-color="#0000a3"/><stop offset="0.9997" stop-color="#0000a3"/></linearGradient>
<rect x="126.1" y="637.1" width="1240.4" height="8.3" fill="url(#hr1)"/>
<linearGradient id="hr2" gradientUnits="userSpaceOnUse" x1="126.1" y1="0" x2="1366.5" y2="0"><stop offset="0.0000" stop-color="#17ffe8"/><stop offset="0.0016" stop-color="#00eeff"/><stop offset="0.0113" stop-color="#0018ff"/><stop offset="0.0129" stop-color="#0002ff"/><stop offset="0.0161" stop-color="#0000d6"/><stop offset="0.1790" stop-color="#0000d6"/><stop offset="0.1806" stop-color="#0000d7"/><stop offset="0.1838" stop-color="#0000fe"/><stop offset="0.1903" stop-color="#0050ff"/><stop offset="0.1935" stop-color="#00d8ff"/><stop offset="0.1951" stop-color="#19ffe6"/><stop offset="0.1999" stop-color="#00ffff"/><stop offset="0.2048" stop-color="#00e3ff"/><stop offset="0.2128" stop-color="#0019ff"/><stop offset="0.2193" stop-color="#0000fb"/><stop offset="0.2257" stop-color="#002eff"/><stop offset="0.2499" stop-color="#002dff"/><stop offset="0.2548" stop-color="#0000f8"/><stop offset="0.2580" stop-color="#0000d6"/><stop offset="0.3305" stop-color="#0000d6"/><stop offset="0.3322" stop-color="#0000d7"/><stop offset="0.3354" stop-color="#0000fa"/><stop offset="0.3402" stop-color="#002eff"/><stop offset="0.3725" stop-color="#002eff"/><stop offset="0.3821" stop-color="#001bff"/><stop offset="0.3918" stop-color="#00e8ff"/><stop offset="0.3934" stop-color="#1cffe3"/><stop offset="0.3950" stop-color="#4dffb2"/><stop offset="0.3983" stop-color="#4dffb2"/><stop offset="0.3999" stop-color="#49ffb6"/><stop offset="0.4015" stop-color="#0afff5"/><stop offset="0.4063" stop-color="#004cff"/><stop offset="0.4128" stop-color="#0005ff"/><stop offset="0.4789" stop-color="#009eff"/><stop offset="0.4950" stop-color="#00b2ff"/><stop offset="0.5353" stop-color="#00b2ff"/><stop offset="0.5627" stop-color="#0005ff"/><stop offset="0.5676" stop-color="#0000e6"/><stop offset="0.5837" stop-color="#0000e6"/><stop offset="0.5853" stop-color="#0000f7"/><stop offset="0.5885" stop-color="#001fff"/><stop offset="0.5917" stop-color="#00ebff"/><stop offset="0.5934" stop-color="#4dffb2"/><stop offset="0.6014" stop-color="#4dffb2"/><stop offset="0.6030" stop-color="#24ffdb"/><stop offset="0.6046" stop-color="#00dbff"/><stop offset="0.6079" stop-color="#004bff"/><stop offset="0.6111" stop-color="#0007ff"/><stop offset="0.6127" stop-color="#0000e6"/><stop offset="0.6192" stop-color="#0000e6"/><stop offset="0.6240" stop-color="#0001ff"/><stop offset="0.6450" stop-color="#0081ff"/><stop offset="0.6724" stop-color="#00bdff"/><stop offset="0.6885" stop-color="#00d1ff"/><stop offset="0.7369" stop-color="#00d1ff"/><stop offset="0.7449" stop-color="#00b1ff"/><stop offset="0.7530" stop-color="#0000fa"/><stop offset="0.7594" stop-color="#0000e6"/><stop offset="0.7804" stop-color="#0000e6"/><stop offset="0.7836" stop-color="#0000f9"/><stop offset="0.7868" stop-color="#0014ff"/><stop offset="0.7885" stop-color="#003fff"/><stop offset="0.7917" stop-color="#00c7ff"/><stop offset="0.7933" stop-color="#0cfff3"/><stop offset="0.7949" stop-color="#4dffb2"/><stop offset="0.7997" stop-color="#4dffb2"/><stop offset="0.8014" stop-color="#24ffdb"/><stop offset="0.8030" stop-color="#00dbff"/><stop offset="0.8062" stop-color="#004bff"/><stop offset="0.8094" stop-color="#0007ff"/><stop offset="0.8110" stop-color="#0000e6"/><stop offset="0.8175" stop-color="#0000e7"/><stop offset="0.8191" stop-color="#0000fb"/><stop offset="0.8336" stop-color="#00b3ff"/><stop offset="0.8497" stop-color="#00faff"/><stop offset="0.8755" stop-color="#00ffff"/><stop offset="0.8981" stop-color="#00bdff"/><stop offset="0.9142" stop-color="#00bdff"/><stop offset="0.9255" stop-color="#00fdff"/><stop offset="0.9303" stop-color="#1affe5"/><stop offset="0.9449" stop-color="#17ffe8"/><stop offset="0.9465" stop-color="#00ecff"/><stop offset="0.9545" stop-color="#0018ff"/><stop offset="0.9561" stop-color="#0001ff"/><stop offset="0.9594" stop-color="#0000d1"/><stop offset="0.9819" stop-color="#0000d1"/><stop offset="0.9852" stop-color="#0000ea"/><stop offset="0.9868" stop-color="#0001ff"/><stop offset="0.9900" stop-color="#00e1ff"/><stop offset="0.9916" stop-color="#4dffb2"/><stop offset="0.9997" stop-color="#4dffb2"/></linearGradient>
<rect x="126.1" y="645.1" width="1240.4" height="24.1" fill="url(#hr2)"/>
<linearGradient id="hr3" gradientUnits="userSpaceOnUse" x1="126.1" y1="0" x2="1366.5" y2="0"><stop offset="0.0000" stop-color="#26ffd9"/><stop offset="0.0048" stop-color="#26ffd9"/><stop offset="0.0081" stop-color="#03fffc"/><stop offset="0.0097" stop-color="#00ecff"/><stop offset="0.0129" stop-color="#0078ff"/><stop offset="0.0177" stop-color="#0018ff"/><stop offset="0.0226" stop-color="#000bff"/><stop offset="0.0451" stop-color="#0006ff"/><stop offset="0.1000" stop-color="#0010ff"/><stop offset="0.1741" stop-color="#000bff"/><stop offset="0.1790" stop-color="#0026ff"/><stop offset="0.1838" stop-color="#0065ff"/><stop offset="0.1854" stop-color="#0085ff"/><stop offset="0.1886" stop-color="#00ffff"/><stop offset="0.1919" stop-color="#52ffad"/><stop offset="0.1935" stop-color="#57ffa8"/><stop offset="0.2064" stop-color="#50ffaf"/><stop offset="0.2080" stop-color="#36ffc9"/><stop offset="0.2096" stop-color="#00faff"/><stop offset="0.2128" stop-color="#0055ff"/><stop offset="0.2144" stop-color="#001fff"/><stop offset="0.2209" stop-color="#0005ff"/><stop offset="0.2370" stop-color="#0000f5"/><stop offset="0.2596" stop-color="#0000de"/><stop offset="0.3370" stop-color="#0000de"/><stop offset="0.3483" stop-color="#0000ff"/><stop offset="0.3741" stop-color="#000aff"/><stop offset="0.3773" stop-color="#0010ff"/><stop offset="0.3805" stop-color="#0035ff"/><stop offset="0.3837" stop-color="#007bff"/><stop offset="0.3870" stop-color="#00efff"/><stop offset="0.3886" stop-color="#2affd5"/><stop offset="0.3902" stop-color="#67ff98"/><stop offset="0.3918" stop-color="#80ff7f"/><stop offset="0.3999" stop-color="#6bff94"/><stop offset="0.4015" stop-color="#56ffa9"/><stop offset="0.4031" stop-color="#23ffdc"/><stop offset="0.4047" stop-color="#00efff"/><stop offset="0.4095" stop-color="#0040ff"/><stop offset="0.4112" stop-color="#001dff"/><stop offset="0.4160" stop-color="#000cff"/><stop offset="0.4273" stop-color="#0008ff"/><stop offset="0.4353" stop-color="#000bff"/><stop offset="0.4370" stop-color="#0015ff"/><stop offset="0.4418" stop-color="#005fff"/><stop offset="0.4450" stop-color="#007bff"/><stop offset="0.4708" stop-color="#00a8ff"/><stop offset="0.4757" stop-color="#00c7ff"/><stop offset="0.4805" stop-color="#00d5ff"/><stop offset="0.5256" stop-color="#00e2ff"/><stop offset="0.5385" stop-color="#00e0ff"/><stop offset="0.5466" stop-color="#00ceff"/><stop offset="0.5482" stop-color="#00bfff"/><stop offset="0.5498" stop-color="#009eff"/><stop offset="0.5530" stop-color="#0019ff"/><stop offset="0.5547" stop-color="#0012ff"/><stop offset="0.5756" stop-color="#000eff"/><stop offset="0.5788" stop-color="#0019ff"/><stop offset="0.5821" stop-color="#004dff"/><stop offset="0.5837" stop-color="#006fff"/><stop offset="0.5869" stop-color="#00ebff"/><stop offset="0.5917" stop-color="#02fffd"/><stop offset="0.6014" stop-color="#29ffd6"/><stop offset="0.6030" stop-color="#1dffe2"/><stop offset="0.6046" stop-color="#00f1ff"/><stop offset="0.6063" stop-color="#00c7ff"/><stop offset="0.6095" stop-color="#005cff"/><stop offset="0.6111" stop-color="#0039ff"/><stop offset="0.6127" stop-color="#0020ff"/><stop offset="0.6159" stop-color="#0012ff"/><stop offset="0.6304" stop-color="#000eff"/><stop offset="0.6401" stop-color="#001fff"/><stop offset="0.6417" stop-color="#0041ff"/><stop offset="0.6433" stop-color="#008fff"/><stop offset="0.6466" stop-color="#00cfff"/><stop offset="0.6514" stop-color="#00e3ff"/><stop offset="0.6675" stop-color="#00f2ff"/><stop offset="0.7078" stop-color="#00f8ff"/><stop offset="0.7449" stop-color="#00e7ff"/><stop offset="0.7465" stop-color="#00daff"/><stop offset="0.7481" stop-color="#00b5ff"/><stop offset="0.7514" stop-color="#001eff"/><stop offset="0.7594" stop-color="#000aff"/><stop offset="0.7772" stop-color="#0017ff"/><stop offset="0.7804" stop-color="#0035ff"/><stop offset="0.7820" stop-color="#007eff"/><stop offset="0.7836" stop-color="#00b8ff"/><stop offset="0.7852" stop-color="#00eaff"/><stop offset="0.7868" stop-color="#18ffe7"/><stop offset="0.7997" stop-color="#2cffd3"/><stop offset="0.8014" stop-color="#15ffea"/><stop offset="0.8030" stop-color="#00e1ff"/><stop offset="0.8062" stop-color="#0072ff"/><stop offset="0.8078" stop-color="#004aff"/><stop offset="0.8110" stop-color="#0016ff"/><stop offset="0.8272" stop-color="#0008ff"/><stop offset="0.8304" stop-color="#000bff"/><stop offset="0.8320" stop-color="#0024ff"/><stop offset="0.8336" stop-color="#0053ff"/><stop offset="0.8352" stop-color="#00a6ff"/><stop offset="0.8368" stop-color="#00daff"/><stop offset="0.8384" stop-color="#00fbff"/><stop offset="0.8401" stop-color="#0cfff3"/><stop offset="0.8465" stop-color="#2affd5"/><stop offset="0.8594" stop-color="#2fffd0"/><stop offset="0.8723" stop-color="#22ffdd"/><stop offset="0.8787" stop-color="#01fffe"/><stop offset="0.9013" stop-color="#00ffff"/><stop offset="0.9062" stop-color="#05fffa"/><stop offset="0.9126" stop-color="#27ffd8"/><stop offset="0.9271" stop-color="#35ffca"/><stop offset="0.9416" stop-color="#2effd1"/><stop offset="0.9465" stop-color="#22ffdd"/><stop offset="0.9513" stop-color="#03fffc"/><stop offset="0.9529" stop-color="#00f1ff"/><stop offset="0.9545" stop-color="#00b2ff"/><stop offset="0.9561" stop-color="#0033ff"/><stop offset="0.9578" stop-color="#0015ff"/><stop offset="0.9610" stop-color="#000bff"/><stop offset="0.9723" stop-color="#0009ff"/><stop offset="0.9787" stop-color="#0016ff"/><stop offset="0.9803" stop-color="#0035ff"/><stop offset="0.9819" stop-color="#00a1ff"/><stop offset="0.9836" stop-color="#00f7ff"/><stop offset="0.9868" stop-color="#5cffa3"/><stop offset="0.9884" stop-color="#7fff80"/><stop offset="0.9916" stop-color="#aaff55"/><stop offset="0.9932" stop-color="#b4ff4b"/><stop offset="0.9997" stop-color="#b4ff4b"/></linearGradient>
<rect x="126.1" y="668.9" width="1240.4" height="7.6" fill="url(#hr3)"/>
<linearGradient id="hr4" gradientUnits="userSpaceOnUse" x1="126.1" y1="0" x2="1366.5" y2="0"><stop offset="0.0000" stop-color="#73ff8c"/><stop offset="0.0048" stop-color="#73ff8c"/><stop offset="0.0097" stop-color="#37ffc8"/><stop offset="0.0113" stop-color="#14ffeb"/><stop offset="0.0129" stop-color="#00dcff"/><stop offset="0.0145" stop-color="#008fff"/><stop offset="0.0177" stop-color="#003eff"/><stop offset="0.0210" stop-color="#0026ff"/><stop offset="0.0274" stop-color="#0017ff"/><stop offset="0.0580" stop-color="#0013ff"/><stop offset="0.0967" stop-color="#002cff"/><stop offset="0.1435" stop-color="#0013ff"/><stop offset="0.1725" stop-color="#001cff"/><stop offset="0.1757" stop-color="#0026ff"/><stop offset="0.1806" stop-color="#0058ff"/><stop offset="0.1822" stop-color="#0074ff"/><stop offset="0.1838" stop-color="#009fff"/><stop offset="0.1854" stop-color="#00dfff"/><stop offset="0.1870" stop-color="#19ffe6"/><stop offset="0.1919" stop-color="#a0ff5f"/><stop offset="0.1935" stop-color="#a9ff56"/><stop offset="0.2064" stop-color="#a1ff5e"/><stop offset="0.2080" stop-color="#90ff6f"/><stop offset="0.2096" stop-color="#58ffa7"/><stop offset="0.2112" stop-color="#07fff8"/><stop offset="0.2144" stop-color="#005aff"/><stop offset="0.2161" stop-color="#0039ff"/><stop offset="0.2193" stop-color="#001eff"/><stop offset="0.2370" stop-color="#0007ff"/><stop offset="0.2693" stop-color="#0000fa"/><stop offset="0.3386" stop-color="#0000fd"/><stop offset="0.3450" stop-color="#001cff"/><stop offset="0.3612" stop-color="#0013ff"/><stop offset="0.3725" stop-color="#0019ff"/><stop offset="0.3757" stop-color="#0023ff"/><stop offset="0.3789" stop-color="#0040ff"/><stop offset="0.3805" stop-color="#005fff"/><stop offset="0.3821" stop-color="#008dff"/><stop offset="0.3837" stop-color="#00d2ff"/><stop offset="0.3854" stop-color="#10ffef"/><stop offset="0.3870" stop-color="#58ffa7"/><stop offset="0.3886" stop-color="#8eff71"/><stop offset="0.3902" stop-color="#b4ff4b"/><stop offset="0.3918" stop-color="#baff45"/><stop offset="0.3999" stop-color="#acff53"/><stop offset="0.4015" stop-color="#a0ff5f"/><stop offset="0.4031" stop-color="#87ff78"/><stop offset="0.4047" stop-color="#5bffa4"/><stop offset="0.4063" stop-color="#15ffea"/><stop offset="0.4079" stop-color="#00d5ff"/><stop offset="0.4112" stop-color="#0052ff"/><stop offset="0.4128" stop-color="#0039ff"/><stop offset="0.4176" stop-color="#001dff"/><stop offset="0.4224" stop-color="#0016ff"/><stop offset="0.4353" stop-color="#001fff"/><stop offset="0.4386" stop-color="#0044ff"/><stop offset="0.4402" stop-color="#006cff"/><stop offset="0.4434" stop-color="#009fff"/><stop offset="0.4466" stop-color="#00b8ff"/><stop offset="0.4853" stop-color="#00f0ff"/><stop offset="0.5369" stop-color="#00f7ff"/><stop offset="0.5466" stop-color="#00edff"/><stop offset="0.5482" stop-color="#00e7ff"/><stop offset="0.5498" stop-color="#00ccff"/><stop offset="0.5530" stop-color="#0046ff"/><stop offset="0.5547" stop-color="#0033ff"/><stop offset="0.5595" stop-color="#0020ff"/><stop offset="0.5692" stop-color="#001cff"/><stop offset="0.5756" stop-color="#0027ff"/><stop offset="0.5788" stop-color="#003eff"/><stop offset="0.5821" stop-color="#007bff"/><stop offset="0.5837" stop-color="#00caff"/><stop offset="0.5853" stop-color="#18ffe7"/><stop offset="0.5869" stop-color="#49ffb6"/><stop offset="0.6014" stop-color="#81ff7e"/><stop offset="0.6030" stop-color="#77ff88"/><stop offset="0.6063" stop-color="#22ffdd"/><stop offset="0.6079" stop-color="#00e7ff"/><stop offset="0.6111" stop-color="#0074ff"/><stop offset="0.6127" stop-color="#0051ff"/><stop offset="0.6143" stop-color="#003dff"/><stop offset="0.6192" stop-color="#0024ff"/><stop offset="0.6288" stop-color="#001fff"/><stop offset="0.6353" stop-color="#0025ff"/><stop offset="0.6401" stop-color="#003fff"/><stop offset="0.6417" stop-color="#0077ff"/><stop offset="0.6433" stop-color="#00beff"/><stop offset="0.6466" stop-color="#00f6ff"/><stop offset="0.6482" stop-color="#00fcff"/><stop offset="0.6562" stop-color="#12ffed"/><stop offset="0.6949" stop-color="#24ffdb"/><stop offset="0.7352" stop-color="#18ffe7"/><stop offset="0.7465" stop-color="#00feff"/><stop offset="0.7481" stop-color="#00e1ff"/><stop offset="0.7498" stop-color="#00aeff"/><stop offset="0.7514" stop-color="#0054ff"/><stop offset="0.7530" stop-color="#0037ff"/><stop offset="0.7578" stop-color="#001fff"/><stop offset="0.7643" stop-color="#001cff"/><stop offset="0.7723" stop-color="#0025ff"/><stop offset="0.7772" stop-color="#0042ff"/><stop offset="0.7788" stop-color="#005fff"/><stop offset="0.7804" stop-color="#0094ff"/><stop offset="0.7820" stop-color="#00d8ff"/><stop offset="0.7836" stop-color="#10ffef"/><stop offset="0.7868" stop-color="#72ff8d"/><stop offset="0.7997" stop-color="#83ff7c"/><stop offset="0.8014" stop-color="#6fff90"/><stop offset="0.8046" stop-color="#06fff9"/><stop offset="0.8094" stop-color="#005aff"/><stop offset="0.8110" stop-color="#003dff"/><stop offset="0.8159" stop-color="#001fff"/><stop offset="0.8255" stop-color="#0016ff"/><stop offset="0.8304" stop-color="#001fff"/><stop offset="0.8320" stop-color="#003dff"/><stop offset="0.8336" stop-color="#0071ff"/><stop offset="0.8352" stop-color="#00d6ff"/><stop offset="0.8368" stop-color="#01fffe"/><stop offset="0.8384" stop-color="#1fffe0"/><stop offset="0.8433" stop-color="#3bffc4"/><stop offset="0.8546" stop-color="#47ffb8"/><stop offset="0.8723" stop-color="#3cffc3"/><stop offset="0.8804" stop-color="#1fffe0"/><stop offset="0.8933" stop-color="#1affe5"/><stop offset="0.9062" stop-color="#28ffd7"/><stop offset="0.9142" stop-color="#43ffbc"/><stop offset="0.9384" stop-color="#4affb5"/><stop offset="0.9465" stop-color="#3fffc0"/><stop offset="0.9529" stop-color="#15ffea"/><stop offset="0.9545" stop-color="#00e2ff"/><stop offset="0.9561" stop-color="#0085ff"/><stop offset="0.9578" stop-color="#003bff"/><stop offset="0.9610" stop-color="#0020ff"/><stop offset="0.9707" stop-color="#0018ff"/><stop offset="0.9755" stop-color="#001fff"/><stop offset="0.9771" stop-color="#0028ff"/><stop offset="0.9787" stop-color="#0040ff"/><stop offset="0.9803" stop-color="#0090ff"/><stop offset="0.9819" stop-color="#00fcff"/><stop offset="0.9836" stop-color="#43ffbc"/><stop offset="0.9852" stop-color="#77ff88"/><stop offset="0.9916" stop-color="#dfff20"/><stop offset="0.9932" stop-color="#eaff15"/><stop offset="0.9997" stop-color="#eaff15"/></linearGradient>
<rect x="126.1" y="676.2" width="1240.4" height="7.1" fill="url(#hr4)"/>
<linearGradient id="hr5" gradientUnits="userSpaceOnUse" x1="126.1" y1="0" x2="1366.5" y2="0"><stop offset="0.0000" stop-color="#b6ff49"/><stop offset="0.0048" stop-color="#b6ff49"/><stop offset="0.0064" stop-color="#a9ff56"/><stop offset="0.0097" stop-color="#80ff7f"/><stop offset="0.0129" stop-color="#32ffcd"/><stop offset="0.0145" stop-color="#00f4ff"/><stop offset="0.0161" stop-color="#00a1ff"/><stop offset="0.0177" stop-color="#0068ff"/><stop offset="0.0210" stop-color="#0040ff"/><stop offset="0.0274" stop-color="#0027ff"/><stop offset="0.0403" stop-color="#001eff"/><stop offset="0.0693" stop-color="#0027ff"/><stop offset="0.1000" stop-color="#004bff"/><stop offset="0.1096" stop-color="#0049ff"/><stop offset="0.1419" stop-color="#0021ff"/><stop offset="0.1693" stop-color="#0028ff"/><stop offset="0.1757" stop-color="#003eff"/><stop offset="0.1790" stop-color="#0062ff"/><stop offset="0.1806" stop-color="#007cff"/><stop offset="0.1838" stop-color="#00f9ff"/><stop offset="0.1886" stop-color="#9bff64"/><stop offset="0.1919" stop-color="#e9ff16"/><stop offset="0.1935" stop-color="#fbff04"/><stop offset="0.2064" stop-color="#e2ff1d"/><stop offset="0.2080" stop-color="#cdff32"/><stop offset="0.2096" stop-color="#a0ff5f"/><stop offset="0.2112" stop-color="#61ff9e"/><stop offset="0.2128" stop-color="#0cfff3"/><stop offset="0.2144" stop-color="#00a3ff"/><stop offset="0.2161" stop-color="#0063ff"/><stop offset="0.2177" stop-color="#0047ff"/><stop offset="0.2209" stop-color="#002cff"/><stop offset="0.2290" stop-color="#0019ff"/><stop offset="0.2435" stop-color="#0011ff"/><stop offset="0.2515" stop-color="#0015ff"/><stop offset="0.2548" stop-color="#0043ff"/><stop offset="0.2596" stop-color="#0051ff"/><stop offset="0.2741" stop-color="#005aff"/><stop offset="0.3434" stop-color="#004aff"/><stop offset="0.3547" stop-color="#0026ff"/><stop offset="0.3692" stop-color="#0024ff"/><stop offset="0.3741" stop-color="#0032ff"/><stop offset="0.3773" stop-color="#004bff"/><stop offset="0.3789" stop-color="#0067ff"/><stop offset="0.3805" stop-color="#009cff"/><stop offset="0.3821" stop-color="#00edff"/><stop offset="0.3837" stop-color="#35ffca"/><stop offset="0.3870" stop-color="#b5ff4a"/><stop offset="0.3902" stop-color="#fcff03"/><stop offset="0.3999" stop-color="#e6ff19"/><stop offset="0.4015" stop-color="#daff25"/><stop offset="0.4047" stop-color="#a7ff58"/><stop offset="0.4063" stop-color="#80ff7f"/><stop offset="0.4079" stop-color="#3affc5"/><stop offset="0.4095" stop-color="#00efff"/><stop offset="0.4112" stop-color="#0093ff"/><stop offset="0.4128" stop-color="#0061ff"/><stop offset="0.4144" stop-color="#0049ff"/><stop offset="0.4192" stop-color="#002bff"/><stop offset="0.4289" stop-color="#0024ff"/><stop offset="0.4337" stop-color="#002dff"/><stop offset="0.4370" stop-color="#0046ff"/><stop offset="0.4386" stop-color="#0063ff"/><stop offset="0.4402" stop-color="#0099ff"/><stop offset="0.4418" stop-color="#00bfff"/><stop offset="0.4466" stop-color="#00f3ff"/><stop offset="0.4547" stop-color="#00ffff"/><stop offset="0.5224" stop-color="#24ffdb"/><stop offset="0.5482" stop-color="#14ffeb"/><stop offset="0.5498" stop-color="#00fdff"/><stop offset="0.5514" stop-color="#00ceff"/><stop offset="0.5530" stop-color="#0077ff"/><stop offset="0.5547" stop-color="#0057ff"/><stop offset="0.5579" stop-color="#003cff"/><stop offset="0.5659" stop-color="#002fff"/><stop offset="0.5740" stop-color="#0039ff"/><stop offset="0.5772" stop-color="#0050ff"/><stop offset="0.5788" stop-color="#0065ff"/><stop offset="0.5805" stop-color="#008eff"/><stop offset="0.5821" stop-color="#00eaff"/><stop offset="0.5837" stop-color="#34ffcb"/><stop offset="0.5853" stop-color="#78ff87"/><stop offset="0.5869" stop-color="#99ff66"/><stop offset="0.6014" stop-color="#bcff43"/><stop offset="0.6030" stop-color="#b4ff4b"/><stop offset="0.6063" stop-color="#81ff7e"/><stop offset="0.6095" stop-color="#0dfff2"/><stop offset="0.6111" stop-color="#00cdff"/><stop offset="0.6127" stop-color="#008aff"/><stop offset="0.6143" stop-color="#0066ff"/><stop offset="0.6159" stop-color="#0052ff"/><stop offset="0.6192" stop-color="#003cff"/><stop offset="0.6256" stop-color="#0031ff"/><stop offset="0.6337" stop-color="#0036ff"/><stop offset="0.6385" stop-color="#0050ff"/><stop offset="0.6401" stop-color="#0062ff"/><stop offset="0.6417" stop-color="#00b2ff"/><stop offset="0.6433" stop-color="#00f1ff"/><stop offset="0.6450" stop-color="#0efff1"/><stop offset="0.6466" stop-color="#2dffd2"/><stop offset="0.6546" stop-color="#4affb5"/><stop offset="0.6949" stop-color="#5effa1"/><stop offset="0.7369" stop-color="#4fffb0"/><stop offset="0.7465" stop-color="#39ffc6"/><stop offset="0.7481" stop-color="#17ffe8"/><stop offset="0.7498" stop-color="#00efff"/><stop offset="0.7514" stop-color="#0097ff"/><stop offset="0.7530" stop-color="#005dff"/><stop offset="0.7546" stop-color="#0047ff"/><stop offset="0.7578" stop-color="#0034ff"/><stop offset="0.7627" stop-color="#002fff"/><stop offset="0.7691" stop-color="#0034ff"/><stop offset="0.7756" stop-color="#0055ff"/><stop offset="0.7772" stop-color="#0070ff"/><stop offset="0.7804" stop-color="#00f4ff"/><stop offset="0.7820" stop-color="#31ffce"/><stop offset="0.7852" stop-color="#90ff6f"/><stop offset="0.7868" stop-color="#acff53"/><stop offset="0.7885" stop-color="#aeff51"/><stop offset="0.7997" stop-color="#b7ff48"/><stop offset="0.8014" stop-color="#aaff55"/><stop offset="0.8030" stop-color="#8eff71"/><stop offset="0.8046" stop-color="#64ff9b"/><stop offset="0.8062" stop-color="#27ffd8"/><stop offset="0.8078" stop-color="#00eeff"/><stop offset="0.8094" stop-color="#009dff"/><stop offset="0.8110" stop-color="#0067ff"/><stop offset="0.8126" stop-color="#004fff"/><stop offset="0.8159" stop-color="#0035ff"/><stop offset="0.8239" stop-color="#0025ff"/><stop offset="0.8304" stop-color="#0035ff"/><stop offset="0.8320" stop-color="#0058ff"/><stop offset="0.8336" stop-color="#00a3ff"/><stop offset="0.8352" stop-color="#0afff5"/><stop offset="0.8384" stop-color="#44ffbb"/><stop offset="0.8401" stop-color="#4fffb0"/><stop offset="0.8449" stop-color="#5effa1"/><stop offset="0.8513" stop-color="#61ff9e"/><stop offset="0.8933" stop-color="#41ffbe"/><stop offset="0.9126" stop-color="#5dffa2"/><stop offset="0.9416" stop-color="#62ff9d"/><stop offset="0.9513" stop-color="#4affb5"/><stop offset="0.9529" stop-color="#3effc1"/><stop offset="0.9545" stop-color="#14ffeb"/><stop offset="0.9561" stop-color="#00c4ff"/><stop offset="0.9578" stop-color="#0065ff"/><stop offset="0.9594" stop-color="#0044ff"/><stop offset="0.9626" stop-color="#0030ff"/><stop offset="0.9690" stop-color="#0029ff"/><stop offset="0.9739" stop-color="#002eff"/><stop offset="0.9771" stop-color="#0044ff"/><stop offset="0.9787" stop-color="#006cff"/><stop offset="0.9803" stop-color="#00daff"/><stop offset="0.9819" stop-color="#41ffbe"/><stop offset="0.9836" stop-color="#8aff75"/><stop offset="0.9900" stop-color="#f7ff08"/><stop offset="0.9932" stop-color="#fff000"/><stop offset="0.9997" stop-color="#fff000"/></linearGradient>
<rect x="126.1" y="683.0" width="1240.4" height="8.6" fill="url(#hr5)"/>
<linearGradient id="hr6" gradientUnits="userSpaceOnUse" x1="126.1" y1="0" x2="1366.5" y2="0"><stop offset="0.0000" stop-color="#ffff00"/><stop offset="0.0048" stop-color="#ffff00"/><stop offset="0.0097" stop-color="#c9ff36"/><stop offset="0.0129" stop-color="#83ff7c"/><stop offset="0.0161" stop-color="#0bfff4"/><stop offset="0.0177" stop-color="#00b5ff"/><stop offset="0.0193" stop-color="#0074ff"/><stop offset="0.0226" stop-color="#004fff"/><stop offset="0.0322" stop-color="#0031ff"/><stop offset="0.0629" stop-color="#0033ff"/><stop offset="0.0758" stop-color="#0042ff"/><stop offset="0.0935" stop-color="#0068ff"/><stop offset="0.1032" stop-color="#006eff"/><stop offset="0.1096" stop-color="#006bff"/><stop offset="0.1371" stop-color="#0034ff"/><stop offset="0.1580" stop-color="#002eff"/><stop offset="0.1677" stop-color="#0037ff"/><stop offset="0.1741" stop-color="#004eff"/><stop offset="0.1774" stop-color="#006dff"/><stop offset="0.1790" stop-color="#008fff"/><stop offset="0.1806" stop-color="#00d5ff"/><stop offset="0.1822" stop-color="#17ffe8"/><stop offset="0.1854" stop-color="#91ff6e"/><stop offset="0.1886" stop-color="#ebff14"/><stop offset="0.1903" stop-color="#fff800"/><stop offset="0.1935" stop-color="#ffe600"/><stop offset="0.2064" stop-color="#ffed00"/><stop offset="0.2080" stop-color="#fff700"/><stop offset="0.2096" stop-color="#deff21"/><stop offset="0.2112" stop-color="#a8ff57"/><stop offset="0.2128" stop-color="#69ff96"/><stop offset="0.2144" stop-color="#06fff9"/><stop offset="0.2161" stop-color="#00a4ff"/><stop offset="0.2177" stop-color="#0069ff"/><stop offset="0.2225" stop-color="#0038ff"/><stop offset="0.2322" stop-color="#0024ff"/><stop offset="0.2467" stop-color="#0020ff"/><stop offset="0.2515" stop-color="#002bff"/><stop offset="0.2548" stop-color="#008bff"/><stop offset="0.2612" stop-color="#00abff"/><stop offset="0.2741" stop-color="#00b4ff"/><stop offset="0.3273" stop-color="#00acff"/><stop offset="0.3402" stop-color="#0095ff"/><stop offset="0.3434" stop-color="#0085ff"/><stop offset="0.3483" stop-color="#0053ff"/><stop offset="0.3515" stop-color="#0041ff"/><stop offset="0.3644" stop-color="#0030ff"/><stop offset="0.3692" stop-color="#0035ff"/><stop offset="0.3741" stop-color="#0049ff"/><stop offset="0.3773" stop-color="#006eff"/><stop offset="0.3789" stop-color="#00b0ff"/><stop offset="0.3805" stop-color="#08fff7"/><stop offset="0.3837" stop-color="#9eff61"/><stop offset="0.3854" stop-color="#dbff24"/><stop offset="0.3870" stop-color="#fff900"/><stop offset="0.3902" stop-color="#ffe100"/><stop offset="0.3950" stop-color="#ffe700"/><stop offset="0.3999" stop-color="#ffed00"/><stop offset="0.4031" stop-color="#fffe00"/><stop offset="0.4047" stop-color="#e9ff16"/><stop offset="0.4079" stop-color="#9bff64"/><stop offset="0.4095" stop-color="#5dffa2"/><stop offset="0.4112" stop-color="#01fffe"/><stop offset="0.4128" stop-color="#00a2ff"/><stop offset="0.4144" stop-color="#006aff"/><stop offset="0.4176" stop-color="#0049ff"/><stop offset="0.4224" stop-color="#0037ff"/><stop offset="0.4289" stop-color="#0035ff"/><stop offset="0.4337" stop-color="#0042ff"/><stop offset="0.4370" stop-color="#0062ff"/><stop offset="0.4386" stop-color="#008cff"/><stop offset="0.4402" stop-color="#00cfff"/><stop offset="0.4418" stop-color="#00fcff"/><stop offset="0.4434" stop-color="#10ffef"/><stop offset="0.4466" stop-color="#30ffcf"/><stop offset="0.4563" stop-color="#3cffc3"/><stop offset="0.5208" stop-color="#66ff99"/><stop offset="0.5369" stop-color="#5dffa2"/><stop offset="0.5482" stop-color="#48ffb7"/><stop offset="0.5514" stop-color="#12ffed"/><stop offset="0.5530" stop-color="#00ddff"/><stop offset="0.5547" stop-color="#007fff"/><stop offset="0.5563" stop-color="#0064ff"/><stop offset="0.5611" stop-color="#004aff"/><stop offset="0.5692" stop-color="#0045ff"/><stop offset="0.5756" stop-color="#0061ff"/><stop offset="0.5772" stop-color="#0075ff"/><stop offset="0.5788" stop-color="#00b5ff"/><stop offset="0.5805" stop-color="#0efff1"/><stop offset="0.5821" stop-color="#5affa5"/><stop offset="0.5837" stop-color="#92ff6d"/><stop offset="0.5869" stop-color="#dcff23"/><stop offset="0.5885" stop-color="#f0ff0f"/><stop offset="0.6014" stop-color="#feff01"/><stop offset="0.6030" stop-color="#f5ff0a"/><stop offset="0.6079" stop-color="#9fff60"/><stop offset="0.6095" stop-color="#7aff85"/><stop offset="0.6127" stop-color="#00f6ff"/><stop offset="0.6159" stop-color="#0077ff"/><stop offset="0.6175" stop-color="#0063ff"/><stop offset="0.6224" stop-color="#0049ff"/><stop offset="0.6272" stop-color="#0046ff"/><stop offset="0.6353" stop-color="#0052ff"/><stop offset="0.6385" stop-color="#0070ff"/><stop offset="0.6401" stop-color="#0093ff"/><stop offset="0.6417" stop-color="#00f4ff"/><stop offset="0.6433" stop-color="#31ffce"/><stop offset="0.6466" stop-color="#6eff91"/><stop offset="0.6546" stop-color="#87ff78"/><stop offset="0.6949" stop-color="#95ff6a"/><stop offset="0.7352" stop-color="#8dff72"/><stop offset="0.7465" stop-color="#7bff84"/><stop offset="0.7498" stop-color="#3dffc2"/><stop offset="0.7514" stop-color="#02fffd"/><stop offset="0.7530" stop-color="#0099ff"/><stop offset="0.7546" stop-color="#0069ff"/><stop offset="0.7578" stop-color="#004dff"/><stop offset="0.7627" stop-color="#0045ff"/><stop offset="0.7691" stop-color="#004cff"/><stop offset="0.7739" stop-color="#0067ff"/><stop offset="0.7756" stop-color="#007cff"/><stop offset="0.7772" stop-color="#00cbff"/><stop offset="0.7788" stop-color="#1affe5"/><stop offset="0.7820" stop-color="#89ff76"/><stop offset="0.7868" stop-color="#e8ff17"/><stop offset="0.7997" stop-color="#f3ff0c"/><stop offset="0.8014" stop-color="#e4ff1b"/><stop offset="0.8062" stop-color="#86ff79"/><stop offset="0.8078" stop-color="#50ffaf"/><stop offset="0.8094" stop-color="#09fff6"/><stop offset="0.8110" stop-color="#00b5ff"/><stop offset="0.8126" stop-color="#0074ff"/><stop offset="0.8159" stop-color="#004eff"/><stop offset="0.8191" stop-color="#003dff"/><stop offset="0.8255" stop-color="#0036ff"/><stop offset="0.8304" stop-color="#004eff"/><stop offset="0.8320" stop-color="#0076ff"/><stop offset="0.8336" stop-color="#00e9ff"/><stop offset="0.8352" stop-color="#41ffbe"/><stop offset="0.8384" stop-color="#6eff91"/><stop offset="0.8449" stop-color="#7eff81"/><stop offset="0.8933" stop-color="#6eff91"/><stop offset="0.9320" stop-color="#83ff7c"/><stop offset="0.9465" stop-color="#7fff80"/><stop offset="0.9529" stop-color="#6eff91"/><stop offset="0.9545" stop-color="#48ffb7"/><stop offset="0.9561" stop-color="#0bfff4"/><stop offset="0.9578" stop-color="#00a3ff"/><stop offset="0.9594" stop-color="#0063ff"/><stop offset="0.9610" stop-color="#004fff"/><stop offset="0.9658" stop-color="#003eff"/><stop offset="0.9723" stop-color="#003fff"/><stop offset="0.9755" stop-color="#004dff"/><stop offset="0.9771" stop-color="#0064ff"/><stop offset="0.9787" stop-color="#00b6ff"/><stop offset="0.9803" stop-color="#30ffcf"/><stop offset="0.9819" stop-color="#89ff76"/><stop offset="0.9836" stop-color="#bfff40"/><stop offset="0.9868" stop-color="#fbff04"/><stop offset="0.9916" stop-color="#ffd800"/><stop offset="0.9997" stop-color="#ffd400"/></linearGradient>
<rect x="126.1" y="691.3" width="1240.4" height="9.1" fill="url(#hr6)"/>
<linearGradient id="hr7" gradientUnits="userSpaceOnUse" x1="126.1" y1="0" x2="1366.5" y2="0"><stop offset="0.0000" stop-color="#ffd800"/><stop offset="0.0048" stop-color="#ffd800"/><stop offset="0.0113" stop-color="#fffa00"/><stop offset="0.0129" stop-color="#eaff15"/><stop offset="0.0177" stop-color="#2fffd0"/><stop offset="0.0193" stop-color="#00e4ff"/><stop offset="0.0210" stop-color="#008bff"/><stop offset="0.0226" stop-color="#006eff"/><stop offset="0.0258" stop-color="#0056ff"/><stop offset="0.0339" stop-color="#0042ff"/><stop offset="0.0419" stop-color="#003dff"/><stop offset="0.0661" stop-color="#004bff"/><stop offset="0.0855" stop-color="#007bff"/><stop offset="0.0903" stop-color="#009bff"/><stop offset="0.0967" stop-color="#00b4ff"/><stop offset="0.1032" stop-color="#00b9ff"/><stop offset="0.1096" stop-color="#00b1ff"/><stop offset="0.1177" stop-color="#007bff"/><stop offset="0.1306" stop-color="#0054ff"/><stop offset="0.1435" stop-color="#0042ff"/><stop offset="0.1629" stop-color="#0043ff"/><stop offset="0.1693" stop-color="#0052ff"/><stop offset="0.1741" stop-color="#006dff"/><stop offset="0.1757" stop-color="#007dff"/><stop offset="0.1774" stop-color="#00beff"/><stop offset="0.1790" stop-color="#04fffb"/><stop offset="0.1854" stop-color="#f3ff0c"/><stop offset="0.1870" stop-color="#fff400"/><stop offset="0.1919" stop-color="#ffcc00"/><stop offset="0.1951" stop-color="#ffc600"/><stop offset="0.2064" stop-color="#ffc800"/><stop offset="0.2096" stop-color="#ffe800"/><stop offset="0.2112" stop-color="#efff10"/><stop offset="0.2144" stop-color="#71ff8e"/><stop offset="0.2161" stop-color="#17ffe8"/><stop offset="0.2177" stop-color="#00b9ff"/><stop offset="0.2193" stop-color="#0074ff"/><stop offset="0.2225" stop-color="#0051ff"/><stop offset="0.2306" stop-color="#0038ff"/><stop offset="0.2419" stop-color="#0031ff"/><stop offset="0.2499" stop-color="#0038ff"/><stop offset="0.2515" stop-color="#0046ff"/><stop offset="0.2531" stop-color="#0093ff"/><stop offset="0.2548" stop-color="#00d1ff"/><stop offset="0.2564" stop-color="#00e8ff"/><stop offset="0.2596" stop-color="#02fffd"/><stop offset="0.3144" stop-color="#0efff1"/><stop offset="0.3402" stop-color="#01fffe"/><stop offset="0.3434" stop-color="#00f7ff"/><stop offset="0.3450" stop-color="#00e5ff"/><stop offset="0.3483" stop-color="#007aff"/><stop offset="0.3499" stop-color="#0069ff"/><stop offset="0.3547" stop-color="#004eff"/><stop offset="0.3628" stop-color="#0043ff"/><stop offset="0.3676" stop-color="#0045ff"/><stop offset="0.3741" stop-color="#0066ff"/><stop offset="0.3757" stop-color="#007bff"/><stop offset="0.3773" stop-color="#00d2ff"/><stop offset="0.3789" stop-color="#31ffce"/><stop offset="0.3821" stop-color="#cfff30"/><stop offset="0.3837" stop-color="#fff800"/><stop offset="0.3870" stop-color="#ffd000"/><stop offset="0.3902" stop-color="#ffbb00"/><stop offset="0.4015" stop-color="#ffcc00"/><stop offset="0.4063" stop-color="#fff200"/><stop offset="0.4079" stop-color="#f3ff0c"/><stop offset="0.4095" stop-color="#c5ff3a"/><stop offset="0.4112" stop-color="#87ff78"/><stop offset="0.4128" stop-color="#2effd1"/><stop offset="0.4144" stop-color="#00ccff"/><stop offset="0.4160" stop-color="#0078ff"/><stop offset="0.4176" stop-color="#0065ff"/><stop offset="0.4224" stop-color="#004dff"/><stop offset="0.4289" stop-color="#004bff"/><stop offset="0.4353" stop-color="#006aff"/><stop offset="0.4370" stop-color="#0093ff"/><stop offset="0.4386" stop-color="#00dfff"/><stop offset="0.4402" stop-color="#18ffe7"/><stop offset="0.4418" stop-color="#48ffb7"/><stop offset="0.4466" stop-color="#79ff86"/><stop offset="0.4821" stop-color="#9eff61"/><stop offset="0.4869" stop-color="#b1ff4e"/><stop offset="0.4966" stop-color="#c1ff3e"/><stop offset="0.5111" stop-color="#c6ff39"/><stop offset="0.5240" stop-color="#c6ff39"/><stop offset="0.5369" stop-color="#b7ff48"/><stop offset="0.5482" stop-color="#8fff70"/><stop offset="0.5530" stop-color="#34ffcb"/><stop offset="0.5547" stop-color="#0afff5"/><stop offset="0.5563" stop-color="#00b0ff"/><stop offset="0.5579" stop-color="#007aff"/><stop offset="0.5627" stop-color="#0062ff"/><stop offset="0.5676" stop-color="#0060ff"/><stop offset="0.5740" stop-color="#0075ff"/><stop offset="0.5756" stop-color="#00a1ff"/><stop offset="0.5772" stop-color="#00fdff"/><stop offset="0.5805" stop-color="#87ff78"/><stop offset="0.5837" stop-color="#dfff20"/><stop offset="0.5853" stop-color="#fffc00"/><stop offset="0.5885" stop-color="#ffdb00"/><stop offset="0.6014" stop-color="#ffd800"/><stop offset="0.6063" stop-color="#fff400"/><stop offset="0.6079" stop-color="#eeff11"/><stop offset="0.6127" stop-color="#80ff7f"/><stop offset="0.6159" stop-color="#00f6ff"/><stop offset="0.6175" stop-color="#00a8ff"/><stop offset="0.6192" stop-color="#0078ff"/><stop offset="0.6224" stop-color="#0064ff"/><stop offset="0.6272" stop-color="#0061ff"/><stop offset="0.6353" stop-color="#0070ff"/><stop offset="0.6369" stop-color="#0086ff"/><stop offset="0.6401" stop-color="#00f8ff"/><stop offset="0.6417" stop-color="#4dffb2"/><stop offset="0.6433" stop-color="#81ff7e"/><stop offset="0.6466" stop-color="#9cff63"/><stop offset="0.6546" stop-color="#baff45"/><stop offset="0.6933" stop-color="#cbff34"/><stop offset="0.7352" stop-color="#c5ff3a"/><stop offset="0.7449" stop-color="#b7ff48"/><stop offset="0.7498" stop-color="#90ff6f"/><stop offset="0.7514" stop-color="#70ff8f"/><stop offset="0.7530" stop-color="#29ffd6"/><stop offset="0.7546" stop-color="#00caff"/><stop offset="0.7562" stop-color="#007cff"/><stop offset="0.7594" stop-color="#0065ff"/><stop offset="0.7643" stop-color="#0060ff"/><stop offset="0.7691" stop-color="#006aff"/><stop offset="0.7723" stop-color="#0083ff"/><stop offset="0.7739" stop-color="#00b7ff"/><stop offset="0.7756" stop-color="#00feff"/><stop offset="0.7772" stop-color="#4cffb3"/><stop offset="0.7788" stop-color="#89ff76"/><stop offset="0.7836" stop-color="#f6ff09"/><stop offset="0.7852" stop-color="#fff200"/><stop offset="0.7868" stop-color="#ffe500"/><stop offset="0.7997" stop-color="#ffde00"/><stop offset="0.8030" stop-color="#fff700"/><stop offset="0.8046" stop-color="#ebff14"/><stop offset="0.8094" stop-color="#7eff81"/><stop offset="0.8110" stop-color="#35ffca"/><stop offset="0.8126" stop-color="#00e7ff"/><stop offset="0.8143" stop-color="#0088ff"/><stop offset="0.8159" stop-color="#006cff"/><stop offset="0.8207" stop-color="#004fff"/><stop offset="0.8255" stop-color="#004cff"/><stop offset="0.8288" stop-color="#0059ff"/><stop offset="0.8304" stop-color="#006dff"/><stop offset="0.8320" stop-color="#00cfff"/><stop offset="0.8336" stop-color="#39ffc6"/><stop offset="0.8352" stop-color="#82ff7d"/><stop offset="0.8384" stop-color="#96ff69"/><stop offset="0.8449" stop-color="#a7ff58"/><stop offset="0.8949" stop-color="#a0ff5f"/><stop offset="0.9320" stop-color="#aeff51"/><stop offset="0.9529" stop-color="#a1ff5e"/><stop offset="0.9545" stop-color="#87ff78"/><stop offset="0.9561" stop-color="#58ffa7"/><stop offset="0.9578" stop-color="#0afff5"/><stop offset="0.9594" stop-color="#00a3ff"/><stop offset="0.9610" stop-color="#006eff"/><stop offset="0.9658" stop-color="#0056ff"/><stop offset="0.9739" stop-color="#005dff"/><stop offset="0.9755" stop-color="#006cff"/><stop offset="0.9771" stop-color="#00a5ff"/><stop offset="0.9787" stop-color="#27ffd8"/><stop offset="0.9803" stop-color="#91ff6e"/><stop offset="0.9819" stop-color="#d2ff2d"/><stop offset="0.9836" stop-color="#fffe00"/><stop offset="0.9852" stop-color="#ffe600"/><stop offset="0.9916" stop-color="#ffb500"/><stop offset="0.9997" stop-color="#ffb100"/></linearGradient>
<rect x="126.1" y="700.1" width="1240.4" height="12.9" fill="url(#hr7)"/>
<linearGradient id="hr8" gradientUnits="userSpaceOnUse" x1="126.1" y1="0" x2="1366.5" y2="0"><stop offset="0.0000" stop-color="#ffb400"/><stop offset="0.0064" stop-color="#ffba00"/><stop offset="0.0145" stop-color="#fff900"/><stop offset="0.0161" stop-color="#d0ff2f"/><stop offset="0.0210" stop-color="#07fff8"/><stop offset="0.0226" stop-color="#00afff"/><stop offset="0.0242" stop-color="#0079ff"/><stop offset="0.0258" stop-color="#006dff"/><stop offset="0.0306" stop-color="#005aff"/><stop offset="0.0419" stop-color="#004dff"/><stop offset="0.0661" stop-color="#005fff"/><stop offset="0.0774" stop-color="#007aff"/><stop offset="0.0790" stop-color="#0084ff"/><stop offset="0.0838" stop-color="#00c9ff"/><stop offset="0.0887" stop-color="#00f0ff"/><stop offset="0.0919" stop-color="#00feff"/><stop offset="0.1016" stop-color="#11ffee"/><stop offset="0.1113" stop-color="#02fffd"/><stop offset="0.1161" stop-color="#00e4ff"/><stop offset="0.1242" stop-color="#0082ff"/><stop offset="0.1274" stop-color="#0074ff"/><stop offset="0.1419" stop-color="#0055ff"/><stop offset="0.1629" stop-color="#0054ff"/><stop offset="0.1725" stop-color="#007bff"/><stop offset="0.1741" stop-color="#00a7ff"/><stop offset="0.1757" stop-color="#00e4ff"/><stop offset="0.1774" stop-color="#23ffdc"/><stop offset="0.1790" stop-color="#59ffa6"/><stop offset="0.1822" stop-color="#e2ff1d"/><stop offset="0.1838" stop-color="#fff500"/><stop offset="0.1935" stop-color="#ffa700"/><stop offset="0.2080" stop-color="#ffae00"/><stop offset="0.2128" stop-color="#f5ff0a"/><stop offset="0.2161" stop-color="#75ff8a"/><stop offset="0.2177" stop-color="#21ffde"/><stop offset="0.2193" stop-color="#00c6ff"/><stop offset="0.2209" stop-color="#0079ff"/><stop offset="0.2225" stop-color="#0067ff"/><stop offset="0.2306" stop-color="#0049ff"/><stop offset="0.2419" stop-color="#0041ff"/><stop offset="0.2499" stop-color="#004cff"/><stop offset="0.2515" stop-color="#0060ff"/><stop offset="0.2531" stop-color="#00c6ff"/><stop offset="0.2548" stop-color="#0cfff3"/><stop offset="0.2596" stop-color="#2effd1"/><stop offset="0.2725" stop-color="#3effc1"/><stop offset="0.3370" stop-color="#50ffaf"/><stop offset="0.3434" stop-color="#46ffb9"/><stop offset="0.3450" stop-color="#3bffc4"/><stop offset="0.3467" stop-color="#1fffe0"/><stop offset="0.3483" stop-color="#00eeff"/><stop offset="0.3499" stop-color="#00a0ff"/><stop offset="0.3515" stop-color="#0076ff"/><stop offset="0.3547" stop-color="#0062ff"/><stop offset="0.3612" stop-color="#0054ff"/><stop offset="0.3676" stop-color="#0057ff"/><stop offset="0.3725" stop-color="#006fff"/><stop offset="0.3741" stop-color="#0084ff"/><stop offset="0.3757" stop-color="#00ecff"/><stop offset="0.3773" stop-color="#45ffba"/><stop offset="0.3805" stop-color="#e4ff1b"/><stop offset="0.3821" stop-color="#ffe400"/><stop offset="0.3854" stop-color="#ffb800"/><stop offset="0.3902" stop-color="#ff9700"/><stop offset="0.4015" stop-color="#ffaa00"/><stop offset="0.4047" stop-color="#ffbc00"/><stop offset="0.4095" stop-color="#fff000"/><stop offset="0.4112" stop-color="#e1ff1e"/><stop offset="0.4128" stop-color="#a1ff5e"/><stop offset="0.4160" stop-color="#00f3ff"/><stop offset="0.4176" stop-color="#0083ff"/><stop offset="0.4192" stop-color="#0070ff"/><stop offset="0.4224" stop-color="#0061ff"/><stop offset="0.4273" stop-color="#005eff"/><stop offset="0.4337" stop-color="#0074ff"/><stop offset="0.4353" stop-color="#009aff"/><stop offset="0.4370" stop-color="#00f0ff"/><stop offset="0.4386" stop-color="#31ffce"/><stop offset="0.4418" stop-color="#8aff75"/><stop offset="0.4466" stop-color="#b0ff4f"/><stop offset="0.4515" stop-color="#c7ff38"/><stop offset="0.4821" stop-color="#eeff11"/><stop offset="0.4853" stop-color="#fff900"/><stop offset="0.4869" stop-color="#ffeb00"/><stop offset="0.4998" stop-color="#ffe900"/><stop offset="0.5418" stop-color="#fffd00"/><stop offset="0.5466" stop-color="#efff10"/><stop offset="0.5482" stop-color="#e8ff17"/><stop offset="0.5498" stop-color="#ceff31"/><stop offset="0.5530" stop-color="#74ff8b"/><stop offset="0.5579" stop-color="#03fffc"/><stop offset="0.5595" stop-color="#00d0ff"/><stop offset="0.5611" stop-color="#0096ff"/><stop offset="0.5627" stop-color="#007cff"/><stop offset="0.5692" stop-color="#0079ff"/><stop offset="0.5708" stop-color="#008aff"/><stop offset="0.5740" stop-color="#00e6ff"/><stop offset="0.5756" stop-color="#2dffd2"/><stop offset="0.5772" stop-color="#6eff91"/><stop offset="0.5821" stop-color="#f6ff09"/><stop offset="0.5869" stop-color="#ffc100"/><stop offset="0.5885" stop-color="#ffb400"/><stop offset="0.6030" stop-color="#ffb700"/><stop offset="0.6063" stop-color="#ffcc00"/><stop offset="0.6095" stop-color="#fff500"/><stop offset="0.6111" stop-color="#e9ff16"/><stop offset="0.6159" stop-color="#7dff82"/><stop offset="0.6192" stop-color="#00f4ff"/><stop offset="0.6224" stop-color="#007eff"/><stop offset="0.6272" stop-color="#0079ff"/><stop offset="0.6321" stop-color="#0083ff"/><stop offset="0.6337" stop-color="#0096ff"/><stop offset="0.6353" stop-color="#00beff"/><stop offset="0.6369" stop-color="#00ffff"/><stop offset="0.6417" stop-color="#8dff72"/><stop offset="0.6433" stop-color="#a3ff5c"/><stop offset="0.6498" stop-color="#d3ff2c"/><stop offset="0.6546" stop-color="#e8ff17"/><stop offset="0.6933" stop-color="#fdff02"/><stop offset="0.7352" stop-color="#f9ff06"/><stop offset="0.7449" stop-color="#e8ff17"/><stop offset="0.7498" stop-color="#bfff40"/><stop offset="0.7530" stop-color="#8bff74"/><stop offset="0.7562" stop-color="#0ffff0"/><stop offset="0.7578" stop-color="#00b0ff"/><stop offset="0.7594" stop-color="#007fff"/><stop offset="0.7659" stop-color="#007dff"/><stop offset="0.7691" stop-color="#00a0ff"/><stop offset="0.7707" stop-color="#00d7ff"/><stop offset="0.7723" stop-color="#0afff5"/><stop offset="0.7739" stop-color="#37ffc8"/><stop offset="0.7756" stop-color="#78ff87"/><stop offset="0.7804" stop-color="#f3ff0c"/><stop offset="0.7820" stop-color="#ffee00"/><stop offset="0.7868" stop-color="#ffc100"/><stop offset="0.7933" stop-color="#ffbd00"/><stop offset="0.8014" stop-color="#ffbf00"/><stop offset="0.8062" stop-color="#fffc00"/><stop offset="0.8110" stop-color="#91ff6e"/><stop offset="0.8126" stop-color="#5affa5"/><stop offset="0.8143" stop-color="#10ffef"/><stop offset="0.8159" stop-color="#00afff"/><stop offset="0.8175" stop-color="#0078ff"/><stop offset="0.8207" stop-color="#0064ff"/><stop offset="0.8255" stop-color="#005fff"/><stop offset="0.8288" stop-color="#0070ff"/><stop offset="0.8304" stop-color="#00a5ff"/><stop offset="0.8320" stop-color="#29ffd6"/><stop offset="0.8336" stop-color="#7eff81"/><stop offset="0.8352" stop-color="#9dff62"/><stop offset="0.8384" stop-color="#b4ff4b"/><stop offset="0.8449" stop-color="#ccff33"/><stop offset="0.9303" stop-color="#d5ff2a"/><stop offset="0.9529" stop-color="#cdff32"/><stop offset="0.9561" stop-color="#97ff68"/><stop offset="0.9578" stop-color="#60ff9f"/><stop offset="0.9594" stop-color="#16ffe9"/><stop offset="0.9610" stop-color="#00c1ff"/><stop offset="0.9626" stop-color="#007dff"/><stop offset="0.9658" stop-color="#006dff"/><stop offset="0.9707" stop-color="#006bff"/><stop offset="0.9739" stop-color="#0076ff"/><stop offset="0.9755" stop-color="#00afff"/><stop offset="0.9771" stop-color="#1bffe4"/><stop offset="0.9787" stop-color="#8aff75"/><stop offset="0.9803" stop-color="#d3ff2c"/><stop offset="0.9819" stop-color="#fff000"/><stop offset="0.9852" stop-color="#ffc000"/><stop offset="0.9916" stop-color="#ff9500"/><stop offset="0.9997" stop-color="#ff9100"/></linearGradient>
<rect x="126.1" y="712.7" width="1240.4" height="7.4" fill="url(#hr8)"/>
<linearGradient id="hr9" gradientUnits="userSpaceOnUse" x1="126.1" y1="0" x2="1366.5" y2="0"><stop offset="0.0000" stop-color="#ff9c00"/><stop offset="0.0064" stop-color="#ffa100"/><stop offset="0.0129" stop-color="#ffcf00"/><stop offset="0.0161" stop-color="#fff800"/><stop offset="0.0177" stop-color="#cdff32"/><stop offset="0.0226" stop-color="#05fffa"/><stop offset="0.0258" stop-color="#007cff"/><stop offset="0.0306" stop-color="#0067ff"/><stop offset="0.0387" stop-color="#005aff"/><stop offset="0.0597" stop-color="#0062ff"/><stop offset="0.0742" stop-color="#0083ff"/><stop offset="0.0822" stop-color="#02fffd"/><stop offset="0.0919" stop-color="#34ffcb"/><stop offset="0.1016" stop-color="#47ffb8"/><stop offset="0.1096" stop-color="#40ffbf"/><stop offset="0.1161" stop-color="#21ffde"/><stop offset="0.1193" stop-color="#06fff9"/><stop offset="0.1225" stop-color="#00e4ff"/><stop offset="0.1290" stop-color="#007fff"/><stop offset="0.1435" stop-color="#0060ff"/><stop offset="0.1629" stop-color="#0060ff"/><stop offset="0.1709" stop-color="#007fff"/><stop offset="0.1741" stop-color="#00f4ff"/><stop offset="0.1774" stop-color="#5effa1"/><stop offset="0.1790" stop-color="#99ff66"/><stop offset="0.1806" stop-color="#e4ff1b"/><stop offset="0.1822" stop-color="#fff000"/><stop offset="0.1854" stop-color="#ffce00"/><stop offset="0.1935" stop-color="#ff9300"/><stop offset="0.2064" stop-color="#ff9000"/><stop offset="0.2096" stop-color="#ffa900"/><stop offset="0.2128" stop-color="#ffe700"/><stop offset="0.2144" stop-color="#e6ff19"/><stop offset="0.2177" stop-color="#61ff9e"/><stop offset="0.2193" stop-color="#10ffef"/><stop offset="0.2209" stop-color="#00b3ff"/><stop offset="0.2225" stop-color="#0077ff"/><stop offset="0.2257" stop-color="#0063ff"/><stop offset="0.2322" stop-color="#0051ff"/><stop offset="0.2419" stop-color="#004cff"/><stop offset="0.2499" stop-color="#0059ff"/><stop offset="0.2515" stop-color="#0071ff"/><stop offset="0.2531" stop-color="#00e8ff"/><stop offset="0.2548" stop-color="#29ffd6"/><stop offset="0.2596" stop-color="#4cffb3"/><stop offset="0.2660" stop-color="#5affa5"/><stop offset="0.2999" stop-color="#67ff98"/><stop offset="0.3370" stop-color="#84ff7b"/><stop offset="0.3450" stop-color="#70ff8f"/><stop offset="0.3483" stop-color="#37ffc8"/><stop offset="0.3499" stop-color="#01fffe"/><stop offset="0.3515" stop-color="#00b0ff"/><stop offset="0.3531" stop-color="#007aff"/><stop offset="0.3612" stop-color="#0060ff"/><stop offset="0.3676" stop-color="#0063ff"/><stop offset="0.3725" stop-color="#007fff"/><stop offset="0.3741" stop-color="#00e4ff"/><stop offset="0.3757" stop-color="#3bffc4"/><stop offset="0.3789" stop-color="#d9ff26"/><stop offset="0.3805" stop-color="#ffe700"/><stop offset="0.3821" stop-color="#ffc300"/><stop offset="0.3870" stop-color="#ff9000"/><stop offset="0.3902" stop-color="#ff7f00"/><stop offset="0.3966" stop-color="#ff8900"/><stop offset="0.4047" stop-color="#ffa200"/><stop offset="0.4079" stop-color="#ffbe00"/><stop offset="0.4112" stop-color="#ffed00"/><stop offset="0.4128" stop-color="#e3ff1c"/><stop offset="0.4176" stop-color="#00f7ff"/><stop offset="0.4192" stop-color="#0082ff"/><stop offset="0.4224" stop-color="#006fff"/><stop offset="0.4289" stop-color="#006bff"/><stop offset="0.4321" stop-color="#007aff"/><stop offset="0.4337" stop-color="#009aff"/><stop offset="0.4353" stop-color="#00e6ff"/><stop offset="0.4370" stop-color="#32ffcd"/><stop offset="0.4386" stop-color="#6aff95"/><stop offset="0.4418" stop-color="#aeff51"/><stop offset="0.4499" stop-color="#efff10"/><stop offset="0.4547" stop-color="#fffd00"/><stop offset="0.4821" stop-color="#ffe600"/><stop offset="0.4837" stop-color="#ffe000"/><stop offset="0.4869" stop-color="#ffbe00"/><stop offset="0.5369" stop-color="#ffda00"/><stop offset="0.5498" stop-color="#fff800"/><stop offset="0.5514" stop-color="#ebff14"/><stop offset="0.5563" stop-color="#65ff9a"/><stop offset="0.5611" stop-color="#0efff1"/><stop offset="0.5627" stop-color="#00e8ff"/><stop offset="0.5676" stop-color="#00d1ff"/><stop offset="0.5692" stop-color="#00d2ff"/><stop offset="0.5708" stop-color="#02fffd"/><stop offset="0.5740" stop-color="#42ffbd"/><stop offset="0.5756" stop-color="#7eff81"/><stop offset="0.5805" stop-color="#f7ff08"/><stop offset="0.5837" stop-color="#ffcb00"/><stop offset="0.5869" stop-color="#ffa600"/><stop offset="0.5885" stop-color="#ff9900"/><stop offset="0.6030" stop-color="#ff9e00"/><stop offset="0.6063" stop-color="#ffb000"/><stop offset="0.6111" stop-color="#ffec00"/><stop offset="0.6127" stop-color="#f3ff0c"/><stop offset="0.6175" stop-color="#8dff72"/><stop offset="0.6208" stop-color="#2effd1"/><stop offset="0.6224" stop-color="#00f3ff"/><stop offset="0.6272" stop-color="#00cfff"/><stop offset="0.6337" stop-color="#01fffe"/><stop offset="0.6353" stop-color="#20ffdf"/><stop offset="0.6385" stop-color="#79ff86"/><stop offset="0.6417" stop-color="#a7ff58"/><stop offset="0.6498" stop-color="#eeff11"/><stop offset="0.6530" stop-color="#ffff00"/><stop offset="0.6804" stop-color="#ffed00"/><stop offset="0.7369" stop-color="#ffe900"/><stop offset="0.7449" stop-color="#fff300"/><stop offset="0.7465" stop-color="#fcff03"/><stop offset="0.7498" stop-color="#dfff20"/><stop offset="0.7546" stop-color="#90ff6f"/><stop offset="0.7562" stop-color="#6cff93"/><stop offset="0.7578" stop-color="#25ffda"/><stop offset="0.7594" stop-color="#00feff"/><stop offset="0.7627" stop-color="#00d8ff"/><stop offset="0.7643" stop-color="#00d2ff"/><stop offset="0.7675" stop-color="#00f8ff"/><stop offset="0.7691" stop-color="#09fff6"/><stop offset="0.7723" stop-color="#67ff98"/><stop offset="0.7788" stop-color="#fdff02"/><stop offset="0.7804" stop-color="#ffe600"/><stop offset="0.7836" stop-color="#ffba00"/><stop offset="0.7868" stop-color="#ffa900"/><stop offset="0.7997" stop-color="#ffa000"/><stop offset="0.8046" stop-color="#ffc400"/><stop offset="0.8078" stop-color="#fff800"/><stop offset="0.8126" stop-color="#94ff6b"/><stop offset="0.8143" stop-color="#60ff9f"/><stop offset="0.8159" stop-color="#12ffed"/><stop offset="0.8175" stop-color="#00bdff"/><stop offset="0.8191" stop-color="#007aff"/><stop offset="0.8255" stop-color="#006dff"/><stop offset="0.8288" stop-color="#0081ff"/><stop offset="0.8304" stop-color="#00f4ff"/><stop offset="0.8320" stop-color="#60ff9f"/><stop offset="0.8336" stop-color="#95ff6a"/><stop offset="0.8352" stop-color="#b0ff4f"/><stop offset="0.8384" stop-color="#c9ff36"/><stop offset="0.8449" stop-color="#e5ff1a"/><stop offset="0.8642" stop-color="#efff10"/><stop offset="0.9513" stop-color="#edff12"/><stop offset="0.9529" stop-color="#ebff14"/><stop offset="0.9561" stop-color="#bbff44"/><stop offset="0.9578" stop-color="#93ff6c"/><stop offset="0.9610" stop-color="#27ffd8"/><stop offset="0.9626" stop-color="#00ecff"/><stop offset="0.9642" stop-color="#00a0ff"/><stop offset="0.9658" stop-color="#007cff"/><stop offset="0.9723" stop-color="#007eff"/><stop offset="0.9739" stop-color="#00afff"/><stop offset="0.9755" stop-color="#18ffe7"/><stop offset="0.9771" stop-color="#79ff86"/><stop offset="0.9803" stop-color="#fffd00"/><stop offset="0.9819" stop-color="#ffcf00"/><stop offset="0.9868" stop-color="#ff9a00"/><stop offset="0.9916" stop-color="#ff7f00"/><stop offset="0.9997" stop-color="#ff7e00"/></linearGradient>
<rect x="126.1" y="719.8" width="1240.4" height="6.7" fill="url(#hr9)"/>
<linearGradient id="hr10" gradientUnits="userSpaceOnUse" x1="126.1" y1="0" x2="1366.5" y2="0"><stop offset="0.0000" stop-color="#ff8100"/><stop offset="0.0064" stop-color="#ff8600"/><stop offset="0.0129" stop-color="#ffb600"/><stop offset="0.0177" stop-color="#fff600"/><stop offset="0.0193" stop-color="#d1ff2e"/><stop offset="0.0226" stop-color="#4bffb4"/><stop offset="0.0242" stop-color="#15ffea"/><stop offset="0.0258" stop-color="#00d8ff"/><stop offset="0.0274" stop-color="#0096ff"/><stop offset="0.0290" stop-color="#007cff"/><stop offset="0.0355" stop-color="#0069ff"/><stop offset="0.0516" stop-color="#0067ff"/><stop offset="0.0677" stop-color="#007fff"/><stop offset="0.0758" stop-color="#00fbff"/><stop offset="0.0887" stop-color="#60ff9f"/><stop offset="0.0967" stop-color="#7eff81"/><stop offset="0.1032" stop-color="#82ff7d"/><stop offset="0.1096" stop-color="#7cff83"/><stop offset="0.1161" stop-color="#60ff9f"/><stop offset="0.1258" stop-color="#09fff6"/><stop offset="0.1274" stop-color="#00f3ff"/><stop offset="0.1338" stop-color="#007fff"/><stop offset="0.1500" stop-color="#0068ff"/><stop offset="0.1629" stop-color="#006dff"/><stop offset="0.1677" stop-color="#007eff"/><stop offset="0.1709" stop-color="#00ddff"/><stop offset="0.1725" stop-color="#13ffec"/><stop offset="0.1757" stop-color="#6dff92"/><stop offset="0.1790" stop-color="#f0ff0f"/><stop offset="0.1806" stop-color="#ffeb00"/><stop offset="0.1838" stop-color="#ffc200"/><stop offset="0.1919" stop-color="#ff8400"/><stop offset="0.2064" stop-color="#ff7c00"/><stop offset="0.2096" stop-color="#ff8d00"/><stop offset="0.2128" stop-color="#ffc400"/><stop offset="0.2144" stop-color="#ffec00"/><stop offset="0.2161" stop-color="#daff25"/><stop offset="0.2177" stop-color="#9dff62"/><stop offset="0.2209" stop-color="#0bfff4"/><stop offset="0.2225" stop-color="#00aeff"/><stop offset="0.2241" stop-color="#007cff"/><stop offset="0.2322" stop-color="#005dff"/><stop offset="0.2467" stop-color="#005fff"/><stop offset="0.2499" stop-color="#0068ff"/><stop offset="0.2515" stop-color="#008bff"/><stop offset="0.2531" stop-color="#0ffff0"/><stop offset="0.2548" stop-color="#48ffb7"/><stop offset="0.2580" stop-color="#65ff9a"/><stop offset="0.2741" stop-color="#94ff6b"/><stop offset="0.3144" stop-color="#abff54"/><stop offset="0.3402" stop-color="#d4ff2b"/><stop offset="0.3450" stop-color="#c3ff3c"/><stop offset="0.3467" stop-color="#acff53"/><stop offset="0.3499" stop-color="#56ffa9"/><stop offset="0.3515" stop-color="#1effe1"/><stop offset="0.3531" stop-color="#00d7ff"/><stop offset="0.3547" stop-color="#007fff"/><stop offset="0.3612" stop-color="#006dff"/><stop offset="0.3692" stop-color="#007aff"/><stop offset="0.3708" stop-color="#00a4ff"/><stop offset="0.3725" stop-color="#00eeff"/><stop offset="0.3741" stop-color="#42ffbd"/><stop offset="0.3773" stop-color="#d4ff2b"/><stop offset="0.3789" stop-color="#ffe600"/><stop offset="0.3821" stop-color="#ff9d00"/><stop offset="0.3854" stop-color="#ff7f00"/><stop offset="0.3902" stop-color="#ff7600"/><stop offset="0.4031" stop-color="#ff7f00"/><stop offset="0.4079" stop-color="#ff9e00"/><stop offset="0.4128" stop-color="#ffe500"/><stop offset="0.4144" stop-color="#ebff14"/><stop offset="0.4176" stop-color="#62ff9d"/><stop offset="0.4192" stop-color="#0dfff2"/><stop offset="0.4224" stop-color="#007fff"/><stop offset="0.4273" stop-color="#007aff"/><stop offset="0.4289" stop-color="#007aff"/><stop offset="0.4305" stop-color="#008eff"/><stop offset="0.4337" stop-color="#00fcff"/><stop offset="0.4370" stop-color="#7bff84"/><stop offset="0.4386" stop-color="#a3ff5c"/><stop offset="0.4418" stop-color="#d5ff2a"/><stop offset="0.4466" stop-color="#feff01"/><stop offset="0.4515" stop-color="#ffdf00"/><stop offset="0.4821" stop-color="#ffbd00"/><stop offset="0.4837" stop-color="#ffb800"/><stop offset="0.4869" stop-color="#ff8d00"/><stop offset="0.5047" stop-color="#ffad00"/><stop offset="0.5385" stop-color="#ffbe00"/><stop offset="0.5482" stop-color="#ffd000"/><stop offset="0.5530" stop-color="#fff500"/><stop offset="0.5547" stop-color="#eeff11"/><stop offset="0.5579" stop-color="#9bff64"/><stop offset="0.5627" stop-color="#5fffa0"/><stop offset="0.5692" stop-color="#4cffb3"/><stop offset="0.5708" stop-color="#6cff93"/><stop offset="0.5740" stop-color="#95ff6a"/><stop offset="0.5788" stop-color="#fffe00"/><stop offset="0.5821" stop-color="#ffc200"/><stop offset="0.5853" stop-color="#ff9900"/><stop offset="0.5885" stop-color="#ff7e00"/><stop offset="0.5917" stop-color="#ff7e00"/><stop offset="0.6014" stop-color="#ff7f00"/><stop offset="0.6063" stop-color="#ff9200"/><stop offset="0.6111" stop-color="#ffc600"/><stop offset="0.6143" stop-color="#fffd00"/><stop offset="0.6192" stop-color="#a9ff56"/><stop offset="0.6224" stop-color="#80ff7f"/><stop offset="0.6272" stop-color="#5effa1"/><stop offset="0.6337" stop-color="#76ff89"/><stop offset="0.6482" stop-color="#fcff03"/><stop offset="0.6498" stop-color="#fff100"/><stop offset="0.6546" stop-color="#ffde00"/><stop offset="0.6659" stop-color="#ffd800"/><stop offset="0.7433" stop-color="#ffc800"/><stop offset="0.7465" stop-color="#ffd500"/><stop offset="0.7498" stop-color="#fff900"/><stop offset="0.7594" stop-color="#70ff8f"/><stop offset="0.7643" stop-color="#4cffb3"/><stop offset="0.7691" stop-color="#7aff85"/><stop offset="0.7739" stop-color="#c1ff3e"/><stop offset="0.7772" stop-color="#fff500"/><stop offset="0.7836" stop-color="#ff9900"/><stop offset="0.7997" stop-color="#ff8400"/><stop offset="0.8046" stop-color="#ffa300"/><stop offset="0.8078" stop-color="#ffd000"/><stop offset="0.8094" stop-color="#fff200"/><stop offset="0.8110" stop-color="#e5ff1a"/><stop offset="0.8143" stop-color="#9dff62"/><stop offset="0.8159" stop-color="#70ff8f"/><stop offset="0.8175" stop-color="#2dffd2"/><stop offset="0.8191" stop-color="#00dbff"/><stop offset="0.8207" stop-color="#0092ff"/><stop offset="0.8223" stop-color="#007fff"/><stop offset="0.8255" stop-color="#007cff"/><stop offset="0.8288" stop-color="#00e5ff"/><stop offset="0.8304" stop-color="#45ffba"/><stop offset="0.8320" stop-color="#8eff71"/><stop offset="0.8336" stop-color="#aeff51"/><stop offset="0.8384" stop-color="#dfff20"/><stop offset="0.8449" stop-color="#fffd00"/><stop offset="0.8675" stop-color="#fff300"/><stop offset="0.9529" stop-color="#fff500"/><stop offset="0.9545" stop-color="#fbff04"/><stop offset="0.9561" stop-color="#e2ff1d"/><stop offset="0.9610" stop-color="#83ff7c"/><stop offset="0.9642" stop-color="#25ffda"/><stop offset="0.9658" stop-color="#09fff6"/><stop offset="0.9690" stop-color="#00ddff"/><stop offset="0.9707" stop-color="#00eaff"/><stop offset="0.9723" stop-color="#0ffff0"/><stop offset="0.9739" stop-color="#2fffd0"/><stop offset="0.9755" stop-color="#7cff83"/><stop offset="0.9787" stop-color="#efff10"/><stop offset="0.9803" stop-color="#ffd000"/><stop offset="0.9819" stop-color="#ffab00"/><stop offset="0.9868" stop-color="#ff7f00"/><stop offset="0.9997" stop-color="#ff7500"/></linearGradient>
<rect x="126.1" y="726.2" width="1240.4" height="8.7" fill="url(#hr10)"/>
<linearGradient id="hr11" gradientUnits="userSpaceOnUse" x1="126.1" y1="0" x2="1366.5" y2="0"><stop offset="0.0000" stop-color="#ff6d00"/><stop offset="0.0048" stop-color="#ff6d00"/><stop offset="0.0097" stop-color="#ff7f00"/><stop offset="0.0145" stop-color="#ffab00"/><stop offset="0.0193" stop-color="#ffee00"/><stop offset="0.0210" stop-color="#e2ff1d"/><stop offset="0.0242" stop-color="#69ff96"/><stop offset="0.0274" stop-color="#16ffe9"/><stop offset="0.0290" stop-color="#00f0ff"/><stop offset="0.0322" stop-color="#0086ff"/><stop offset="0.0355" stop-color="#0078ff"/><stop offset="0.0484" stop-color="#0074ff"/><stop offset="0.0597" stop-color="#007fff"/><stop offset="0.0629" stop-color="#00b9ff"/><stop offset="0.0677" stop-color="#00feff"/><stop offset="0.0887" stop-color="#9dff62"/><stop offset="0.1016" stop-color="#b1ff4e"/><stop offset="0.1096" stop-color="#adff52"/><stop offset="0.1177" stop-color="#92ff6d"/><stop offset="0.1242" stop-color="#65ff9a"/><stop offset="0.1322" stop-color="#10ffef"/><stop offset="0.1338" stop-color="#00f9ff"/><stop offset="0.1371" stop-color="#00c0ff"/><stop offset="0.1419" stop-color="#007eff"/><stop offset="0.1500" stop-color="#0077ff"/><stop offset="0.1629" stop-color="#007cff"/><stop offset="0.1645" stop-color="#0091ff"/><stop offset="0.1677" stop-color="#00f4ff"/><stop offset="0.1693" stop-color="#1fffe0"/><stop offset="0.1725" stop-color="#6cff93"/><stop offset="0.1741" stop-color="#9dff62"/><stop offset="0.1757" stop-color="#dfff20"/><stop offset="0.1774" stop-color="#fff300"/><stop offset="0.1838" stop-color="#ffa400"/><stop offset="0.1919" stop-color="#ff7400"/><stop offset="0.1951" stop-color="#ff7100"/><stop offset="0.2096" stop-color="#ff7700"/><stop offset="0.2112" stop-color="#ff8100"/><stop offset="0.2128" stop-color="#ff9c00"/><stop offset="0.2161" stop-color="#ffee00"/><stop offset="0.2177" stop-color="#d9ff26"/><stop offset="0.2193" stop-color="#a0ff5f"/><stop offset="0.2209" stop-color="#64ff9b"/><stop offset="0.2225" stop-color="#19ffe6"/><stop offset="0.2241" stop-color="#00deff"/><stop offset="0.2257" stop-color="#0096ff"/><stop offset="0.2273" stop-color="#007bff"/><stop offset="0.2370" stop-color="#0065ff"/><stop offset="0.2451" stop-color="#006bff"/><stop offset="0.2499" stop-color="#007aff"/><stop offset="0.2515" stop-color="#00c4ff"/><stop offset="0.2531" stop-color="#3bffc4"/><stop offset="0.2548" stop-color="#6dff92"/><stop offset="0.2580" stop-color="#88ff77"/><stop offset="0.2660" stop-color="#a4ff5b"/><stop offset="0.2693" stop-color="#ddff22"/><stop offset="0.2725" stop-color="#fffb00"/><stop offset="0.2854" stop-color="#f5ff0a"/><stop offset="0.3209" stop-color="#ffff00"/><stop offset="0.3322" stop-color="#ffec00"/><stop offset="0.3402" stop-color="#ffc200"/><stop offset="0.3467" stop-color="#ffd700"/><stop offset="0.3499" stop-color="#feff01"/><stop offset="0.3531" stop-color="#60ff9f"/><stop offset="0.3547" stop-color="#25ffda"/><stop offset="0.3563" stop-color="#00e3ff"/><stop offset="0.3596" stop-color="#007fff"/><stop offset="0.3660" stop-color="#007fff"/><stop offset="0.3676" stop-color="#008fff"/><stop offset="0.3692" stop-color="#00f5ff"/><stop offset="0.3725" stop-color="#61ff9e"/><stop offset="0.3757" stop-color="#daff25"/><stop offset="0.3773" stop-color="#ffd900"/><stop offset="0.3789" stop-color="#ffa900"/><stop offset="0.3805" stop-color="#ff8900"/><stop offset="0.3821" stop-color="#ff7b00"/><stop offset="0.3902" stop-color="#ff6c00"/><stop offset="0.3999" stop-color="#ff6f00"/><stop offset="0.4095" stop-color="#ff8700"/><stop offset="0.4128" stop-color="#ffb300"/><stop offset="0.4160" stop-color="#fffb00"/><stop offset="0.4224" stop-color="#1bffe4"/><stop offset="0.4241" stop-color="#00fbff"/><stop offset="0.4289" stop-color="#00eeff"/><stop offset="0.4305" stop-color="#20ffdf"/><stop offset="0.4370" stop-color="#c3ff3c"/><stop offset="0.4386" stop-color="#e1ff1e"/><stop offset="0.4418" stop-color="#fff900"/><stop offset="0.4466" stop-color="#ffce00"/><stop offset="0.4515" stop-color="#ffb600"/><stop offset="0.4773" stop-color="#ff9a00"/><stop offset="0.4837" stop-color="#ff8a00"/><stop offset="0.4869" stop-color="#ff5900"/><stop offset="0.4918" stop-color="#ff5e00"/><stop offset="0.5047" stop-color="#ff8700"/><stop offset="0.5256" stop-color="#ff8f00"/><stop offset="0.5482" stop-color="#ffae00"/><stop offset="0.5530" stop-color="#ffcb00"/><stop offset="0.5579" stop-color="#fff700"/><stop offset="0.5595" stop-color="#ebff14"/><stop offset="0.5643" stop-color="#b8ff47"/><stop offset="0.5692" stop-color="#acff53"/><stop offset="0.5756" stop-color="#f2ff0d"/><stop offset="0.5772" stop-color="#ffe900"/><stop offset="0.5805" stop-color="#ffaf00"/><stop offset="0.5837" stop-color="#ff8600"/><stop offset="0.5885" stop-color="#ff7200"/><stop offset="0.6079" stop-color="#ff7d00"/><stop offset="0.6127" stop-color="#ffae00"/><stop offset="0.6175" stop-color="#fff900"/><stop offset="0.6192" stop-color="#ecff13"/><stop offset="0.6224" stop-color="#c8ff37"/><stop offset="0.6288" stop-color="#b8ff47"/><stop offset="0.6353" stop-color="#c0ff3f"/><stop offset="0.6450" stop-color="#fbff04"/><stop offset="0.6466" stop-color="#ffeb00"/><stop offset="0.6498" stop-color="#ffcc00"/><stop offset="0.6546" stop-color="#ffc000"/><stop offset="0.6949" stop-color="#ffac00"/><stop offset="0.7223" stop-color="#ffb000"/><stop offset="0.7433" stop-color="#ff9b00"/><stop offset="0.7481" stop-color="#ffa500"/><stop offset="0.7498" stop-color="#ffb600"/><stop offset="0.7530" stop-color="#fcff03"/><stop offset="0.7578" stop-color="#bdff42"/><stop offset="0.7643" stop-color="#a4ff5b"/><stop offset="0.7691" stop-color="#beff41"/><stop offset="0.7723" stop-color="#ecff13"/><stop offset="0.7739" stop-color="#fffb00"/><stop offset="0.7788" stop-color="#ffab00"/><stop offset="0.7836" stop-color="#ff7a00"/><stop offset="0.7981" stop-color="#ff7400"/><stop offset="0.8046" stop-color="#ff7f00"/><stop offset="0.8078" stop-color="#ffa200"/><stop offset="0.8110" stop-color="#ffe300"/><stop offset="0.8126" stop-color="#f3ff0c"/><stop offset="0.8175" stop-color="#91ff6e"/><stop offset="0.8207" stop-color="#2dffd2"/><stop offset="0.8255" stop-color="#01fffe"/><stop offset="0.8304" stop-color="#90ff6f"/><stop offset="0.8320" stop-color="#b2ff4d"/><stop offset="0.8352" stop-color="#ddff22"/><stop offset="0.8401" stop-color="#fff600"/><stop offset="0.8449" stop-color="#ffdf00"/><stop offset="0.8707" stop-color="#ffd900"/><stop offset="0.9529" stop-color="#ffd900"/><stop offset="0.9561" stop-color="#fff200"/><stop offset="0.9578" stop-color="#f8ff07"/><stop offset="0.9626" stop-color="#a6ff59"/><stop offset="0.9690" stop-color="#6dff92"/><stop offset="0.9707" stop-color="#77ff88"/><stop offset="0.9739" stop-color="#a1ff5e"/><stop offset="0.9755" stop-color="#c0ff3f"/><stop offset="0.9771" stop-color="#f9ff06"/><stop offset="0.9803" stop-color="#ff9c00"/><stop offset="0.9819" stop-color="#ff8200"/><stop offset="0.9868" stop-color="#ff7200"/><stop offset="0.9997" stop-color="#ff6b00"/></linearGradient>
<rect x="126.1" y="734.6" width="1240.4" height="9.1" fill="url(#hr11)"/>
<linearGradient id="hr12" gradientUnits="userSpaceOnUse" x1="126.1" y1="0" x2="1366.5" y2="0"><stop offset="0.0000" stop-color="#ff5900"/><stop offset="0.0064" stop-color="#ff5c00"/><stop offset="0.0129" stop-color="#ff7c00"/><stop offset="0.0177" stop-color="#ffb000"/><stop offset="0.0226" stop-color="#ffff00"/><stop offset="0.0274" stop-color="#7aff85"/><stop offset="0.0339" stop-color="#0bfff4"/><stop offset="0.0355" stop-color="#00e7ff"/><stop offset="0.0419" stop-color="#008fff"/><stop offset="0.0484" stop-color="#00b0ff"/><stop offset="0.0516" stop-color="#00c4ff"/><stop offset="0.0564" stop-color="#04fffb"/><stop offset="0.0661" stop-color="#51ffae"/><stop offset="0.0758" stop-color="#84ff7b"/><stop offset="0.0887" stop-color="#daff25"/><stop offset="0.1032" stop-color="#e2ff1d"/><stop offset="0.1096" stop-color="#e0ff1f"/><stop offset="0.1161" stop-color="#ccff33"/><stop offset="0.1290" stop-color="#87ff78"/><stop offset="0.1419" stop-color="#09fff6"/><stop offset="0.1435" stop-color="#00f7ff"/><stop offset="0.1500" stop-color="#00caff"/><stop offset="0.1564" stop-color="#00caff"/><stop offset="0.1612" stop-color="#00f8ff"/><stop offset="0.1629" stop-color="#07fff8"/><stop offset="0.1709" stop-color="#aaff55"/><stop offset="0.1741" stop-color="#fff400"/><stop offset="0.1822" stop-color="#ff8f00"/><stop offset="0.1919" stop-color="#ff6600"/><stop offset="0.1951" stop-color="#ff6400"/><stop offset="0.2112" stop-color="#ff6e00"/><stop offset="0.2144" stop-color="#ff9000"/><stop offset="0.2177" stop-color="#ffec00"/><stop offset="0.2193" stop-color="#e0ff1f"/><stop offset="0.2257" stop-color="#19ffe6"/><stop offset="0.2273" stop-color="#00e7ff"/><stop offset="0.2306" stop-color="#007fff"/><stop offset="0.2419" stop-color="#0075ff"/><stop offset="0.2467" stop-color="#007eff"/><stop offset="0.2483" stop-color="#009eff"/><stop offset="0.2515" stop-color="#01fffe"/><stop offset="0.2531" stop-color="#68ff97"/><stop offset="0.2548" stop-color="#90ff6f"/><stop offset="0.2644" stop-color="#b9ff46"/><stop offset="0.2660" stop-color="#cbff34"/><stop offset="0.2677" stop-color="#fff600"/><stop offset="0.2693" stop-color="#ffdb00"/><stop offset="0.2741" stop-color="#ffbc00"/><stop offset="0.3031" stop-color="#ffd700"/><stop offset="0.3209" stop-color="#ffc500"/><stop offset="0.3289" stop-color="#ffb000"/><stop offset="0.3354" stop-color="#ff7a00"/><stop offset="0.3402" stop-color="#ff6500"/><stop offset="0.3467" stop-color="#ff7300"/><stop offset="0.3483" stop-color="#ff8000"/><stop offset="0.3531" stop-color="#ffc800"/><stop offset="0.3579" stop-color="#fcff03"/><stop offset="0.3596" stop-color="#96ff69"/><stop offset="0.3612" stop-color="#51ffae"/><stop offset="0.3628" stop-color="#3affc5"/><stop offset="0.3644" stop-color="#3bffc4"/><stop offset="0.3676" stop-color="#54ffab"/><stop offset="0.3692" stop-color="#89ff76"/><stop offset="0.3725" stop-color="#caff35"/><stop offset="0.3741" stop-color="#feff01"/><stop offset="0.3757" stop-color="#ffc000"/><stop offset="0.3773" stop-color="#ff8400"/><stop offset="0.3805" stop-color="#ff6f00"/><stop offset="0.3902" stop-color="#ff6100"/><stop offset="0.4031" stop-color="#ff6500"/><stop offset="0.4128" stop-color="#ff7f00"/><stop offset="0.4192" stop-color="#fffd00"/><stop offset="0.4224" stop-color="#b0ff4f"/><stop offset="0.4241" stop-color="#9dff62"/><stop offset="0.4289" stop-color="#94ff6b"/><stop offset="0.4353" stop-color="#f4ff0b"/><stop offset="0.4370" stop-color="#fff000"/><stop offset="0.4434" stop-color="#ffac00"/><stop offset="0.4482" stop-color="#ff9400"/><stop offset="0.4579" stop-color="#ff8000"/><stop offset="0.4773" stop-color="#ff7100"/><stop offset="0.4821" stop-color="#ff5600"/><stop offset="0.4869" stop-color="#ff2400"/><stop offset="0.4902" stop-color="#ff1f00"/><stop offset="0.5095" stop-color="#ff6400"/><stop offset="0.5482" stop-color="#ff8a00"/><stop offset="0.5547" stop-color="#ffa900"/><stop offset="0.5643" stop-color="#fff400"/><stop offset="0.5676" stop-color="#fdff02"/><stop offset="0.5708" stop-color="#fdff02"/><stop offset="0.5756" stop-color="#ffc800"/><stop offset="0.5788" stop-color="#ff9000"/><stop offset="0.5805" stop-color="#ff7f00"/><stop offset="0.5885" stop-color="#ff6500"/><stop offset="0.6046" stop-color="#ff6700"/><stop offset="0.6111" stop-color="#ff7500"/><stop offset="0.6127" stop-color="#ff7d00"/><stop offset="0.6192" stop-color="#ffca00"/><stop offset="0.6224" stop-color="#ffe000"/><stop offset="0.6321" stop-color="#fffe00"/><stop offset="0.6369" stop-color="#ffff00"/><stop offset="0.6417" stop-color="#ffee00"/><stop offset="0.6450" stop-color="#ffc000"/><stop offset="0.6498" stop-color="#ffa500"/><stop offset="0.6804" stop-color="#ff9a00"/><stop offset="0.6949" stop-color="#ff8a00"/><stop offset="0.7256" stop-color="#ff8d00"/><stop offset="0.7352" stop-color="#ff8400"/><stop offset="0.7481" stop-color="#ff5c00"/><stop offset="0.7498" stop-color="#ff6b00"/><stop offset="0.7546" stop-color="#ffdc00"/><stop offset="0.7562" stop-color="#fff700"/><stop offset="0.7578" stop-color="#f4ff0b"/><stop offset="0.7643" stop-color="#e3ff1c"/><stop offset="0.7691" stop-color="#fffa00"/><stop offset="0.7772" stop-color="#ff8c00"/><stop offset="0.7820" stop-color="#ff6f00"/><stop offset="0.7981" stop-color="#ff6600"/><stop offset="0.8030" stop-color="#ff6b00"/><stop offset="0.8094" stop-color="#ff8500"/><stop offset="0.8143" stop-color="#fff400"/><stop offset="0.8159" stop-color="#e7ff18"/><stop offset="0.8207" stop-color="#9cff63"/><stop offset="0.8255" stop-color="#8bff74"/><stop offset="0.8352" stop-color="#f6ff09"/><stop offset="0.8368" stop-color="#fff300"/><stop offset="0.8384" stop-color="#ffd800"/><stop offset="0.8401" stop-color="#ffcd00"/><stop offset="0.8449" stop-color="#ffc100"/><stop offset="0.9529" stop-color="#ffbc00"/><stop offset="0.9545" stop-color="#ffc100"/><stop offset="0.9610" stop-color="#fffb00"/><stop offset="0.9626" stop-color="#ebff14"/><stop offset="0.9690" stop-color="#c2ff3d"/><stop offset="0.9707" stop-color="#c8ff37"/><stop offset="0.9739" stop-color="#f0ff0f"/><stop offset="0.9755" stop-color="#fff500"/><stop offset="0.9771" stop-color="#ffaf00"/><stop offset="0.9787" stop-color="#ff7f00"/><stop offset="0.9803" stop-color="#ff7400"/><stop offset="0.9884" stop-color="#ff6300"/><stop offset="0.9997" stop-color="#ff6100"/></linearGradient>
<rect x="126.1" y="743.4" width="1240.4" height="9.5" fill="url(#hr12)"/>
<linearGradient id="hr13" gradientUnits="userSpaceOnUse" x1="126.1" y1="0" x2="1366.5" y2="0"><stop offset="0.0000" stop-color="#ff4200"/><stop offset="0.0064" stop-color="#ff4500"/><stop offset="0.0129" stop-color="#ff5f00"/><stop offset="0.0177" stop-color="#ff8800"/><stop offset="0.0242" stop-color="#ffe100"/><stop offset="0.0274" stop-color="#faff05"/><stop offset="0.0339" stop-color="#91ff6e"/><stop offset="0.0419" stop-color="#45ffba"/><stop offset="0.0758" stop-color="#caff35"/><stop offset="0.0822" stop-color="#fffd00"/><stop offset="0.0887" stop-color="#ffe400"/><stop offset="0.0984" stop-color="#ffdd00"/><stop offset="0.1096" stop-color="#ffdf00"/><stop offset="0.1161" stop-color="#fff900"/><stop offset="0.1371" stop-color="#98ff67"/><stop offset="0.1500" stop-color="#70ff8f"/><stop offset="0.1564" stop-color="#70ff8f"/><stop offset="0.1629" stop-color="#94ff6b"/><stop offset="0.1677" stop-color="#c9ff36"/><stop offset="0.1693" stop-color="#f3ff0c"/><stop offset="0.1709" stop-color="#ffe900"/><stop offset="0.1790" stop-color="#ff8400"/><stop offset="0.1919" stop-color="#ff5600"/><stop offset="0.2112" stop-color="#ff5a00"/><stop offset="0.2144" stop-color="#ff7100"/><stop offset="0.2161" stop-color="#ff8b00"/><stop offset="0.2193" stop-color="#ffe000"/><stop offset="0.2209" stop-color="#fffe00"/><stop offset="0.2322" stop-color="#02fffd"/><stop offset="0.2370" stop-color="#00adff"/><stop offset="0.2419" stop-color="#00c9ff"/><stop offset="0.2451" stop-color="#00fdff"/><stop offset="0.2467" stop-color="#16ffe9"/><stop offset="0.2548" stop-color="#b3ff4c"/><stop offset="0.2644" stop-color="#dbff24"/><stop offset="0.2660" stop-color="#f6ff09"/><stop offset="0.2677" stop-color="#ffc600"/><stop offset="0.2693" stop-color="#ff9b00"/><stop offset="0.2725" stop-color="#ff8100"/><stop offset="0.2822" stop-color="#ff7f00"/><stop offset="0.3047" stop-color="#ffa400"/><stop offset="0.3273" stop-color="#ff7100"/><stop offset="0.3338" stop-color="#ff3e00"/><stop offset="0.3402" stop-color="#ff1f00"/><stop offset="0.3483" stop-color="#ff3000"/><stop offset="0.3628" stop-color="#ffc500"/><stop offset="0.3660" stop-color="#fff400"/><stop offset="0.3708" stop-color="#ffd700"/><stop offset="0.3741" stop-color="#ff7900"/><stop offset="0.3773" stop-color="#ff5800"/><stop offset="0.3886" stop-color="#ff5500"/><stop offset="0.4031" stop-color="#ff5600"/><stop offset="0.4128" stop-color="#ff6c00"/><stop offset="0.4160" stop-color="#ff8000"/><stop offset="0.4192" stop-color="#ffb700"/><stop offset="0.4224" stop-color="#ffdd00"/><stop offset="0.4289" stop-color="#ffea00"/><stop offset="0.4402" stop-color="#ff8100"/><stop offset="0.4724" stop-color="#ff5e00"/><stop offset="0.4773" stop-color="#ff4b00"/><stop offset="0.4837" stop-color="#fb0000"/><stop offset="0.4902" stop-color="#e90000"/><stop offset="0.4998" stop-color="#ff0200"/><stop offset="0.5079" stop-color="#ff3300"/><stop offset="0.5160" stop-color="#ff5100"/><stop offset="0.5482" stop-color="#ff6d00"/><stop offset="0.5692" stop-color="#ffa800"/><stop offset="0.5708" stop-color="#ffa700"/><stop offset="0.5788" stop-color="#ff6c00"/><stop offset="0.5837" stop-color="#ff5900"/><stop offset="0.5885" stop-color="#ff5600"/><stop offset="0.6111" stop-color="#ff5a00"/><stop offset="0.6192" stop-color="#ff7c00"/><stop offset="0.6272" stop-color="#ff7300"/><stop offset="0.6530" stop-color="#ff7e00"/><stop offset="0.6837" stop-color="#ff7800"/><stop offset="0.6901" stop-color="#ff6300"/><stop offset="0.6933" stop-color="#ff4300"/><stop offset="0.7014" stop-color="#ff3400"/><stop offset="0.7127" stop-color="#ff5b00"/><stop offset="0.7288" stop-color="#ff5a00"/><stop offset="0.7385" stop-color="#ff4700"/><stop offset="0.7481" stop-color="#ff0100"/><stop offset="0.7498" stop-color="#ff0300"/><stop offset="0.7514" stop-color="#ff1c00"/><stop offset="0.7562" stop-color="#ff9800"/><stop offset="0.7578" stop-color="#ffae00"/><stop offset="0.7610" stop-color="#ffc100"/><stop offset="0.7643" stop-color="#ffc200"/><stop offset="0.7691" stop-color="#ffa400"/><stop offset="0.7723" stop-color="#ff8200"/><stop offset="0.7820" stop-color="#ff5a00"/><stop offset="0.8014" stop-color="#ff5700"/><stop offset="0.8110" stop-color="#ff7800"/><stop offset="0.8126" stop-color="#ff8900"/><stop offset="0.8159" stop-color="#ffd300"/><stop offset="0.8191" stop-color="#fbff04"/><stop offset="0.8207" stop-color="#e9ff16"/><stop offset="0.8255" stop-color="#ddff22"/><stop offset="0.8320" stop-color="#fffd00"/><stop offset="0.8368" stop-color="#ffb400"/><stop offset="0.8401" stop-color="#ff9e00"/><stop offset="0.9465" stop-color="#ffa400"/><stop offset="0.9545" stop-color="#ff9c00"/><stop offset="0.9626" stop-color="#ffd300"/><stop offset="0.9690" stop-color="#ffe900"/><stop offset="0.9723" stop-color="#ffd300"/><stop offset="0.9739" stop-color="#ffb900"/><stop offset="0.9771" stop-color="#ff6d00"/><stop offset="0.9787" stop-color="#ff6000"/><stop offset="0.9997" stop-color="#ff5500"/></linearGradient>
<rect x="126.1" y="752.6" width="1240.4" height="11.3" fill="url(#hr13)"/>
<linearGradient id="hr14" gradientUnits="userSpaceOnUse" x1="126.1" y1="0" x2="1366.5" y2="0"><stop offset="0.0000" stop-color="#ff2800"/><stop offset="0.0048" stop-color="#ff2800"/><stop offset="0.0129" stop-color="#ff3e00"/><stop offset="0.0210" stop-color="#ff7d00"/><stop offset="0.0274" stop-color="#ffc800"/><stop offset="0.0355" stop-color="#fffd00"/><stop offset="0.0371" stop-color="#efff10"/><stop offset="0.0419" stop-color="#b0ff4f"/><stop offset="0.0435" stop-color="#b0ff4f"/><stop offset="0.0516" stop-color="#bbff44"/><stop offset="0.0677" stop-color="#fffe00"/><stop offset="0.0758" stop-color="#ffe500"/><stop offset="0.0887" stop-color="#ff9e00"/><stop offset="0.0984" stop-color="#ff8d00"/><stop offset="0.1161" stop-color="#ff9700"/><stop offset="0.1225" stop-color="#ffce00"/><stop offset="0.1338" stop-color="#f9ff06"/><stop offset="0.1387" stop-color="#e0ff1f"/><stop offset="0.1500" stop-color="#d7ff28"/><stop offset="0.1564" stop-color="#e0ff1f"/><stop offset="0.1629" stop-color="#feff01"/><stop offset="0.1661" stop-color="#ffe700"/><stop offset="0.1709" stop-color="#ff9a00"/><stop offset="0.1741" stop-color="#ff7d00"/><stop offset="0.1919" stop-color="#ff4400"/><stop offset="0.2096" stop-color="#ff4300"/><stop offset="0.2112" stop-color="#ff4300"/><stop offset="0.2144" stop-color="#ff5900"/><stop offset="0.2177" stop-color="#ff7c00"/><stop offset="0.2225" stop-color="#ffde00"/><stop offset="0.2257" stop-color="#feff01"/><stop offset="0.2306" stop-color="#a4ff5b"/><stop offset="0.2370" stop-color="#84ff7b"/><stop offset="0.2499" stop-color="#b0ff4f"/><stop offset="0.2548" stop-color="#dbff24"/><stop offset="0.2628" stop-color="#f9ff06"/><stop offset="0.2644" stop-color="#fffa00"/><stop offset="0.2677" stop-color="#ff8f00"/><stop offset="0.2693" stop-color="#ff7200"/><stop offset="0.2789" stop-color="#ff6500"/><stop offset="0.3031" stop-color="#ff7600"/><stop offset="0.3160" stop-color="#ff6900"/><stop offset="0.3241" stop-color="#ff4f00"/><stop offset="0.3322" stop-color="#f80000"/><stop offset="0.3418" stop-color="#e20000"/><stop offset="0.3467" stop-color="#e50000"/><stop offset="0.3531" stop-color="#fa0000"/><stop offset="0.3547" stop-color="#ff0800"/><stop offset="0.3612" stop-color="#ff5300"/><stop offset="0.3660" stop-color="#ff6200"/><stop offset="0.3773" stop-color="#ff2a00"/><stop offset="0.3789" stop-color="#ff3b00"/><stop offset="0.3837" stop-color="#ff4400"/><stop offset="0.4095" stop-color="#ff4e00"/><stop offset="0.4241" stop-color="#ff8700"/><stop offset="0.4434" stop-color="#ff5d00"/><stop offset="0.4708" stop-color="#ff4600"/><stop offset="0.4757" stop-color="#ff2e00"/><stop offset="0.4789" stop-color="#ff0700"/><stop offset="0.4805" stop-color="#ec0000"/><stop offset="0.4837" stop-color="#cc0000"/><stop offset="0.4902" stop-color="#ba0000"/><stop offset="0.4982" stop-color="#c90000"/><stop offset="0.5079" stop-color="#fe0000"/><stop offset="0.5160" stop-color="#ff2f00"/><stop offset="0.5224" stop-color="#ff3f00"/><stop offset="0.5643" stop-color="#ff6600"/><stop offset="0.5724" stop-color="#ff6400"/><stop offset="0.5837" stop-color="#ff3f00"/><stop offset="0.6030" stop-color="#ff4500"/><stop offset="0.6127" stop-color="#ff3800"/><stop offset="0.6192" stop-color="#ff4c00"/><stop offset="0.6530" stop-color="#ff6800"/><stop offset="0.6820" stop-color="#ff6100"/><stop offset="0.6885" stop-color="#ff3c00"/><stop offset="0.6917" stop-color="#fe0000"/><stop offset="0.6933" stop-color="#ee0000"/><stop offset="0.7014" stop-color="#e20000"/><stop offset="0.7094" stop-color="#ff0000"/><stop offset="0.7159" stop-color="#ff1a00"/><stop offset="0.7256" stop-color="#ff1f00"/><stop offset="0.7369" stop-color="#ff1100"/><stop offset="0.7401" stop-color="#fc0000"/><stop offset="0.7481" stop-color="#d00000"/><stop offset="0.7546" stop-color="#ed0000"/><stop offset="0.7562" stop-color="#ff2500"/><stop offset="0.7578" stop-color="#ff5100"/><stop offset="0.7594" stop-color="#ff6400"/><stop offset="0.7627" stop-color="#ff7300"/><stop offset="0.7820" stop-color="#ff4200"/><stop offset="0.8014" stop-color="#ff4400"/><stop offset="0.8143" stop-color="#ff7700"/><stop offset="0.8207" stop-color="#ffb400"/><stop offset="0.8255" stop-color="#ffba00"/><stop offset="0.8336" stop-color="#ff8300"/><stop offset="0.8384" stop-color="#ff7900"/><stop offset="0.8658" stop-color="#ff7f00"/><stop offset="0.8836" stop-color="#ff7500"/><stop offset="0.8916" stop-color="#ff8000"/><stop offset="0.9465" stop-color="#ff8300"/><stop offset="0.9545" stop-color="#ff7900"/><stop offset="0.9674" stop-color="#ff9900"/><stop offset="0.9723" stop-color="#ff7f00"/><stop offset="0.9787" stop-color="#ff3c00"/><stop offset="0.9997" stop-color="#ff4700"/></linearGradient>
<rect x="126.1" y="763.6" width="1240.4" height="12.4" fill="url(#hr14)"/>
<linearGradient id="hr15" gradientUnits="userSpaceOnUse" x1="126.1" y1="0" x2="1366.5" y2="0"><stop offset="0.0000" stop-color="#ff0c00"/><stop offset="0.0129" stop-color="#ff1a00"/><stop offset="0.0210" stop-color="#ff6400"/><stop offset="0.0387" stop-color="#ffd100"/><stop offset="0.0419" stop-color="#fffc00"/><stop offset="0.0435" stop-color="#ffff00"/><stop offset="0.0516" stop-color="#fff400"/><stop offset="0.0597" stop-color="#ffbe00"/><stop offset="0.0693" stop-color="#ff9d00"/><stop offset="0.0855" stop-color="#ff7900"/><stop offset="0.1161" stop-color="#ff7300"/><stop offset="0.1242" stop-color="#ff7f00"/><stop offset="0.1387" stop-color="#ffb500"/><stop offset="0.1548" stop-color="#ffbc00"/><stop offset="0.1645" stop-color="#ff9500"/><stop offset="0.1661" stop-color="#ff7f00"/><stop offset="0.1806" stop-color="#ff5400"/><stop offset="0.1854" stop-color="#ff3900"/><stop offset="0.2064" stop-color="#ff3500"/><stop offset="0.2112" stop-color="#ff2900"/><stop offset="0.2144" stop-color="#ff3e00"/><stop offset="0.2209" stop-color="#ff8000"/><stop offset="0.2241" stop-color="#ffb600"/><stop offset="0.2306" stop-color="#f9ff06"/><stop offset="0.2338" stop-color="#d4ff2b"/><stop offset="0.2354" stop-color="#d6ff29"/><stop offset="0.2402" stop-color="#fffa00"/><stop offset="0.2419" stop-color="#ffe000"/><stop offset="0.2435" stop-color="#ffd900"/><stop offset="0.2483" stop-color="#feff01"/><stop offset="0.2515" stop-color="#faff05"/><stop offset="0.2612" stop-color="#ffd300"/><stop offset="0.2644" stop-color="#ffb100"/><stop offset="0.2660" stop-color="#ff8700"/><stop offset="0.2693" stop-color="#ff5b00"/><stop offset="0.2806" stop-color="#ff4a00"/><stop offset="0.3031" stop-color="#ff5b00"/><stop offset="0.3112" stop-color="#ff5300"/><stop offset="0.3209" stop-color="#ff3800"/><stop offset="0.3257" stop-color="#ff0900"/><stop offset="0.3273" stop-color="#f00000"/><stop offset="0.3322" stop-color="#c50000"/><stop offset="0.3418" stop-color="#af0000"/><stop offset="0.3467" stop-color="#b10000"/><stop offset="0.3531" stop-color="#c70000"/><stop offset="0.3612" stop-color="#ff0200"/><stop offset="0.3628" stop-color="#ff0b00"/><stop offset="0.3773" stop-color="#f60000"/><stop offset="0.3789" stop-color="#ff1900"/><stop offset="0.3837" stop-color="#ff2f00"/><stop offset="0.3902" stop-color="#ff3800"/><stop offset="0.4047" stop-color="#ff3300"/><stop offset="0.4241" stop-color="#ff5f00"/><stop offset="0.4482" stop-color="#ff3b00"/><stop offset="0.4708" stop-color="#ff2800"/><stop offset="0.4757" stop-color="#ff0600"/><stop offset="0.4773" stop-color="#ef0000"/><stop offset="0.4805" stop-color="#b90000"/><stop offset="0.4821" stop-color="#a90000"/><stop offset="0.5015" stop-color="#a80000"/><stop offset="0.5095" stop-color="#d40000"/><stop offset="0.5144" stop-color="#ff0000"/><stop offset="0.5240" stop-color="#ff2500"/><stop offset="0.5627" stop-color="#ff3b00"/><stop offset="0.5708" stop-color="#ff3b00"/><stop offset="0.5837" stop-color="#ff2400"/><stop offset="0.5885" stop-color="#ff3300"/><stop offset="0.6030" stop-color="#ff3100"/><stop offset="0.6079" stop-color="#ff2900"/><stop offset="0.6127" stop-color="#ff1100"/><stop offset="0.6256" stop-color="#ff2000"/><stop offset="0.6369" stop-color="#ff4100"/><stop offset="0.6514" stop-color="#ff5000"/><stop offset="0.6820" stop-color="#ff4600"/><stop offset="0.6853" stop-color="#ff3100"/><stop offset="0.6885" stop-color="#ff0800"/><stop offset="0.6901" stop-color="#e90000"/><stop offset="0.6933" stop-color="#bb0000"/><stop offset="0.7014" stop-color="#af0000"/><stop offset="0.7143" stop-color="#db0000"/><stop offset="0.7288" stop-color="#e50000"/><stop offset="0.7385" stop-color="#d50000"/><stop offset="0.7449" stop-color="#a90000"/><stop offset="0.7514" stop-color="#a80000"/><stop offset="0.7546" stop-color="#ba0000"/><stop offset="0.7578" stop-color="#fb0000"/><stop offset="0.7594" stop-color="#ff2700"/><stop offset="0.7627" stop-color="#ff4d00"/><stop offset="0.7804" stop-color="#ff2900"/><stop offset="0.8014" stop-color="#ff3000"/><stop offset="0.8207" stop-color="#ff7300"/><stop offset="0.8384" stop-color="#ff6700"/><stop offset="0.8658" stop-color="#ff6d00"/><stop offset="0.8755" stop-color="#ff6200"/><stop offset="0.8787" stop-color="#ff4c00"/><stop offset="0.8820" stop-color="#fe0000"/><stop offset="0.8852" stop-color="#f00000"/><stop offset="0.8868" stop-color="#fc0000"/><stop offset="0.8900" stop-color="#ff2600"/><stop offset="0.8916" stop-color="#ff4800"/><stop offset="0.8949" stop-color="#ff6000"/><stop offset="0.9062" stop-color="#ff6d00"/><stop offset="0.9658" stop-color="#ff6700"/><stop offset="0.9787" stop-color="#ff1500"/><stop offset="0.9868" stop-color="#ff3300"/><stop offset="0.9997" stop-color="#ff3900"/></linearGradient>
<rect x="126.1" y="775.7" width="1240.4" height="13.3" fill="url(#hr15)"/>
<ellipse cx="134" cy="638" rx="14" ry="7.6" fill="#004dff" opacity="0.75"/>
<ellipse cx="319" cy="638" rx="26" ry="7.6" fill="#004dff" opacity="0.75"/>
<ellipse cx="419" cy="638" rx="25" ry="7.6" fill="#004dff" opacity="0.75"/>
<ellipse cx="568" cy="638" rx="28" ry="7.6" fill="#004dff" opacity="0.75"/>
<ellipse cx="668" cy="638" rx="26" ry="7.6" fill="#004dff" opacity="0.75"/>
<ellipse cx="816" cy="638" rx="28" ry="7.6" fill="#004dff" opacity="0.75"/>
<ellipse cx="924" cy="638" rx="34" ry="7.6" fill="#004dff" opacity="0.75"/>
<ellipse cx="1065" cy="638" rx="25" ry="7.6" fill="#004dff" opacity="0.75"/>
<ellipse cx="1160" cy="638" rx="22" ry="7.6" fill="#004dff" opacity="0.75"/>
<ellipse cx="1314" cy="638" rx="24" ry="7.6" fill="#004dff" opacity="0.75"/>
<rect x="142" y="668.9" width="214" height="7.3" fill="#fff" opacity="0.32"/>
<rect x="142" y="668.9" width="214" height="7.3" fill="url(#rp3)"/>
<rect x="390" y="668.9" width="212" height="7.3" fill="#fff" opacity="0.32"/>
<rect x="390" y="668.9" width="212" height="7.3" fill="url(#rp3)"/>
<rect x="632" y="668.9" width="54" height="7.3" fill="#fff" opacity="0.32"/>
<rect x="632" y="668.9" width="54" height="7.3" fill="url(#rp3)"/>
<rect x="810" y="668.9" width="40" height="7.3" fill="#fff" opacity="0.32"/>
<rect x="810" y="668.9" width="40" height="7.3" fill="url(#rp3)"/>
<rect x="882" y="668.9" width="40" height="7.3" fill="#fff" opacity="0.32"/>
<rect x="882" y="668.9" width="40" height="7.3" fill="url(#rp3)"/>
<rect x="1056" y="668.9" width="40" height="7.3" fill="#fff" opacity="0.32"/>
<rect x="1056" y="668.9" width="40" height="7.3" fill="url(#rp3)"/>
<rect x="1126" y="668.9" width="34" height="7.3" fill="#fff" opacity="0.32"/>
<rect x="1126" y="668.9" width="34" height="7.3" fill="url(#rp3)"/>
<rect x="1312" y="668.9" width="30" height="7.3" fill="#fff" opacity="0.32"/>
<rect x="1312" y="668.9" width="30" height="7.3" fill="url(#rp3)"/>
<rect x="146" y="676.2" width="206" height="6.8" fill="#fff" opacity="0.16"/>
<rect x="146" y="676.2" width="206" height="6.8" fill="url(#rp4)"/>
<rect x="392" y="676.2" width="206" height="6.8" fill="#fff" opacity="0.16"/>
<rect x="392" y="676.2" width="206" height="6.8" fill="url(#rp4)"/>
<rect x="636" y="676.2" width="38" height="6.8" fill="#fff" opacity="0.16"/>
<rect x="636" y="676.2" width="38" height="6.8" fill="url(#rp4)"/>
<rect x="812" y="676.2" width="36" height="6.8" fill="#fff" opacity="0.16"/>
<rect x="812" y="676.2" width="36" height="6.8" fill="url(#rp4)"/>
<rect x="884" y="676.2" width="38" height="6.8" fill="#fff" opacity="0.16"/>
<rect x="884" y="676.2" width="38" height="6.8" fill="url(#rp4)"/>
<rect x="1058" y="676.2" width="34" height="6.8" fill="#fff" opacity="0.16"/>
<rect x="1058" y="676.2" width="34" height="6.8" fill="url(#rp4)"/>
<rect x="1130" y="676.2" width="30" height="6.8" fill="#fff" opacity="0.16"/>
<rect x="1130" y="676.2" width="30" height="6.8" fill="url(#rp4)"/>
<rect x="1312" y="676.2" width="28" height="6.8" fill="#fff" opacity="0.16"/>
<rect x="1312" y="676.2" width="28" height="6.8" fill="url(#rp4)"/>
<rect x="148" y="683.0" width="202" height="8.3" fill="url(#rp5)"/>
<rect x="394" y="683.0" width="202" height="8.3" fill="url(#rp5)"/>
<rect x="638" y="683.0" width="32" height="8.3" fill="url(#rp5)"/>
<rect x="812" y="683.0" width="32" height="8.3" fill="url(#rp5)"/>
<rect x="886" y="683.0" width="34" height="8.3" fill="url(#rp5)"/>
<rect x="1060" y="683.0" width="30" height="8.3" fill="url(#rp5)"/>
<rect x="1132" y="683.0" width="26" height="8.3" fill="url(#rp5)"/>
<rect x="1314" y="683.0" width="26" height="8.3" fill="url(#rp5)"/>
<rect x="150" y="691.3" width="196" height="8.8" fill="url(#rp6)"/>
<rect x="396" y="691.3" width="46" height="8.8" fill="url(#rp6)"/>
<rect x="552" y="691.3" width="42" height="8.8" fill="url(#rp6)"/>
<rect x="640" y="691.3" width="30" height="8.8" fill="url(#rp6)"/>
<rect x="814" y="691.3" width="28" height="8.8" fill="url(#rp6)"/>
<rect x="890" y="691.3" width="28" height="8.8" fill="url(#rp6)"/>
<rect x="1062" y="691.3" width="26" height="8.8" fill="url(#rp6)"/>
<rect x="1134" y="691.3" width="24" height="8.8" fill="url(#rp6)"/>
<rect x="1316" y="691.3" width="22" height="8.8" fill="url(#rp6)"/>
<rect x="152" y="700.1" width="82" height="12.6" fill="url(#rp7)"/>
<rect x="270" y="700.1" width="74" height="12.6" fill="url(#rp7)"/>
<rect x="398" y="700.1" width="40" height="12.6" fill="url(#rp7)"/>
<rect x="558" y="700.1" width="34" height="12.6" fill="url(#rp7)"/>
<rect x="642" y="700.1" width="24" height="12.6" fill="url(#rp7)"/>
<rect x="818" y="700.1" width="20" height="12.6" fill="url(#rp7)"/>
<rect x="894" y="700.1" width="22" height="12.6" fill="url(#rp7)"/>
<rect x="1064" y="700.1" width="20" height="12.6" fill="url(#rp7)"/>
<rect x="1136" y="700.1" width="20" height="12.6" fill="url(#rp7)"/>
<rect x="1318" y="700.1" width="18" height="12.6" fill="url(#rp7)"/>
<rect x="156" y="712.7" width="68" height="7.1" fill="url(#rp8)"/>
<rect x="280" y="712.7" width="60" height="7.1" fill="url(#rp8)"/>
<rect x="400" y="712.7" width="38" height="7.1" fill="url(#rp8)"/>
<rect x="562" y="712.7" width="28" height="7.1" fill="url(#rp8)"/>
<rect x="644" y="712.7" width="20" height="7.1" fill="url(#rp8)"/>
<rect x="824" y="712.7" width="10" height="7.1" fill="url(#rp8)"/>
<rect x="898" y="712.7" width="12" height="7.1" fill="url(#rp8)"/>
<rect x="1068" y="712.7" width="10" height="7.1" fill="url(#rp8)"/>
<rect x="1140" y="712.7" width="14" height="7.1" fill="url(#rp8)"/>
<rect x="1320" y="712.7" width="14" height="7.1" fill="url(#rp8)"/>
<rect x="158" y="719.8" width="60" height="6.4" fill="url(#rp9)"/>
<rect x="286" y="719.8" width="52" height="6.4" fill="url(#rp9)"/>
<rect x="402" y="719.8" width="36" height="6.4" fill="url(#rp9)"/>
<rect x="564" y="719.8" width="24" height="6.4" fill="url(#rp9)"/>
<rect x="646" y="719.8" width="16" height="6.4" fill="url(#rp9)"/>
<rect x="1142" y="719.8" width="12" height="6.4" fill="url(#rp9)"/>
<rect x="1324" y="719.8" width="8" height="6.4" fill="url(#rp9)"/>
<rect x="162" y="726.2" width="48" height="8.4" fill="url(#rp10)"/>
<rect x="292" y="726.2" width="42" height="8.4" fill="url(#rp10)"/>
<rect x="404" y="726.2" width="34" height="8.4" fill="url(#rp10)"/>
<rect x="566" y="726.2" width="18" height="8.4" fill="url(#rp10)"/>
<rect x="650" y="726.2" width="8" height="8.4" fill="url(#rp10)"/>
<rect x="1146" y="726.2" width="4" height="8.4" fill="url(#rp10)"/>
<rect x="166" y="734.6" width="34" height="8.8" fill="url(#rp11)"/>
<rect x="302" y="734.6" width="26" height="8.8" fill="url(#rp11)"/>
<rect x="408" y="734.6" width="28" height="8.8" fill="url(#rp11)"/>
<rect x="572" y="734.6" width="8" height="8.8" fill="url(#rp11)"/>
<rect x="412" y="743.4" width="20" height="9.2" fill="url(#rp12)"/>
<rect x="197" y="631.0" width="93" height="6.1" fill="url(#sk1)"/>
<rect x="438" y="631.0" width="107" height="6.1" fill="url(#sk1)"/>
<rect x="683" y="631.0" width="104" height="6.1" fill="url(#sk1)"/>
<rect x="938" y="631.0" width="100" height="6.1" fill="url(#sk2)"/>
<rect x="1178" y="631.0" width="114" height="6.1" fill="url(#sk2)"/>
<rect x="210" y="637.1" width="72" height="8.0" fill="url(#sk2)"/>
<rect x="441" y="637.1" width="97" height="8.0" fill="url(#sk1)"/>
<rect x="697" y="637.1" width="63" height="8.0" fill="url(#sk2)"/>
<rect x="967" y="637.1" width="55" height="8.0" fill="url(#sk3)"/>
<rect x="1215" y="637.1" width="30" height="8.0" fill="url(#sk3)"/>
<rect x="141" y="633.0" width="8" height="12.1" fill="url(#sk1)"/>
<rect x="348" y="633.0" width="14" height="12.1" fill="url(#sk1)"/>
<rect x="383" y="633.0" width="13" height="12.1" fill="url(#sk1)"/>
<rect x="592" y="633.0" width="10" height="12.1" fill="url(#sk1)"/>
<rect x="636" y="633.0" width="9" height="12.1" fill="url(#sk1)"/>
<rect x="843" y="633.0" width="9" height="12.1" fill="url(#sk1)"/>
<rect x="882" y="633.0" width="10" height="12.1" fill="url(#sk1)"/>
<rect x="1090" y="633.0" width="10" height="12.1" fill="url(#sk1)"/>
<rect x="1128" y="633.0" width="11" height="12.1" fill="url(#sk1)"/>
<rect x="1337" y="633.0" width="9" height="12.1" fill="url(#sk1)"/>
<rect x="333" y="645.1" width="6" height="23.8" fill="#fff"/>
<rect x="1051" y="645.1" width="8.5" height="23.8" fill="#fff"/>
<rect x="1338" y="645.1" width="5.5" height="23.8" fill="#fff"/>
<linearGradient id="les" x1="0" y1="0" x2="0" y2="1"><stop offset="0" stop-color="#00f0ff"/><stop offset="0.5" stop-color="#4dffb2"/><stop offset="1" stop-color="#faff05"/></linearGradient>
<rect x="126.5" y="645.1" width="4.5" height="143.6" fill="url(#les)" opacity="0.9"/>
<rect x="331.9" y="669" width="1.4" height="119.7" fill="#fff" opacity="0.95"/>
<rect x="579.3" y="740" width="1.4" height="48.7" fill="#fff" opacity="0.7"/>
<rect x="826.5" y="669" width="1.4" height="119.7" fill="#fff" opacity="0.95"/>
<rect x="1073.0" y="669" width="1.4" height="119.7" fill="#fff" opacity="0.9"/>
<rect x="906.0" y="750" width="1.4" height="38.7" fill="#fff" opacity="0.4"/>
<rect x="1322.5" y="669" width="1.4" height="119.7" fill="#fff" opacity="0.95"/>
<rect x="1316.8" y="700" width="1.4" height="88.7" fill="#fff" opacity="0.4"/>
<rect x="229.8" y="645" width="1.4" height="24.0" fill="#fff" opacity="0.5"/>
<rect x="213.3" y="645" width="1.4" height="24.0" fill="#fff" opacity="0.3"/>
<rect x="246.3" y="645" width="1.4" height="24.0" fill="#fff" opacity="0.35"/>
<rect x="261.3" y="645" width="1.4" height="24.0" fill="#fff" opacity="0.3"/>
<rect x="719.3" y="645" width="1.4" height="24.0" fill="#fff" opacity="0.6"/>
<rect x="608.5" y="645" width="1.4" height="24.0" fill="#fff" opacity="0.7"/>
<rect x="630.3" y="645" width="1.4" height="24.0" fill="#fff" opacity="0.6"/>
<rect x="395.3" y="645" width="1.4" height="24.0" fill="#fff" opacity="0.5"/>
<rect x="391.3" y="645" width="1.4" height="24.0" fill="#fff" opacity="0.4"/>
<rect x="596.3" y="645" width="1.4" height="24.0" fill="#fff" opacity="0.5"/>
<rect x="860.3" y="645" width="1.4" height="24.0" fill="#fff" opacity="0.4"/>
<rect x="892.3" y="645" width="1.4" height="24.0" fill="#fff" opacity="0.5"/>
<rect x="1103.3" y="645" width="1.4" height="24.0" fill="#fff" opacity="0.4"/>
<rect x="1137.3" y="645" width="1.4" height="24.0" fill="#fff" opacity="0.5"/>
<linearGradient id="sl" x1="0" y1="0" x2="1" y2="0"><stop offset="0" stop-color="#e5ff1a" stop-opacity="0"/><stop offset="0.45" stop-color="#bdff42" stop-opacity="0.9"/><stop offset="0.8" stop-color="#2effd1"/><stop offset="1" stop-color="#00f0ff"/></linearGradient>
<linearGradient id="sr" x1="1" y1="0" x2="0" y2="0"><stop offset="0" stop-color="#e5ff1a" stop-opacity="0"/><stop offset="0.45" stop-color="#bdff42" stop-opacity="0.9"/><stop offset="0.8" stop-color="#2effd1"/><stop offset="1" stop-color="#00f0ff"/></linearGradient>
<rect x="365.0" y="645.1" width="3.7" height="143.6" fill="url(#sl)"/>
<rect x="378.6" y="645.1" width="3.4" height="143.6" fill="url(#sr)"/>
<rect x="368.6" y="631.0" width="10.1" height="157.7" fill="#fff"/>
<rect x="367.7" y="631.0" width="0.9" height="157.7" fill="#2030e0" opacity="0.55"/>
<rect x="370.8" y="631.0" width="0.9" height="157.7" fill="#9090e8" opacity="0.4"/>
<rect x="374.3" y="631.0" width="0.9" height="157.7" fill="#8080e8" opacity="0.45"/>
<rect x="376.5" y="631.0" width="0.9" height="157.7" fill="#3040e0" opacity="0.6"/>
<rect x="613.2" y="645.1" width="3.7" height="143.6" fill="url(#sl)"/>
<rect x="621.6" y="645.1" width="3.4" height="143.6" fill="url(#sr)"/>
<rect x="616.8" y="631.0" width="4.9" height="157.7" fill="#fff"/>
<rect x="615.9" y="631.0" width="0.9" height="157.7" fill="#2030e0" opacity="0.55"/>
<rect x="859.6" y="645.1" width="3.7" height="143.6" fill="url(#sl)"/>
<rect x="872.0" y="645.1" width="3.4" height="143.6" fill="url(#sr)"/>
<rect x="863.2" y="631.0" width="8.9" height="157.7" fill="#fff"/>
<rect x="862.3" y="631.0" width="0.9" height="157.7" fill="#2030e0" opacity="0.55"/>
<rect x="865.4" y="631.0" width="0.9" height="157.7" fill="#9090e8" opacity="0.4"/>
<rect x="870.1" y="631.0" width="0.9" height="157.7" fill="#8080e8" opacity="0.45"/>
<rect x="1109.0" y="645.1" width="3.7" height="143.6" fill="url(#sl)"/>
<rect x="1118.1" y="645.1" width="3.4" height="143.6" fill="url(#sr)"/>
<rect x="1112.6" y="631.0" width="5.6" height="157.7" fill="#fff"/>
<rect x="1111.7" y="631.0" width="0.9" height="157.7" fill="#2030e0" opacity="0.55"/>
<rect x="1355.6" y="645.1" width="3.7" height="143.6" fill="url(#sl)"/>
<rect x="1359.2" y="631.0" width="6.0" height="157.7" fill="#fff"/>
<rect x="1358.3" y="631.0" width="0.9" height="157.7" fill="#2030e0" opacity="0.55"/>
<rect x="1365.2" y="631.0" width="1.3" height="157.7" fill="#b0b8f0"/>
</g>
<line x1="126.1" y1="624.0" x2="126.1" y2="631.0" class="tk"/>
<line x1="126.1" y1="788.7" x2="126.1" y2="795.7" class="tk"/>
<line x1="248.8" y1="624.0" x2="248.8" y2="631.0" class="tk"/>
<line x1="248.8" y1="788.7" x2="248.8" y2="795.7" class="tk"/>
<line x1="373.0" y1="624.0" x2="373.0" y2="631.0" class="tk"/>
<line x1="373.0" y1="788.7" x2="373.0" y2="795.7" class="tk"/>
<line x1="497.2" y1="624.0" x2="497.2" y2="631.0" class="tk"/>
<line x1="497.2" y1="788.7" x2="497.2" y2="795.7" class="tk"/>
<line x1="621.4" y1="624.0" x2="621.4" y2="631.0" class="tk"/>
<line x1="621.4" y1="788.7" x2="621.4" y2="795.7" class="tk"/>
<line x1="745.6" y1="624.0" x2="745.6" y2="631.0" class="tk"/>
<line x1="745.6" y1="788.7" x2="745.6" y2="795.7" class="tk"/>
<line x1="869.8" y1="624.0" x2="869.8" y2="631.0" class="tk"/>
<line x1="869.8" y1="788.7" x2="869.8" y2="795.7" class="tk"/>
<line x1="994.0" y1="624.0" x2="994.0" y2="631.0" class="tk"/>
<line x1="994.0" y1="788.7" x2="994.0" y2="795.7" class="tk"/>
<line x1="1118.2" y1="624.0" x2="1118.2" y2="631.0" class="tk"/>
<line x1="1118.2" y1="788.7" x2="1118.2" y2="795.7" class="tk"/>
<line x1="1242.4" y1="624.0" x2="1242.4" y2="631.0" class="tk"/>
<line x1="1242.4" y1="788.7" x2="1242.4" y2="795.7" class="tk"/>
<line x1="1366.6" y1="624.0" x2="1366.6" y2="631.0" class="tk"/>
<line x1="1366.6" y1="788.7" x2="1366.6" y2="795.7" class="tk"/>
<path d="M1366.5 631.0H126.1V788.7H1366.5" class="ax"/>
<line x1="1366.5" y1="630.2" x2="1366.5" y2="789.5" class="ax"/>
<line x1="121.1" y1="789.1" x2="126.1" y2="789.1" class="tk"/>
<line x1="1366.5" y1="789.1" x2="1371.5" y2="789.1" class="tk"/>
<line x1="121.1" y1="780.9" x2="126.1" y2="780.9" class="tk"/>
<line x1="1366.5" y1="780.9" x2="1371.5" y2="780.9" class="tk"/>
<line x1="121.1" y1="774.3" x2="126.1" y2="774.3" class="tk"/>
<line x1="1366.5" y1="774.3" x2="1371.5" y2="774.3" class="tk"/>
<line x1="121.1" y1="768.6" x2="126.1" y2="768.6" class="tk"/>
<line x1="1366.5" y1="768.6" x2="1371.5" y2="768.6" class="tk"/>
<line x1="121.1" y1="763.8" x2="126.1" y2="763.8" class="tk"/>
<line x1="1366.5" y1="763.8" x2="1371.5" y2="763.8" class="tk"/>
<line x1="121.1" y1="759.5" x2="126.1" y2="759.5" class="tk"/>
<line x1="1366.5" y1="759.5" x2="1371.5" y2="759.5" class="tk"/>
<line x1="117.1" y1="755.6" x2="126.1" y2="755.6" class="tk"/>
<line x1="1366.5" y1="755.6" x2="1375.5" y2="755.6" class="tk"/>
<line x1="121.1" y1="730.3" x2="126.1" y2="730.3" class="tk"/>
<line x1="1366.5" y1="730.3" x2="1371.5" y2="730.3" class="tk"/>
<line x1="121.1" y1="715.4" x2="126.1" y2="715.4" class="tk"/>
<line x1="1366.5" y1="715.4" x2="1371.5" y2="715.4" class="tk"/>
<line x1="121.1" y1="704.9" x2="126.1" y2="704.9" class="tk"/>
<line x1="1366.5" y1="704.9" x2="1371.5" y2="704.9" class="tk"/>
<line x1="121.1" y1="696.7" x2="126.1" y2="696.7" class="tk"/>
<line x1="1366.5" y1="696.7" x2="1371.5" y2="696.7" class="tk"/>
<line x1="121.1" y1="690.1" x2="126.1" y2="690.1" class="tk"/>
<line x1="1366.5" y1="690.1" x2="1371.5" y2="690.1" class="tk"/>
<line x1="121.1" y1="684.4" x2="126.1" y2="684.4" class="tk"/>
<line x1="1366.5" y1="684.4" x2="1371.5" y2="684.4" class="tk"/>
<line x1="121.1" y1="679.6" x2="126.1" y2="679.6" class="tk"/>
<line x1="1366.5" y1="679.6" x2="1371.5" y2="679.6" class="tk"/>
<line x1="121.1" y1="675.3" x2="126.1" y2="675.3" class="tk"/>
<line x1="1366.5" y1="675.3" x2="1371.5" y2="675.3" class="tk"/>
<line x1="117.1" y1="671.4" x2="126.1" y2="671.4" class="tk"/>
<line x1="1366.5" y1="671.4" x2="1375.5" y2="671.4" class="tk"/>
<line x1="121.1" y1="646.1" x2="126.1" y2="646.1" class="tk"/>
<line x1="1366.5" y1="646.1" x2="1371.5" y2="646.1" class="tk"/>
<line x1="121.1" y1="631.2" x2="126.1" y2="631.2" class="tk"/>
<line x1="1366.5" y1="631.2" x2="1371.5" y2="631.2" class="tk"/>
<text x="98.3" y="685.2" text-anchor="end" class="tl">10</text><text x="99.3" y="674.0" class="tl" style="font-size:17px">3</text>
<text x="98.3" y="769.4" text-anchor="end" class="tl">10</text><text x="99.3" y="758.2" class="tl" style="font-size:17px">2</text>
<rect x="152" y="634.5" width="47" height="42" fill="#fff"/>
<line x1="126.1" y1="954.1" x2="1366.5" y2="954.1" class="g"/>
<line x1="126.1" y1="922.5" x2="1366.5" y2="922.5" class="g"/>
<line x1="126.1" y1="890.8" x2="1366.5" y2="890.8" class="g"/>
<line x1="126.1" y1="859.2" x2="1366.5" y2="859.2" class="g"/>
<clipPath id="ce"><rect x="126.1" y="827.6" width="1240.4" height="158.10000000000002"/></clipPath><g clip-path="url(#ce)">
<path d="M136.4 992.3 138.4 987.2 140.4 982.1 142.4 977.1 144.4 972.3 146.4 967.5 148.4 962.9 150.4 958.5 152.4 954.1 154.4 950.0 156.4 945.9 158.4 942.0 160.4 938.3 162.4 934.6 164.4 931.1 166.4 927.7 168.4 924.5 170.4 921.3 172.4 918.3 174.4 915.3 176.4 912.5 178.4 909.7 180.4 907.1 182.4 904.6 184.4 902.1 186.4 899.8 188.4 897.5 190.4 895.3 192.4 893.3 194.4 891.3 196.4 889.4 198.4 887.5 200.4 885.8 202.4 884.1 204.4 882.5 206.4 881.0 208.4 879.6 210.4 878.2 212.4 876.9 214.4 875.7 216.4 874.6 218.4 873.5 220.4 872.5 222.4 871.6 224.4 870.8 226.4 870.0 228.4 869.3 230.4 868.6 232.4 868.1 234.4 867.6 236.4 867.1 238.4 866.8 240.4 866.5 242.4 866.3 244.4 866.1 246.4 866.0 248.4 866.0 250.4 866.0 252.4 866.1 254.4 866.3 256.4 866.6 258.4 866.9 260.4 867.3 262.4 867.7 264.4 868.2 266.4 868.8 268.4 869.5 270.4 870.2 272.4 871.0 274.4 871.9 276.4 872.8 278.4 873.8 280.4 874.9 282.4 876.1 284.4 877.3 286.4 878.6 288.4 880.0 290.4 881.5 292.4 883.0 294.4 884.6 296.4 886.3 298.4 888.1 300.4 889.9 302.4 891.9 304.4 893.9 306.4 896.0 308.4 898.2 310.4 900.5 312.4 902.9 314.4 905.3 316.4 907.9 318.4 910.6 320.4 913.3 322.4 916.2 324.4 919.2 326.4 922.2 328.4 925.4 330.4 928.7 332.4 932.2 334.4 935.7 336.4 939.4 338.4 943.2 340.4 947.1 342.4 951.2 344.4 955.4 346.4 959.8 348.4 964.3 350.4 968.9 352.4 973.7 354.4 978.6 356.4 983.6 358.4 988.7" fill="none" stroke="#000" stroke-width="3.2" stroke-linejoin="round"/>
<path d="M383.6 989.5 385.6 983.8 387.6 978.0 389.6 972.4 391.6 966.9 393.6 961.6 395.6 956.4 397.6 951.3 399.6 946.5 401.6 941.8 403.6 937.2 405.6 932.8 407.6 928.6 409.6 924.5 411.6 920.5 413.6 916.7 415.6 913.0 417.6 909.4 419.6 906.0 421.6 902.7 423.6 899.5 425.6 896.4 427.6 893.4 429.6 890.6 431.6 887.8 433.6 885.1 435.6 882.6 437.6 880.1 439.6 877.8 441.6 875.5 443.6 873.4 445.6 871.3 447.6 869.4 449.6 867.5 451.6 865.7 453.6 864.0 455.6 862.4 457.6 860.8 459.6 859.4 461.6 858.0 463.6 856.7 465.6 855.5 467.6 854.4 469.6 853.4 471.6 852.4 473.6 851.5 475.6 850.8 477.6 850.0 479.6 849.4 481.6 848.8 483.6 848.3 485.6 847.9 487.6 847.6 489.6 847.3 491.6 847.2 493.6 847.1 495.6 847.0 497.6 847.1 499.6 847.2 501.6 847.4 503.6 847.7 505.6 848.0 507.6 848.5 509.6 849.0 511.6 849.6 513.6 850.2 515.6 851.0 517.6 851.8 519.6 852.7 521.6 853.7 523.6 854.7 525.6 855.9 527.6 857.1 529.6 858.4 531.6 859.8 533.6 861.3 535.6 862.8 537.6 864.5 539.6 866.2 541.6 868.0 543.6 869.9 545.6 871.9 547.6 874.0 549.6 876.2 551.6 878.5 553.6 880.9 555.6 883.4 557.6 885.9 559.6 888.6 561.6 891.4 563.6 894.3 565.6 897.3 567.6 900.4 569.6 903.7 571.6 907.0 573.6 910.5 575.6 914.1 577.6 917.8 579.6 921.7 581.6 925.7 583.6 929.8 585.6 934.1 587.6 938.6 589.6 943.2 591.6 947.9 593.6 952.8 595.6 957.9 597.6 963.1 599.6 968.5 601.6 974.1 603.6 979.7 605.6 985.5 607.6 991.3" fill="none" stroke="#000" stroke-width="3.2" stroke-linejoin="round"/>
<path d="M631.3 992.0 633.3 986.8 635.3 981.6 637.3 976.6 639.3 971.6 641.3 966.8 643.3 962.2 645.3 957.6 647.3 953.3 649.3 949.0 651.3 944.9 653.3 941.0 655.3 937.2 657.3 933.5 659.3 929.9 661.3 926.5 663.3 923.1 665.3 919.9 667.3 916.8 669.3 913.8 671.3 911.0 673.3 908.2 675.3 905.5 677.3 902.9 679.3 900.5 681.3 898.1 683.3 895.8 685.3 893.6 687.3 891.5 689.3 889.4 691.3 887.5 693.3 885.6 695.3 883.9 697.3 882.2 699.3 880.6 701.3 879.0 703.3 877.6 705.3 876.2 707.3 874.9 709.3 873.7 711.3 872.5 713.3 871.4 715.3 870.4 717.3 869.5 719.3 868.6 721.3 867.8 723.3 867.1 725.3 866.5 727.3 865.9 729.3 865.4 731.3 865.0 733.3 864.6 735.3 864.3 737.3 864.1 739.3 863.9 741.3 863.8 743.3 863.8 745.3 863.8 747.3 863.9 749.3 864.1 751.3 864.4 753.3 864.7 755.3 865.1 757.3 865.5 759.3 866.1 761.3 866.7 763.3 867.3 765.3 868.1 767.3 868.9 769.3 869.8 771.3 870.7 773.3 871.7 775.3 872.8 777.3 874.0 779.3 875.3 781.3 876.6 783.3 878.0 785.3 879.5 787.3 881.0 789.3 882.7 791.3 884.4 793.3 886.2 795.3 888.1 797.3 890.0 799.3 892.1 801.3 894.2 803.3 896.5 805.3 898.8 807.3 901.2 809.3 903.7 811.3 906.3 813.3 909.0 815.3 911.8 817.3 914.7 819.3 917.7 821.3 920.9 823.3 924.1 825.3 927.5 827.3 931.0 829.3 934.6 831.3 938.3 833.3 942.1 835.3 946.1 837.3 950.3 839.3 954.6 841.3 959.0 843.3 963.5 845.3 968.3 847.3 973.1 849.3 978.1 851.3 983.2 853.3 988.4 855.3 993.6" fill="none" stroke="#000" stroke-width="3.2" stroke-linejoin="round"/>
<path d="M878.6 992.0 880.6 986.8 882.6 981.6 884.6 976.6 886.6 971.6 888.6 966.8 890.6 962.2 892.6 957.6 894.6 953.3 896.6 949.0 898.6 944.9 900.6 941.0 902.6 937.2 904.6 933.5 906.6 929.9 908.6 926.5 910.6 923.1 912.6 919.9 914.6 916.8 916.6 913.8 918.6 911.0 920.6 908.2 922.6 905.5 924.6 902.9 926.6 900.5 928.6 898.1 930.6 895.8 932.6 893.6 934.6 891.5 936.6 889.4 938.6 887.5 940.6 885.6 942.6 883.9 944.6 882.2 946.6 880.6 948.6 879.0 950.6 877.6 952.6 876.2 954.6 874.9 956.6 873.7 958.6 872.5 960.6 871.4 962.6 870.4 964.6 869.5 966.6 868.6 968.6 867.8 970.6 867.1 972.6 866.5 974.6 865.9 976.6 865.4 978.6 865.0 980.6 864.6 982.6 864.3 984.6 864.1 986.6 863.9 988.6 863.8 990.6 863.8 992.6 863.8 994.6 863.9 996.6 864.1 998.6 864.4 1000.6 864.7 1002.6 865.1 1004.6 865.5 1006.6 866.1 1008.6 866.7 1010.6 867.3 1012.6 868.1 1014.6 868.9 1016.6 869.8 1018.6 870.7 1020.6 871.7 1022.6 872.8 1024.6 874.0 1026.6 875.3 1028.6 876.6 1030.6 878.0 1032.6 879.5 1034.6 881.0 1036.6 882.7 1038.6 884.4 1040.6 886.2 1042.6 888.1 1044.6 890.0 1046.6 892.1 1048.6 894.2 1050.6 896.5 1052.6 898.8 1054.6 901.2 1056.6 903.7 1058.6 906.3 1060.6 909.0 1062.6 911.8 1064.6 914.7 1066.6 917.7 1068.6 920.9 1070.6 924.1 1072.6 927.5 1074.6 931.0 1076.6 934.6 1078.6 938.3 1080.6 942.1 1082.6 946.1 1084.6 950.3 1086.6 954.6 1088.6 959.0 1090.6 963.5 1092.6 968.3 1094.6 973.1 1096.6 978.1 1098.6 983.2 1100.6 988.4 1102.6 993.6" fill="none" stroke="#000" stroke-width="3.2" stroke-linejoin="round"/>
<path d="M1124.1 989.4 1126.1 983.6 1128.1 977.8 1130.1 972.2 1132.1 966.6 1134.1 961.3 1136.1 956.0 1138.1 951.0 1140.1 946.1 1142.1 941.4 1144.1 936.8 1146.1 932.4 1148.1 928.1 1150.1 924.0 1152.1 920.0 1154.1 916.1 1156.1 912.4 1158.1 908.8 1160.1 905.4 1162.1 902.0 1164.1 898.8 1166.1 895.7 1168.1 892.7 1170.1 889.9 1172.1 887.1 1174.1 884.4 1176.1 881.9 1178.1 879.4 1180.1 877.0 1182.1 874.8 1184.1 872.6 1186.1 870.5 1188.1 868.5 1190.1 866.6 1192.1 864.8 1194.1 863.1 1196.1 861.5 1198.1 860.0 1200.1 858.5 1202.1 857.1 1204.1 855.8 1206.1 854.6 1208.1 853.5 1210.1 852.5 1212.1 851.5 1214.1 850.6 1216.1 849.8 1218.1 849.1 1220.1 848.5 1222.1 847.9 1224.1 847.4 1226.1 847.0 1228.1 846.7 1230.1 846.4 1232.1 846.2 1234.1 846.1 1236.1 846.1 1238.1 846.1 1240.1 846.3 1242.1 846.5 1244.1 846.7 1246.1 847.1 1248.1 847.5 1250.1 848.0 1252.1 848.6 1254.1 849.3 1256.1 850.1 1258.1 850.9 1260.1 851.8 1262.1 852.8 1264.1 853.8 1266.1 855.0 1268.1 856.2 1270.1 857.5 1272.1 858.9 1274.1 860.4 1276.1 862.0 1278.1 863.6 1280.1 865.4 1282.1 867.2 1284.1 869.1 1286.1 871.1 1288.1 873.2 1290.1 875.4 1292.1 877.7 1294.1 880.1 1296.1 882.6 1298.1 885.2 1300.1 887.9 1302.1 890.7 1304.1 893.6 1306.1 896.6 1308.1 899.8 1310.1 903.0 1312.1 906.4 1314.1 909.9 1316.1 913.5 1318.1 917.3 1320.1 921.2 1322.1 925.2 1324.1 929.4 1326.1 933.7 1328.1 938.1 1330.1 942.8 1332.1 947.5 1334.1 952.5 1336.1 957.6 1338.1 962.9 1340.1 968.3 1342.1 973.8 1344.1 979.5 1346.1 985.3 1348.1 991.1" fill="none" stroke="#000" stroke-width="3.2" stroke-linejoin="round"/>
<circle cx="201.7" cy="884.7" r="4.6" fill="#0096ff"/>
<circle cx="202.8" cy="883.7" r="4.6" fill="#0095ff"/>
<circle cx="204.0" cy="882.8" r="4.6" fill="#0080ff"/>
<circle cx="205.2" cy="881.9" r="4.6" fill="#0039ff"/>
<circle cx="206.3" cy="881.1" r="4.6" fill="#0033ff"/>
<circle cx="207.0" cy="880.6" r="4.6" fill="#0064ff"/>
<circle cx="208.2" cy="879.7" r="4.6" fill="#006aff"/>
<circle cx="209.3" cy="879.0" r="4.6" fill="#0021ff"/>
<circle cx="210.5" cy="878.2" r="4.6" fill="#0061ff"/>
<circle cx="211.6" cy="877.4" r="4.6" fill="#003aff"/>
<circle cx="212.8" cy="876.7" r="4.6" fill="#005eff"/>
<circle cx="213.9" cy="876.0" r="4.6" fill="#00faff"/>
<circle cx="215.0" cy="875.4" r="4.6" fill="#0000ea"/>
<circle cx="216.2" cy="874.7" r="4.6" fill="#38ffc7"/>
<circle cx="217.3" cy="874.1" r="4.6" fill="#0047ff"/>
<circle cx="218.5" cy="873.5" r="4.6" fill="#0010ff"/>
<circle cx="219.6" cy="872.9" r="4.6" fill="#000bff"/>
<circle cx="220.8" cy="872.4" r="4.6" fill="#0000e0"/>
<circle cx="221.9" cy="871.8" r="4.6" fill="#002fff"/>
<circle cx="223.1" cy="871.3" r="4.6" fill="#0000fb"/>
<circle cx="224.2" cy="870.9" r="4.6" fill="#0008ff"/>
<circle cx="225.4" cy="870.4" r="4.6" fill="#0037ff"/>
<circle cx="226.5" cy="870.0" r="4.6" fill="#0051ff"/>
<circle cx="227.7" cy="869.5" r="4.6" fill="#0071ff"/>
<circle cx="228.8" cy="869.2" r="4.6" fill="#0062ff"/>
<circle cx="230.0" cy="868.8" r="4.6" fill="#0035ff"/>
<circle cx="230.0" cy="868.8" r="4.6" fill="#59ffa6"/>
<circle cx="231.2" cy="868.4" r="4.6" fill="#5fffa0"/>
<circle cx="232.3" cy="868.1" r="4.6" fill="#009fff"/>
<circle cx="233.5" cy="867.8" r="4.6" fill="#00c1ff"/>
<circle cx="234.6" cy="867.5" r="4.6" fill="#00abff"/>
<circle cx="235.8" cy="867.3" r="4.6" fill="#003bff"/>
<circle cx="236.9" cy="867.0" r="4.6" fill="#00d0ff"/>
<circle cx="238.1" cy="866.8" r="4.6" fill="#0095ff"/>
<circle cx="239.2" cy="866.7" r="4.6" fill="#00c8ff"/>
<circle cx="240.4" cy="866.5" r="4.6" fill="#009dff"/>
<circle cx="241.5" cy="866.4" r="4.6" fill="#00c3ff"/>
<circle cx="242.7" cy="866.2" r="4.6" fill="#0079ff"/>
<circle cx="243.8" cy="866.1" r="4.6" fill="#0085ff"/>
<circle cx="245.0" cy="866.1" r="4.6" fill="#0077ff"/>
<circle cx="246.1" cy="866.0" r="4.6" fill="#0085ff"/>
<circle cx="247.0" cy="866.0" r="4.6" fill="#03fffc"/>
<circle cx="248.2" cy="866.0" r="4.6" fill="#04fffb"/>
<circle cx="249.3" cy="866.0" r="4.6" fill="#3dffc2"/>
<circle cx="250.5" cy="866.0" r="4.6" fill="#54ffab"/>
<circle cx="251.6" cy="866.1" r="4.6" fill="#68ff97"/>
<circle cx="252.8" cy="866.2" r="4.6" fill="#0015ff"/>
<circle cx="253.0" cy="866.2" r="4.6" fill="#0000e2"/>
<circle cx="254.2" cy="866.3" r="4.6" fill="#0007ff"/>
<circle cx="255.3" cy="866.4" r="4.6" fill="#0098ff"/>
<circle cx="256.4" cy="866.6" r="4.6" fill="#006cff"/>
<circle cx="257.6" cy="866.8" r="4.6" fill="#007eff"/>
<circle cx="258.7" cy="866.9" r="4.6" fill="#0099ff"/>
<circle cx="259.9" cy="867.2" r="4.6" fill="#0032ff"/>
<circle cx="261.0" cy="867.4" r="4.6" fill="#0000fe"/>
<circle cx="262.2" cy="867.7" r="4.6" fill="#001bff"/>
<circle cx="263.3" cy="868.0" r="4.6" fill="#0003ff"/>
<circle cx="264.5" cy="868.3" r="4.6" fill="#0023ff"/>
<circle cx="265.6" cy="868.6" r="4.6" fill="#0066ff"/>
<circle cx="266.8" cy="869.0" r="4.6" fill="#0026ff"/>
<circle cx="267.9" cy="869.3" r="4.6" fill="#0022ff"/>
<circle cx="269.1" cy="869.7" r="4.6" fill="#000eff"/>
<circle cx="270.0" cy="870.1" r="4.6" fill="#0000f0"/>
<circle cx="271.1" cy="870.5" r="4.6" fill="#0000aa"/>
<circle cx="272.3" cy="871.0" r="4.6" fill="#0000c1"/>
<circle cx="273.4" cy="871.5" r="4.6" fill="#0000ea"/>
<circle cx="274.6" cy="872.0" r="4.6" fill="#0000cf"/>
<circle cx="275.7" cy="872.5" r="4.6" fill="#0000ad"/>
<circle cx="276.9" cy="873.1" r="4.6" fill="#0000b7"/>
<circle cx="278.0" cy="873.7" r="4.6" fill="#0000a9"/>
<circle cx="279.2" cy="874.3" r="4.6" fill="#0000cf"/>
<circle cx="280.3" cy="874.9" r="4.6" fill="#0009ff"/>
<circle cx="281.5" cy="875.5" r="4.6" fill="#0000d3"/>
<circle cx="282.6" cy="876.2" r="4.6" fill="#0000dc"/>
<circle cx="283.8" cy="876.9" r="4.6" fill="#0000b3"/>
<circle cx="284.9" cy="877.7" r="4.6" fill="#0000f9"/>
<circle cx="286.1" cy="878.4" r="4.6" fill="#0000b9"/>
<circle cx="287.2" cy="879.2" r="4.6" fill="#0000b3"/>
<circle cx="288.4" cy="880.0" r="4.6" fill="#0000d8"/>
<circle cx="289.5" cy="880.8" r="4.6" fill="#0000c7"/>
<circle cx="290.7" cy="881.7" r="4.6" fill="#0000b7"/>
<circle cx="291.8" cy="882.6" r="4.6" fill="#0000b4"/>
<circle cx="293.0" cy="883.5" r="4.6" fill="#0000d6"/>
<circle cx="421.9" cy="902.2" r="4.6" fill="#00fdff"/>
<circle cx="423.0" cy="900.3" r="4.6" fill="#00ffff"/>
<circle cx="424.2" cy="898.5" r="4.6" fill="#00e5ff"/>
<circle cx="425.3" cy="896.8" r="4.6" fill="#02fffd"/>
<circle cx="426.5" cy="895.0" r="4.6" fill="#009bff"/>
<circle cx="427.0" cy="894.3" r="4.6" fill="#000cff"/>
<circle cx="428.1" cy="892.6" r="4.6" fill="#0078ff"/>
<circle cx="429.3" cy="891.0" r="4.6" fill="#0041ff"/>
<circle cx="430.4" cy="889.4" r="4.6" fill="#0032ff"/>
<circle cx="431.6" cy="887.8" r="4.6" fill="#0053ff"/>
<circle cx="432.7" cy="886.3" r="4.6" fill="#0051ff"/>
<circle cx="433.9" cy="884.8" r="4.6" fill="#001dff"/>
<circle cx="435.0" cy="883.3" r="4.6" fill="#0017ff"/>
<circle cx="436.0" cy="882.1" r="4.6" fill="#0000d7"/>
<circle cx="437.1" cy="880.7" r="4.6" fill="#0000b1"/>
<circle cx="438.3" cy="879.3" r="4.6" fill="#0000af"/>
<circle cx="439.4" cy="878.0" r="4.6" fill="#0000d0"/>
<circle cx="440.6" cy="876.7" r="4.6" fill="#0000e7"/>
<circle cx="441.7" cy="875.4" r="4.6" fill="#0000b8"/>
<circle cx="466.2" cy="855.2" r="4.6" fill="#0000d7"/>
<circle cx="524.3" cy="855.1" r="4.6" fill="#0000b3"/>
<circle cx="535.3" cy="862.6" r="4.6" fill="#000cff"/>
<circle cx="536.4" cy="863.5" r="4.6" fill="#000dff"/>
<circle cx="537.0" cy="864.0" r="4.6" fill="#a30000"/>
<circle cx="538.1" cy="864.9" r="4.6" fill="#8d0000"/>
<circle cx="539.3" cy="865.9" r="4.6" fill="#9a0000"/>
<circle cx="540.4" cy="867.0" r="4.6" fill="#dc0000"/>
<circle cx="541.6" cy="868.0" r="4.6" fill="#cf0000"/>
<circle cx="542.7" cy="869.1" r="4.6" fill="#cd0000"/>
<circle cx="543.9" cy="870.2" r="4.6" fill="#9c0000"/>
<circle cx="545.0" cy="871.3" r="4.6" fill="#ffc100"/>
<circle cx="546.1" cy="872.5" r="4.6" fill="#ffcc00"/>
<circle cx="547.3" cy="873.7" r="4.6" fill="#ffb700"/>
<circle cx="548.4" cy="874.9" r="4.6" fill="#63ff9c"/>
<circle cx="549.6" cy="876.2" r="4.6" fill="#ff9c00"/>
<circle cx="550.7" cy="877.5" r="4.6" fill="#ff6e00"/>
<circle cx="551.9" cy="878.8" r="4.6" fill="#e60000"/>
<circle cx="553.0" cy="880.2" r="4.6" fill="#da0000"/>
<circle cx="554.2" cy="881.6" r="4.6" fill="#ffd000"/>
<circle cx="555.3" cy="883.0" r="4.6" fill="#00fdff"/>
<circle cx="556.5" cy="884.5" r="4.6" fill="#e40000"/>
<circle cx="557.6" cy="886.0" r="4.6" fill="#db0000"/>
<circle cx="558.8" cy="887.5" r="4.6" fill="#d00000"/>
<circle cx="559.9" cy="889.1" r="4.6" fill="#e10000"/>
<circle cx="561.1" cy="890.7" r="4.6" fill="#00e2ff"/>
<circle cx="562.2" cy="892.3" r="4.6" fill="#ddff22"/>
<circle cx="563.4" cy="894.0" r="4.6" fill="#f4ff0b"/>
<circle cx="564.5" cy="895.7" r="4.6" fill="#e1ff1e"/>
<circle cx="565.7" cy="897.5" r="4.6" fill="#fcff03"/>
<circle cx="566.8" cy="899.2" r="4.6" fill="#ff3a00"/>
<circle cx="568.0" cy="901.1" r="4.6" fill="#ff4e00"/>
<circle cx="569.1" cy="902.9" r="4.6" fill="#ff3400"/>
<circle cx="570.3" cy="904.8" r="4.6" fill="#fff300"/>
<circle cx="571.4" cy="906.8" r="4.6" fill="#ff3200"/>
<circle cx="572.6" cy="908.7" r="4.6" fill="#e70000"/>
<circle cx="573.7" cy="910.8" r="4.6" fill="#ff1600"/>
<circle cx="574.9" cy="912.8" r="4.6" fill="#ff0e00"/>
<circle cx="575.0" cy="913.0" r="4.6" fill="#4cffb3"/>
<circle cx="576.1" cy="915.1" r="4.6" fill="#ffca00"/>
<circle cx="577.3" cy="917.3" r="4.6" fill="#5affa5"/>
<circle cx="578.4" cy="919.4" r="4.6" fill="#2fffd0"/>
<circle cx="579.6" cy="921.7" r="4.6" fill="#ffab00"/>
<circle cx="580.7" cy="924.0" r="4.6" fill="#ffaa00"/>
<circle cx="581.9" cy="926.3" r="4.6" fill="#ffef00"/>
<circle cx="583.0" cy="928.6" r="4.6" fill="#00d5ff"/>
<circle cx="584.1" cy="931.0" r="4.6" fill="#0074ff"/>
<circle cx="585.3" cy="933.5" r="4.6" fill="#006dff"/>
<circle cx="658.4" cy="931.5" r="4.6" fill="#0097ff"/>
<circle cx="659.5" cy="929.5" r="4.6" fill="#0069ff"/>
<circle cx="660.7" cy="927.5" r="4.6" fill="#0067ff"/>
<circle cx="661.8" cy="925.5" r="4.6" fill="#00bfff"/>
<circle cx="663.0" cy="923.6" r="4.6" fill="#008bff"/>
<circle cx="664.1" cy="921.8" r="4.6" fill="#0084ff"/>
<circle cx="665.0" cy="920.4" r="4.6" fill="#00ffff"/>
<circle cx="666.1" cy="918.6" r="4.6" fill="#00e6ff"/>
<circle cx="667.3" cy="916.8" r="4.6" fill="#05fffa"/>
<circle cx="668.4" cy="915.1" r="4.6" fill="#00cbff"/>
<circle cx="669.6" cy="913.4" r="4.6" fill="#00f6ff"/>
<circle cx="670.7" cy="911.7" r="4.6" fill="#0084ff"/>
<circle cx="671.9" cy="910.1" r="4.6" fill="#0068ff"/>
<circle cx="673.0" cy="908.5" r="4.6" fill="#ffe600"/>
<circle cx="674.2" cy="907.0" r="4.6" fill="#dfff20"/>
<circle cx="675.3" cy="905.4" r="4.6" fill="#005dff"/>
<circle cx="676.5" cy="904.0" r="4.6" fill="#00e1ff"/>
<circle cx="677.6" cy="902.5" r="4.6" fill="#00ecff"/>
<circle cx="678.8" cy="901.1" r="4.6" fill="#0000fc"/>
<circle cx="679.9" cy="899.7" r="4.6" fill="#0017ff"/>
<circle cx="680.0" cy="899.6" r="4.6" fill="#0000e0"/>
<circle cx="681.1" cy="898.2" r="4.6" fill="#0000ae"/>
<circle cx="682.3" cy="896.9" r="4.6" fill="#0000ad"/>
<circle cx="683.4" cy="895.6" r="4.6" fill="#0000d3"/>
<circle cx="684.6" cy="894.3" r="4.6" fill="#0000d7"/>
<circle cx="685.7" cy="893.1" r="4.6" fill="#0000d8"/>
<circle cx="686.9" cy="891.9" r="4.6" fill="#0000bc"/>
<circle cx="688.0" cy="890.7" r="4.6" fill="#0000f6"/>
<circle cx="689.2" cy="889.5" r="4.6" fill="#0000d2"/>
<circle cx="698.0" cy="881.6" r="4.6" fill="#000092"/>
<circle cx="702.0" cy="878.5" r="4.6" fill="#000080"/>
<circle cx="706.0" cy="875.7" r="4.6" fill="#0000bc"/>
<circle cx="712.0" cy="872.1" r="4.6" fill="#006fff"/>
<circle cx="713.1" cy="871.5" r="4.6" fill="#0089ff"/>
<circle cx="714.3" cy="870.9" r="4.6" fill="#00dfff"/>
<circle cx="715.4" cy="870.3" r="4.6" fill="#00bfff"/>
<circle cx="716.6" cy="869.8" r="4.6" fill="#0095ff"/>
<circle cx="717.7" cy="869.3" r="4.6" fill="#0071ff"/>
<circle cx="718.9" cy="868.8" r="4.6" fill="#00c2ff"/>
<circle cx="720.0" cy="868.3" r="4.6" fill="#ffba00"/>
<circle cx="721.1" cy="867.9" r="4.6" fill="#ffc000"/>
<circle cx="722.3" cy="867.5" r="4.6" fill="#00faff"/>
<circle cx="723.4" cy="867.1" r="4.6" fill="#9eff61"/>
<circle cx="724.6" cy="866.7" r="4.6" fill="#ffaa00"/>
<circle cx="725.7" cy="866.3" r="4.6" fill="#8fff70"/>
<circle cx="726.9" cy="866.0" r="4.6" fill="#ffe900"/>
<circle cx="728.0" cy="865.7" r="4.6" fill="#b20000"/>
<circle cx="729.2" cy="865.4" r="4.6" fill="#980000"/>
<circle cx="730.3" cy="865.2" r="4.6" fill="#a30000"/>
<circle cx="731.5" cy="864.9" r="4.6" fill="#74ff8b"/>
<circle cx="732.6" cy="864.7" r="4.6" fill="#89ff76"/>
<circle cx="733.8" cy="864.5" r="4.6" fill="#8aff75"/>
<circle cx="734.9" cy="864.3" r="4.6" fill="#62ff9d"/>
<circle cx="736.1" cy="864.2" r="4.6" fill="#ff7700"/>
<circle cx="737.2" cy="864.1" r="4.6" fill="#a50000"/>
<circle cx="738.0" cy="864.0" r="4.6" fill="#ff7000"/>
<circle cx="739.1" cy="863.9" r="4.6" fill="#d80000"/>
<circle cx="740.3" cy="863.8" r="4.6" fill="#cd0000"/>
<circle cx="741.4" cy="863.8" r="4.6" fill="#d60000"/>
<circle cx="742.6" cy="863.8" r="4.6" fill="#df0000"/>
<circle cx="743.7" cy="863.8" r="4.6" fill="#ab0000"/>
<circle cx="744.9" cy="863.8" r="4.6" fill="#b60000"/>
<circle cx="746.0" cy="863.9" r="4.6" fill="#14ffeb"/>
<circle cx="747.1" cy="863.9" r="4.6" fill="#00fdff"/>
<circle cx="748.3" cy="864.0" r="4.6" fill="#11ffee"/>
<circle cx="749.4" cy="864.1" r="4.6" fill="#00f7ff"/>
<circle cx="750.6" cy="864.3" r="4.6" fill="#8bff74"/>
<circle cx="751.7" cy="864.4" r="4.6" fill="#81ff7e"/>
<circle cx="752.9" cy="864.6" r="4.6" fill="#09fff6"/>
<circle cx="754.0" cy="864.8" r="4.6" fill="#00faff"/>
<circle cx="755.2" cy="865.1" r="4.6" fill="#87ff78"/>
<circle cx="756.3" cy="865.3" r="4.6" fill="#86ff79"/>
<circle cx="757.5" cy="865.6" r="4.6" fill="#07fff8"/>
<circle cx="758.6" cy="865.9" r="4.6" fill="#6dff92"/>
<circle cx="759.8" cy="866.2" r="4.6" fill="#04fffb"/>
<circle cx="760.0" cy="866.3" r="4.6" fill="#0031ff"/>
<circle cx="761.1" cy="866.6" r="4.6" fill="#00c7ff"/>
<circle cx="762.3" cy="867.0" r="4.6" fill="#35ffca"/>
<circle cx="763.4" cy="867.4" r="4.6" fill="#20ffdf"/>
<circle cx="764.6" cy="867.8" r="4.6" fill="#00d1ff"/>
<circle cx="765.7" cy="868.2" r="4.6" fill="#0012ff"/>
<circle cx="766.9" cy="868.7" r="4.6" fill="#0076ff"/>
<circle cx="768.0" cy="869.2" r="4.6" fill="#0094ff"/>
<circle cx="769.2" cy="869.7" r="4.6" fill="#00e2ff"/>
<circle cx="770.3" cy="870.3" r="4.6" fill="#00c3ff"/>
<circle cx="771.5" cy="870.8" r="4.6" fill="#0071ff"/>
<circle cx="772.6" cy="871.4" r="4.6" fill="#0023ff"/>
<circle cx="773.8" cy="872.0" r="4.6" fill="#001cff"/>
<circle cx="774.9" cy="872.6" r="4.6" fill="#0011ff"/>
<circle cx="776.1" cy="873.3" r="4.6" fill="#00dbff"/>
<circle cx="777.2" cy="874.0" r="4.6" fill="#00e9ff"/>
<circle cx="778.4" cy="874.7" r="4.6" fill="#007dff"/>
<circle cx="779.5" cy="875.4" r="4.6" fill="#006eff"/>
<circle cx="780.0" cy="875.7" r="4.6" fill="#00ffff"/>
<circle cx="781.1" cy="876.5" r="4.6" fill="#90ff6f"/>
<circle cx="782.3" cy="877.3" r="4.6" fill="#6aff95"/>
<circle cx="783.4" cy="878.1" r="4.6" fill="#75ff8a"/>
<circle cx="784.6" cy="878.9" r="4.6" fill="#7cff83"/>
<circle cx="785.7" cy="879.8" r="4.6" fill="#34ffcb"/>
<circle cx="786.9" cy="880.7" r="4.6" fill="#92ff6d"/>
<circle cx="788.0" cy="881.6" r="4.6" fill="#6eff91"/>
<circle cx="789.2" cy="882.6" r="4.6" fill="#77ff88"/>
<circle cx="790.3" cy="883.6" r="4.6" fill="#8aff75"/>
<circle cx="791.5" cy="884.6" r="4.6" fill="#07fff8"/>
<circle cx="792.6" cy="885.6" r="4.6" fill="#13ffec"/>
<circle cx="793.8" cy="886.6" r="4.6" fill="#00feff"/>
<circle cx="794.9" cy="887.7" r="4.6" fill="#00f7ff"/>
<circle cx="796.1" cy="888.8" r="4.6" fill="#6eff91"/>
<circle cx="797.2" cy="890.0" r="4.6" fill="#32ffcd"/>
<circle cx="798.4" cy="891.2" r="4.6" fill="#41ffbe"/>
<circle cx="799.5" cy="892.3" r="4.6" fill="#22ffdd"/>
<circle cx="800.0" cy="892.8" r="4.6" fill="#0000ff"/>
<circle cx="801.1" cy="894.1" r="4.6" fill="#0001ff"/>
<circle cx="802.3" cy="895.3" r="4.6" fill="#0022ff"/>
<circle cx="803.4" cy="896.6" r="4.6" fill="#002dff"/>
<circle cx="804.6" cy="898.0" r="4.6" fill="#0008ff"/>
<circle cx="805.7" cy="899.3" r="4.6" fill="#0017ff"/>
<circle cx="806.9" cy="900.7" r="4.6" fill="#0036ff"/>
<circle cx="808.0" cy="902.1" r="4.6" fill="#0019ff"/>
<circle cx="809.2" cy="903.6" r="4.6" fill="#0021ff"/>
<circle cx="810.3" cy="905.1" r="4.6" fill="#00f9ff"/>
<circle cx="811.5" cy="906.6" r="4.6" fill="#00c7ff"/>
<circle cx="812.0" cy="907.2" r="4.6" fill="#0000fa"/>
<circle cx="813.1" cy="908.8" r="4.6" fill="#0000ee"/>
<circle cx="814.3" cy="910.4" r="4.6" fill="#0000f8"/>
<circle cx="815.4" cy="912.0" r="4.6" fill="#0000ff"/>
<circle cx="816.6" cy="913.7" r="4.6" fill="#0000ef"/>
<circle cx="817.7" cy="915.4" r="4.6" fill="#0000db"/>
<circle cx="821.8" cy="921.7" r="4.6" fill="#0000e1"/>
<circle cx="921.9" cy="906.4" r="4.6" fill="#ecff13"/>
<circle cx="923.0" cy="904.9" r="4.6" fill="#00f4ff"/>
<circle cx="924.2" cy="903.4" r="4.6" fill="#fff300"/>
<circle cx="925.0" cy="902.4" r="4.6" fill="#ff6600"/>
<circle cx="926.1" cy="901.0" r="4.6" fill="#ff8100"/>
<circle cx="927.3" cy="899.6" r="4.6" fill="#ff9200"/>
<circle cx="928.4" cy="898.2" r="4.6" fill="#ff9000"/>
<circle cx="929.6" cy="896.9" r="4.6" fill="#00e9ff"/>
<circle cx="930.7" cy="895.6" r="4.6" fill="#ff8500"/>
<circle cx="931.9" cy="894.3" r="4.6" fill="#e90000"/>
<circle cx="933.0" cy="893.1" r="4.6" fill="#ffc100"/>
<circle cx="934.2" cy="891.9" r="4.6" fill="#00f0ff"/>
<circle cx="935.3" cy="890.7" r="4.6" fill="#ffcb00"/>
<circle cx="936.5" cy="889.5" r="4.6" fill="#ff9100"/>
<circle cx="937.0" cy="889.0" r="4.6" fill="#92ff6d"/>
<circle cx="938.1" cy="887.9" r="4.6" fill="#0092ff"/>
<circle cx="939.3" cy="886.8" r="4.6" fill="#dfff20"/>
<circle cx="940.4" cy="885.8" r="4.6" fill="#96ff69"/>
<circle cx="941.6" cy="884.7" r="4.6" fill="#eaff15"/>
<circle cx="942.7" cy="883.7" r="4.6" fill="#006bff"/>
<circle cx="943.9" cy="882.8" r="4.6" fill="#6aff95"/>
<circle cx="945.0" cy="881.8" r="4.6" fill="#8eff71"/>
<circle cx="946.2" cy="880.9" r="4.6" fill="#82ff7d"/>
<circle cx="947.3" cy="880.0" r="4.6" fill="#6cff93"/>
<circle cx="948.5" cy="879.1" r="4.6" fill="#95ff6a"/>
<circle cx="949.6" cy="878.2" r="4.6" fill="#71ff8e"/>
<circle cx="950.0" cy="878.0" r="4.6" fill="#00fdff"/>
<circle cx="951.1" cy="877.2" r="4.6" fill="#00f5ff"/>
<circle cx="952.3" cy="876.4" r="4.6" fill="#00d2ff"/>
<circle cx="953.4" cy="875.6" r="4.6" fill="#0066ff"/>
<circle cx="954.6" cy="874.9" r="4.6" fill="#0082ff"/>
<circle cx="955.7" cy="874.2" r="4.6" fill="#0094ff"/>
<circle cx="956.9" cy="873.5" r="4.6" fill="#007aff"/>
<circle cx="958.0" cy="872.8" r="4.6" fill="#0024ff"/>
<circle cx="959.2" cy="872.2" r="4.6" fill="#00f1ff"/>
<circle cx="960.3" cy="871.6" r="4.6" fill="#00f0ff"/>
<circle cx="961.5" cy="871.0" r="4.6" fill="#00c8ff"/>
<circle cx="962.6" cy="870.4" r="4.6" fill="#2cffd3"/>
<circle cx="963.8" cy="869.9" r="4.6" fill="#0017ff"/>
<circle cx="964.9" cy="869.3" r="4.6" fill="#00fbff"/>
<circle cx="966.1" cy="868.8" r="4.6" fill="#006aff"/>
<circle cx="967.0" cy="868.5" r="4.6" fill="#0067ff"/>
<circle cx="968.1" cy="868.0" r="4.6" fill="#00f5ff"/>
<circle cx="969.3" cy="867.6" r="4.6" fill="#00d3ff"/>
<circle cx="970.4" cy="867.2" r="4.6" fill="#02fffd"/>
<circle cx="971.6" cy="866.8" r="4.6" fill="#0042ff"/>
<circle cx="972.7" cy="866.4" r="4.6" fill="#0037ff"/>
<circle cx="973.9" cy="866.1" r="4.6" fill="#0054ff"/>
<circle cx="975.0" cy="865.8" r="4.6" fill="#0047ff"/>
<circle cx="976.2" cy="865.5" r="4.6" fill="#0033ff"/>
<circle cx="977.3" cy="865.2" r="4.6" fill="#006aff"/>
<circle cx="978.5" cy="865.0" r="4.6" fill="#0032ff"/>
<circle cx="979.6" cy="864.7" r="4.6" fill="#0036ff"/>
<circle cx="980.0" cy="864.7" r="4.6" fill="#d50000"/>
<circle cx="981.1" cy="864.5" r="4.6" fill="#990000"/>
<circle cx="982.3" cy="864.3" r="4.6" fill="#970000"/>
<circle cx="983.4" cy="864.2" r="4.6" fill="#002bff"/>
<circle cx="984.6" cy="864.1" r="4.6" fill="#0006ff"/>
<circle cx="985.7" cy="864.0" r="4.6" fill="#0001ff"/>
<circle cx="986.9" cy="863.9" r="4.6" fill="#000fff"/>
<circle cx="988.0" cy="863.8" r="4.6" fill="#0020ff"/>
<circle cx="989.2" cy="863.8" r="4.6" fill="#001cff"/>
<circle cx="990.0" cy="863.8" r="4.6" fill="#31ffce"/>
<circle cx="991.1" cy="863.8" r="4.6" fill="#2fffd0"/>
<circle cx="992.3" cy="863.8" r="4.6" fill="#ffe600"/>
<circle cx="993.4" cy="863.9" r="4.6" fill="#fff700"/>
<circle cx="994.6" cy="863.9" r="4.6" fill="#00ddff"/>
<circle cx="995.7" cy="864.0" r="4.6" fill="#00e0ff"/>
<circle cx="996.9" cy="864.1" r="4.6" fill="#00f5ff"/>
<circle cx="998.0" cy="864.3" r="4.6" fill="#15ffea"/>
<circle cx="999.2" cy="864.5" r="4.6" fill="#12ffed"/>
<circle cx="1000.0" cy="864.6" r="4.6" fill="#cfff30"/>
<circle cx="1001.1" cy="864.8" r="4.6" fill="#b7ff48"/>
<circle cx="1002.3" cy="865.0" r="4.6" fill="#0083ff"/>
<circle cx="1003.4" cy="865.3" r="4.6" fill="#008fff"/>
<circle cx="1004.6" cy="865.5" r="4.6" fill="#17ffe8"/>
<circle cx="1005.7" cy="865.8" r="4.6" fill="#46ffb9"/>
<circle cx="1006.9" cy="866.1" r="4.6" fill="#77ff88"/>
<circle cx="1008.0" cy="866.5" r="4.6" fill="#82ff7d"/>
<circle cx="1009.2" cy="866.9" r="4.6" fill="#00f4ff"/>
<circle cx="1010.3" cy="867.2" r="4.6" fill="#05fffa"/>
<circle cx="1011.5" cy="867.7" r="4.6" fill="#bbff44"/>
<circle cx="1012.6" cy="868.1" r="4.6" fill="#adff52"/>
<circle cx="1013.8" cy="868.5" r="4.6" fill="#acff53"/>
<circle cx="1014.9" cy="869.0" r="4.6" fill="#0075ff"/>
<circle cx="1016.1" cy="869.5" r="4.6" fill="#0084ff"/>
<circle cx="1017.0" cy="869.9" r="4.6" fill="#dfff20"/>
<circle cx="1018.1" cy="870.5" r="4.6" fill="#fffa00"/>
<circle cx="1019.3" cy="871.1" r="4.6" fill="#ff8000"/>
<circle cx="1020.4" cy="871.7" r="4.6" fill="#28ffd7"/>
<circle cx="1021.6" cy="872.3" r="4.6" fill="#83ff7c"/>
<circle cx="1022.7" cy="872.9" r="4.6" fill="#9f0000"/>
<circle cx="1023.9" cy="873.6" r="4.6" fill="#880000"/>
<circle cx="1025.0" cy="874.3" r="4.6" fill="#b60000"/>
<circle cx="1026.2" cy="875.0" r="4.6" fill="#2fffd0"/>
<circle cx="1027.4" cy="875.8" r="4.6" fill="#7bff84"/>
<circle cx="1028.5" cy="876.5" r="4.6" fill="#64ff9b"/>
<circle cx="1029.7" cy="877.3" r="4.6" fill="#ffb700"/>
<circle cx="1030.8" cy="878.1" r="4.6" fill="#8f0000"/>
<circle cx="1032.0" cy="879.0" r="4.6" fill="#ffed00"/>
<circle cx="1033.1" cy="879.9" r="4.6" fill="#f7ff08"/>
<circle cx="1034.3" cy="880.8" r="4.6" fill="#9cff63"/>
<circle cx="1035.4" cy="881.7" r="4.6" fill="#9c0000"/>
<circle cx="1036.6" cy="882.6" r="4.6" fill="#ff7600"/>
<circle cx="1037.7" cy="883.6" r="4.6" fill="#ff6100"/>
<circle cx="1038.9" cy="884.6" r="4.6" fill="#ffa800"/>
<circle cx="1040.0" cy="885.6" r="4.6" fill="#50ffaf"/>
<circle cx="1041.2" cy="886.7" r="4.6" fill="#5cffa3"/>
<circle cx="1042.3" cy="887.8" r="4.6" fill="#32ffcd"/>
<circle cx="1043.5" cy="888.9" r="4.6" fill="#68ff97"/>
<circle cx="1044.6" cy="890.0" r="4.6" fill="#7dff82"/>
<circle cx="1045.8" cy="891.2" r="4.6" fill="#73ff8c"/>
<circle cx="1046.9" cy="892.4" r="4.6" fill="#7cff83"/>
<circle cx="1047.0" cy="892.5" r="4.6" fill="#0093ff"/>
<circle cx="1048.2" cy="893.7" r="4.6" fill="#008bff"/>
<circle cx="1049.3" cy="895.0" r="4.6" fill="#0063ff"/>
<circle cx="1050.5" cy="896.3" r="4.6" fill="#007fff"/>
<circle cx="1051.6" cy="897.6" r="4.6" fill="#006dff"/>
<circle cx="1052.8" cy="899.0" r="4.6" fill="#0094ff"/>
<circle cx="1053.9" cy="900.3" r="4.6" fill="#62ff9d"/>
<circle cx="1055.1" cy="901.7" r="4.6" fill="#1effe1"/>
<circle cx="1056.2" cy="903.2" r="4.6" fill="#00eeff"/>
<circle cx="1057.4" cy="904.7" r="4.6" fill="#72ff8d"/>
<circle cx="1058.5" cy="906.2" r="4.6" fill="#0069ff"/>
<circle cx="1059.7" cy="907.7" r="4.6" fill="#006bff"/>
<circle cx="1060.0" cy="908.2" r="4.6" fill="#0000e3"/>
<circle cx="1061.2" cy="909.8" r="4.6" fill="#0008ff"/>
<circle cx="1062.3" cy="911.4" r="4.6" fill="#0000f2"/>
<circle cx="1063.5" cy="913.0" r="4.6" fill="#0000e9"/>
<circle cx="1289.0" cy="874.2" r="4.6" fill="#0032ff"/>
<circle cx="1290.5" cy="875.9" r="4.6" fill="#0057ff"/>
<circle cx="1292.3" cy="878.0" r="4.6" fill="#40ffbf"/>
<circle cx="1307.0" cy="898.0" r="4.6" fill="#007dff"/>
<circle cx="1309.0" cy="901.2" r="4.6" fill="#0016ff"/>
<circle cx="1311.0" cy="904.5" r="4.6" fill="#004eff"/>
<circle cx="1313.5" cy="908.8" r="4.6" fill="#10ffef"/>
<circle cx="1316.3" cy="913.9" r="4.6" fill="#0030ff"/>
</g>
<line x1="248.8" y1="827.6" x2="248.8" y2="834.1" class="tk"/>
<line x1="248.8" y1="985.7" x2="248.8" y2="979.2" class="tk"/>
<line x1="373.0" y1="827.6" x2="373.0" y2="834.1" class="tk"/>
<line x1="373.0" y1="985.7" x2="373.0" y2="979.2" class="tk"/>
<line x1="497.2" y1="827.6" x2="497.2" y2="834.1" class="tk"/>
<line x1="497.2" y1="985.7" x2="497.2" y2="979.2" class="tk"/>
<line x1="621.4" y1="827.6" x2="621.4" y2="834.1" class="tk"/>
<line x1="621.4" y1="985.7" x2="621.4" y2="979.2" class="tk"/>
<line x1="745.6" y1="827.6" x2="745.6" y2="834.1" class="tk"/>
<line x1="745.6" y1="985.7" x2="745.6" y2="979.2" class="tk"/>
<line x1="869.8" y1="827.6" x2="869.8" y2="834.1" class="tk"/>
<line x1="869.8" y1="985.7" x2="869.8" y2="979.2" class="tk"/>
<line x1="994.0" y1="827.6" x2="994.0" y2="834.1" class="tk"/>
<line x1="994.0" y1="985.7" x2="994.0" y2="979.2" class="tk"/>
<line x1="1118.2" y1="827.6" x2="1118.2" y2="834.1" class="tk"/>
<line x1="1118.2" y1="985.7" x2="1118.2" y2="979.2" class="tk"/>
<line x1="1242.4" y1="827.6" x2="1242.4" y2="834.1" class="tk"/>
<line x1="1242.4" y1="985.7" x2="1242.4" y2="979.2" class="tk"/>
<path d="M1366.5 827.6H126.1V985.7H1366.5" class="ax"/>
<line x1="1366.5" y1="826.8000000000001" x2="1366.5" y2="986.5" class="ax"/>
<text x="117.1" y="993.6" text-anchor="end" class="tl">2</text>
<line x1="126.1" y1="954.1" x2="132.6" y2="954.1" class="tk"/>
<text x="117.1" y="962.0" text-anchor="end" class="tl">3</text>
<line x1="126.1" y1="922.5" x2="132.6" y2="922.5" class="tk"/>
<text x="117.1" y="930.4" text-anchor="end" class="tl">4</text>
<line x1="126.1" y1="890.8" x2="132.6" y2="890.8" class="tk"/>
<text x="117.1" y="898.7" text-anchor="end" class="tl">5</text>
<line x1="126.1" y1="859.2" x2="132.6" y2="859.2" class="tk"/>
<text x="117.1" y="867.1" text-anchor="end" class="tl">6</text>
<text x="117.1" y="835.5" text-anchor="end" class="tl">7</text>
<line x1="1366.5" y1="954.1" x2="1360.0" y2="954.1" class="tk"/>
<line x1="1366.5" y1="922.5" x2="1360.0" y2="922.5" class="tk"/>
<line x1="1366.5" y1="890.8" x2="1360.0" y2="890.8" class="tk"/>
<line x1="1366.5" y1="859.2" x2="1360.0" y2="859.2" class="tk"/>
<text x="124.6" y="1017" text-anchor="middle" class="tl" textLength="58" lengthAdjust="spacingAndGlyphs">04:50</text>
<text x="248.8" y="1017" text-anchor="middle" class="tl" textLength="58" lengthAdjust="spacingAndGlyphs">09:20</text>
<text x="373.0" y="1017" text-anchor="middle" class="tl" textLength="58" lengthAdjust="spacingAndGlyphs">13:50</text>
<text x="497.2" y="1017" text-anchor="middle" class="tl" textLength="58" lengthAdjust="spacingAndGlyphs">18:20</text>
<text x="621.4" y="1017" text-anchor="middle" class="tl" textLength="58" lengthAdjust="spacingAndGlyphs">22:50</text>
<text x="745.6" y="1017" text-anchor="middle" class="tl" textLength="58" lengthAdjust="spacingAndGlyphs">03:20</text>
<text x="869.8" y="1017" text-anchor="middle" class="tl" textLength="58" lengthAdjust="spacingAndGlyphs">07:50</text>
<text x="994.0" y="1017" text-anchor="middle" class="tl" textLength="58" lengthAdjust="spacingAndGlyphs">12:20</text>
<text x="1118.2" y="1017" text-anchor="middle" class="tl" textLength="58" lengthAdjust="spacingAndGlyphs">16:50</text>
<text x="1242.4" y="1017" text-anchor="middle" class="tl" textLength="58" lengthAdjust="spacingAndGlyphs">21:20</text>
<text x="1366.6" y="1017" text-anchor="middle" class="tl" textLength="58" lengthAdjust="spacingAndGlyphs">01:50</text>
<text x="2" y="1061" style="font-size:26px" fill="#000">Jan.</text>
<text x="126" y="1061" text-anchor="middle" style="font-size:26px" fill="#000">13</text>
<text x="746" y="1061" text-anchor="middle" style="font-size:26px" fill="#000">14</text>
<text x="1366" y="1061" text-anchor="middle" style="font-size:26px" fill="#000">15</text>
<text x="158" y="94.3" style="font-size:28px" fill="#000">(a)</text>
<text x="158" y="279.5" style="font-size:28px" fill="#000">(b)</text>
<text x="158" y="467.5" style="font-size:28px" fill="#000">(c)</text>
<text x="158" y="665.5" style="font-size:28px" fill="#000">(d)</text>
<rect x="157.5" y="840" width="35" height="32" fill="#fff"/>
<text x="158" y="864" style="font-size:28px" fill="#000">(e)</text>
<text x="746.4" y="617.3" text-anchor="middle" style="font-size:27px" fill="#000" textLength="572" lengthAdjust="spacingAndGlyphs">Van Allen Probe A, MagEIS, Pitch Angle=90°</text>
<text x="745.4" y="815" text-anchor="middle" style="font-size:27px" fill="#000" textLength="749" lengthAdjust="spacingAndGlyphs">Van Allen Probe A, EMFISIS, Whistler mode chorus waves</text>
<text transform="translate(28.2,193.3) rotate(-90)" class="yl " style="font-size:27.5px">V</text>
<text transform="translate(42.3,172.8) rotate(-90)" class="yl " style="font-size:21px" textLength="25.5" lengthAdjust="spacingAndGlyphs">sw</text>
<text transform="translate(28.2,135.8) rotate(-90)" class="yl " style="font-size:27.5px" textLength="77.5" lengthAdjust="spacingAndGlyphs">(km/s)</text>
<text transform="translate(28,329.9) rotate(-90)" text-anchor="middle" class="yl " style="font-size:27.5px" textLength="103" lengthAdjust="spacingAndGlyphs">Dst (nT)</text>
<text transform="translate(28,511.6) rotate(-90)" text-anchor="middle" class="yl " style="font-size:27.5px" textLength="147" lengthAdjust="spacingAndGlyphs">IMF Bz (nT)</text>
<text transform="translate(32.8,756) rotate(-90)" class="yl " style="font-size:27.5px">E</text>
<text transform="translate(46.3,735.3) rotate(-90)" class="yl " style="font-size:21px">k</text>
<text transform="translate(32.8,715.3) rotate(-90)" class="yl " style="font-size:27.5px" textLength="66" lengthAdjust="spacingAndGlyphs">(keV)</text>
<text transform="translate(39.8,908) rotate(-90)" text-anchor="middle" class="yl " style="font-size:27.5px">L</text>
<text transform="translate(1447.3,212.6) rotate(-90)" class="yl bl" style="font-size:27.5px">P</text>
<text transform="translate(1460.9,193) rotate(-90)" class="yl bl" style="font-size:21px" textLength="37.5" lengthAdjust="spacingAndGlyphs">dyn</text>
<text transform="translate(1447.3,143) rotate(-90)" class="yl bl" style="font-size:27.5px" textLength="65" lengthAdjust="spacingAndGlyphs">(nPa)</text>
<text transform="translate(1448.7,317) rotate(-90)" text-anchor="middle" class="yl bl" style="font-size:27.5px" textLength="97.5" lengthAdjust="spacingAndGlyphs">AE (nT)</text>
<text transform="translate(1492.5,811.5) rotate(-90)" class="yl" style="font-size:27.4px;fill:#111">Flux [(cm<tspan dy="-15.6" style="font-size:20px">2</tspan><tspan dy="15.6"> s sr MeV)</tspan><tspan dy="-15.6" style="font-size:20px">-1</tspan><tspan dy="15.6">]</tspan></text>
<text transform="translate(1483.8,933.9) rotate(-90)" text-anchor="middle" class="yl " style="font-size:27.5px" textLength="100.5" lengthAdjust="spacingAndGlyphs">Bw (pT)</text>
<linearGradient id="cbd" x1="0" y1="0" x2="0" y2="1"><stop offset="0" stop-color="#800000"/><stop offset="0.125" stop-color="#ff0000"/><stop offset="0.375" stop-color="#ffff00"/><stop offset="0.625" stop-color="#00ffff"/><stop offset="0.875" stop-color="#0000ff"/><stop offset="1" stop-color="#000080"/></linearGradient>
<rect x="1378.7" y="630.8" width="25.200000000000045" height="157.9000000000001" fill="url(#cbd)" stroke="#262626" stroke-width="1.3"/>
<line x1="1403.9" y1="641.4" x2="1401" y2="641.4" stroke="#262626" stroke-width="1.2"/>
<text x="1413.5" y="652.5" class="cb" textLength="24.6" lengthAdjust="spacingAndGlyphs">10</text><text x="1439.4" y="642.0" class="cbs" textLength="9.6" lengthAdjust="spacingAndGlyphs">9</text>
<line x1="1403.9" y1="688.0" x2="1401" y2="688.0" stroke="#262626" stroke-width="1.2"/>
<text x="1413.5" y="699.1" class="cb" textLength="24.6" lengthAdjust="spacingAndGlyphs">10</text><text x="1439.4" y="688.6" class="cbs" textLength="9.6" lengthAdjust="spacingAndGlyphs">7</text>
<line x1="1403.9" y1="733.5" x2="1401" y2="733.5" stroke="#262626" stroke-width="1.2"/>
<text x="1413.5" y="744.6" class="cb" textLength="24.6" lengthAdjust="spacingAndGlyphs">10</text><text x="1439.4" y="734.1" class="cbs" textLength="9.6" lengthAdjust="spacingAndGlyphs">5</text>
<line x1="1403.9" y1="778.5" x2="1401" y2="778.5" stroke="#262626" stroke-width="1.2"/>
<text x="1413.5" y="789.6" class="cb" textLength="24.6" lengthAdjust="spacingAndGlyphs">10</text><text x="1439.4" y="779.1" class="cbs" textLength="9.6" lengthAdjust="spacingAndGlyphs">3</text>
<linearGradient id="cbe" x1="0" y1="0" x2="0" y2="1"><stop offset="0" stop-color="#800000"/><stop offset="0.125" stop-color="#ff0000"/><stop offset="0.375" stop-color="#ffff00"/><stop offset="0.625" stop-color="#00ffff"/><stop offset="0.875" stop-color="#0000ff"/><stop offset="1" stop-color="#000080"/></linearGradient>
<rect x="1379" y="827.4" width="25.200000000000045" height="158.30000000000007" fill="url(#cbe)" stroke="#262626" stroke-width="1.3"/>
<text x="1413.8" y="835.1" class="cb" textLength="36.9" lengthAdjust="spacingAndGlyphs">100</text>
<line x1="1404.2" y1="906.7" x2="1401.5" y2="906.7" stroke="#262626" stroke-width="1.2"/>
<text x="1413.8" y="914.2" class="cb" textLength="24.6" lengthAdjust="spacingAndGlyphs">10</text>
<text x="1413.8" y="993.2" class="cb" textLength="12.3" lengthAdjust="spacingAndGlyphs">1</text>
<text x="380" y="27.6" text-anchor="middle" fill="#ff0000" style="font-size:36px" textLength="166" lengthAdjust="spacingAndGlyphs">substorm</text>
<line x1="381" y1="32" x2="381" y2="44" stroke="#000" stroke-width="1.2"/>
<path d="M381 56.5 L374 39 L381 43.5 L388 39 Z" fill="#000"/>
<line x1="381.2" y1="65" x2="381.2" y2="986" stroke="#ff0d0d" stroke-width="3.6"/>
</svg></body></html>
